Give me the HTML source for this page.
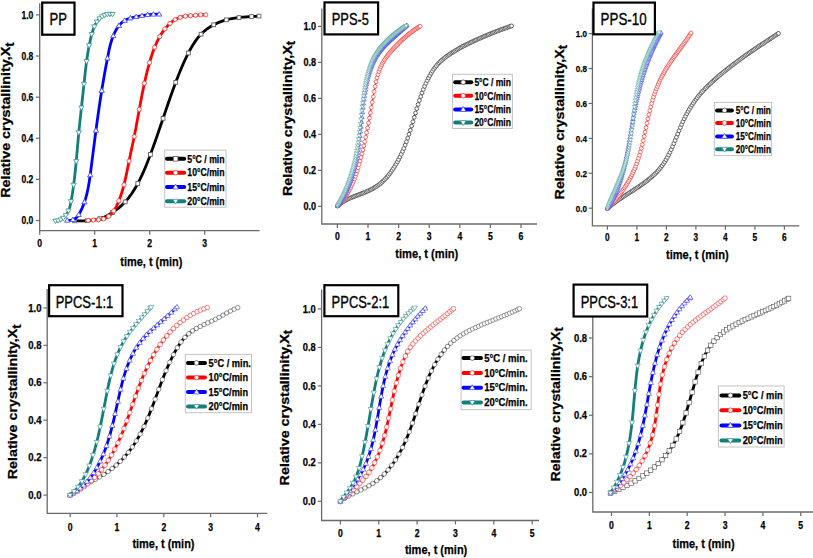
<!DOCTYPE html><html><head><meta charset="utf-8"><style>html,body{margin:0;padding:0;background:#fff;}svg{display:block}</style></head><body>
<svg width="813" height="558" viewBox="0 0 813 558">
<rect width="813" height="558" fill="#fff"/>
<path d="M39.7 3.3 V230.7 H259.6" fill="none" stroke="#6a6a6a" stroke-width="1.3"/>
<line x1="35.900000000000006" y1="220.50" x2="39.7" y2="220.50" stroke="#6a6a6a" stroke-width="1.2"/>
<text x="33.3" y="224.1" font-family="Liberation Sans" font-size="10" font-weight="bold" text-anchor="end" textLength="11.8" lengthAdjust="spacingAndGlyphs" stroke="#000" stroke-width="0.25">0.0</text>
<line x1="35.900000000000006" y1="179.38" x2="39.7" y2="179.38" stroke="#6a6a6a" stroke-width="1.2"/>
<text x="33.3" y="182.98" font-family="Liberation Sans" font-size="10" font-weight="bold" text-anchor="end" textLength="11.8" lengthAdjust="spacingAndGlyphs" stroke="#000" stroke-width="0.25">0.2</text>
<line x1="35.900000000000006" y1="138.26" x2="39.7" y2="138.26" stroke="#6a6a6a" stroke-width="1.2"/>
<text x="33.3" y="141.86" font-family="Liberation Sans" font-size="10" font-weight="bold" text-anchor="end" textLength="11.8" lengthAdjust="spacingAndGlyphs" stroke="#000" stroke-width="0.25">0.4</text>
<line x1="35.900000000000006" y1="97.14" x2="39.7" y2="97.14" stroke="#6a6a6a" stroke-width="1.2"/>
<text x="33.3" y="100.74" font-family="Liberation Sans" font-size="10" font-weight="bold" text-anchor="end" textLength="11.8" lengthAdjust="spacingAndGlyphs" stroke="#000" stroke-width="0.25">0.6</text>
<line x1="35.900000000000006" y1="56.02" x2="39.7" y2="56.02" stroke="#6a6a6a" stroke-width="1.2"/>
<text x="33.3" y="59.62" font-family="Liberation Sans" font-size="10" font-weight="bold" text-anchor="end" textLength="11.8" lengthAdjust="spacingAndGlyphs" stroke="#000" stroke-width="0.25">0.8</text>
<line x1="35.900000000000006" y1="14.90" x2="39.7" y2="14.90" stroke="#6a6a6a" stroke-width="1.2"/>
<text x="33.3" y="18.5" font-family="Liberation Sans" font-size="10" font-weight="bold" text-anchor="end" textLength="11.8" lengthAdjust="spacingAndGlyphs" stroke="#000" stroke-width="0.25">1.0</text>
<line x1="39.70" y1="230.7" x2="39.70" y2="234.7" stroke="#6a6a6a" stroke-width="1.2"/>
<text x="39.7" y="247" font-family="Liberation Sans" font-size="10" font-weight="bold" text-anchor="middle" textLength="4.8" lengthAdjust="spacingAndGlyphs" stroke="#000" stroke-width="0.25">0</text>
<line x1="94.70" y1="230.7" x2="94.70" y2="234.7" stroke="#6a6a6a" stroke-width="1.2"/>
<text x="94.7" y="247" font-family="Liberation Sans" font-size="10" font-weight="bold" text-anchor="middle" textLength="4.8" lengthAdjust="spacingAndGlyphs" stroke="#000" stroke-width="0.25">1</text>
<line x1="149.70" y1="230.7" x2="149.70" y2="234.7" stroke="#6a6a6a" stroke-width="1.2"/>
<text x="149.7" y="247" font-family="Liberation Sans" font-size="10" font-weight="bold" text-anchor="middle" textLength="4.8" lengthAdjust="spacingAndGlyphs" stroke="#000" stroke-width="0.25">2</text>
<line x1="204.70" y1="230.7" x2="204.70" y2="234.7" stroke="#6a6a6a" stroke-width="1.2"/>
<text x="204.7" y="247" font-family="Liberation Sans" font-size="10" font-weight="bold" text-anchor="middle" textLength="4.8" lengthAdjust="spacingAndGlyphs" stroke="#000" stroke-width="0.25">3</text>
<text x="120.3" y="265.5" font-family="Liberation Sans" font-size="12.5" font-weight="bold" text-anchor="start" textLength="62.1" lengthAdjust="spacingAndGlyphs" stroke="#000" stroke-width="0.25">time, t (min)</text>
<text transform="translate(10.0,197.8) rotate(-90)" font-family="Liberation Sans" font-size="13" font-weight="bold" stroke="#000" stroke-width="0.25"><tspan textLength="151.0" lengthAdjust="spacingAndGlyphs">Relative crystallinity,X</tspan><tspan font-size="13" dy="3.8">t</tspan></text>
<path d="M74.50 220.80 L75.92 220.81 L77.45 220.83 L78.97 220.84 L80.50 220.84 L82.03 220.84 L83.56 220.82 L85.09 220.78 L86.62 220.73 L88.14 220.64 L89.65 220.53 L91.16 220.39 L92.66 220.20 L94.05 220.00 L95.54 219.74 L97.01 219.43 L98.46 219.07 L99.91 218.65 L101.34 218.18 L102.75 217.65 L104.15 217.07 L105.53 216.44 L106.90 215.76 L108.25 215.04 L109.58 214.28 L110.89 213.49 L112.09 212.73 L113.36 211.88 L114.62 211.01 L115.85 210.12 L117.06 209.22 L118.25 208.28 L119.41 207.33 L120.55 206.35 L121.67 205.35 L122.77 204.32 L123.84 203.26 L124.89 202.17 L125.84 201.13 L126.84 199.99 L127.81 198.83 L128.76 197.64 L129.68 196.42 L130.59 195.19 L131.47 193.94 L132.33 192.66 L133.17 191.38 L134.00 190.08 L134.80 188.76 L135.58 187.44 L136.35 186.11 L137.05 184.85 L137.78 183.51 L138.50 182.16 L139.20 180.80 L139.89 179.44 L140.56 178.08 L141.22 176.71 L141.87 175.34 L142.51 173.96 L143.13 172.58 L143.74 171.20 L144.34 169.81 L144.90 168.51 L145.48 167.12 L146.06 165.72 L146.62 164.33 L147.18 162.92 L147.74 161.52 L148.29 160.11 L148.83 158.70 L149.37 157.29 L149.90 155.88 L150.43 154.46 L150.96 153.04 L151.48 151.62 L151.97 150.29 L152.49 148.87 L153.01 147.44 L153.52 146.01 L154.03 144.59 L154.54 143.16 L155.05 141.72 L155.55 140.29 L156.05 138.86 L156.56 137.42 L157.06 135.98 L157.55 134.55 L158.02 133.20 L158.51 131.77 L159.01 130.33 L159.50 128.89 L159.99 127.45 L160.48 126.00 L160.97 124.56 L161.46 123.12 L161.95 121.68 L162.44 120.24 L162.93 118.80 L163.42 117.35 L163.91 115.91 L164.37 114.57 L164.86 113.12 L165.35 111.68 L165.84 110.24 L166.33 108.80 L166.82 107.37 L167.32 105.93 L167.81 104.49 L168.31 103.05 L168.80 101.62 L169.30 100.18 L169.80 98.75 L170.30 97.32 L170.77 95.98 L171.28 94.55 L171.79 93.13 L172.30 91.70 L172.81 90.28 L173.33 88.85 L173.84 87.43 L174.36 86.01 L174.89 84.60 L175.41 83.18 L175.94 81.77 L176.48 80.36 L176.98 79.05 L177.52 77.64 L178.07 76.24 L178.62 74.83 L179.18 73.43 L179.74 72.04 L180.31 70.64 L180.89 69.25 L181.48 67.85 L182.07 66.46 L182.68 65.07 L183.29 63.69 L183.91 62.30 L184.50 61.01 L185.14 59.63 L185.80 58.25 L186.46 56.87 L187.14 55.49 L187.83 54.11 L188.53 52.74 L189.25 51.37 L189.98 50.00 L190.73 48.64 L191.50 47.29 L192.28 45.96 L193.03 44.73 L193.86 43.42 L194.71 42.13 L195.58 40.87 L196.48 39.63 L197.41 38.41 L198.36 37.22 L199.35 36.07 L200.36 34.94 L201.41 33.85 L202.48 32.80 L203.59 31.78 L204.73 30.80 L205.82 29.92 L207.01 29.01 L208.23 28.13 L209.47 27.29 L210.74 26.48 L212.03 25.71 L213.34 24.98 L214.67 24.28 L216.03 23.62 L217.40 22.99 L218.79 22.39 L220.20 21.84 L221.52 21.35 L222.96 20.86 L224.41 20.40 L225.87 19.98 L227.34 19.59 L228.83 19.24 L230.32 18.92 L231.82 18.63 L233.33 18.36 L234.84 18.12 L236.36 17.90 L237.89 17.71 L239.42 17.53 L240.84 17.38 L242.37 17.23 L243.90 17.10 L245.43 16.98 L246.96 16.87 L248.49 16.77 L250.01 16.67 L251.53 16.58 L253.04 16.49 L254.54 16.39 L256.04 16.30 L257.52 16.20 L259.00 16.10" fill="none" stroke="#000000" stroke-width="2.8" stroke-linejoin="round" stroke-linecap="round" opacity="1.0"/>
<rect x="72.60" y="218.90" width="3.80" height="3.80" fill="#fff" stroke="#606060" stroke-width="0.9"/>
<rect x="85.33" y="218.80" width="3.80" height="3.80" fill="#fff" stroke="#606060" stroke-width="0.9"/>
<rect x="97.91" y="216.78" width="3.80" height="3.80" fill="#fff" stroke="#606060" stroke-width="0.9"/>
<rect x="110.62" y="210.55" width="3.80" height="3.80" fill="#fff" stroke="#606060" stroke-width="0.9"/>
<rect x="123.26" y="199.98" width="3.80" height="3.80" fill="#fff" stroke="#606060" stroke-width="0.9"/>
<rect x="135.88" y="181.61" width="3.80" height="3.80" fill="#fff" stroke="#606060" stroke-width="0.9"/>
<rect x="148.53" y="152.56" width="3.80" height="3.80" fill="#fff" stroke="#606060" stroke-width="0.9"/>
<rect x="161.16" y="116.51" width="3.80" height="3.80" fill="#fff" stroke="#606060" stroke-width="0.9"/>
<rect x="173.83" y="80.44" width="3.80" height="3.80" fill="#fff" stroke="#606060" stroke-width="0.9"/>
<rect x="186.49" y="51.11" width="3.80" height="3.80" fill="#fff" stroke="#606060" stroke-width="0.9"/>
<rect x="199.15" y="32.31" width="3.80" height="3.80" fill="#fff" stroke="#606060" stroke-width="0.9"/>
<rect x="211.79" y="22.89" width="3.80" height="3.80" fill="#fff" stroke="#606060" stroke-width="0.9"/>
<rect x="224.46" y="17.95" width="3.80" height="3.80" fill="#fff" stroke="#606060" stroke-width="0.9"/>
<rect x="237.11" y="15.67" width="3.80" height="3.80" fill="#fff" stroke="#606060" stroke-width="0.9"/>
<rect x="249.73" y="14.67" width="3.80" height="3.80" fill="#fff" stroke="#606060" stroke-width="0.9"/>
<rect x="257.10" y="14.20" width="3.80" height="3.80" fill="#fff" stroke="#606060" stroke-width="0.9"/>
<path d="M88.20 220.40 L89.57 220.26 L91.01 220.17 L92.51 220.10 L94.05 220.05 L95.62 219.98 L97.20 219.89 L98.78 219.76 L100.43 219.56 L101.95 219.30 L103.41 218.94 L104.80 218.47 L106.12 217.89 L107.37 217.20 L108.55 216.42 L109.72 215.48 L110.77 214.51 L111.75 213.47 L112.68 212.35 L113.56 211.17 L114.39 209.93 L115.17 208.64 L115.95 207.23 L116.65 205.87 L117.31 204.47 L117.94 203.06 L118.54 201.63 L119.12 200.19 L119.67 198.76 L120.20 197.32 L120.73 195.80 L121.22 194.36 L121.69 192.92 L122.13 191.47 L122.57 190.03 L122.98 188.58 L123.38 187.14 L123.79 185.61 L124.16 184.16 L124.52 182.71 L124.87 181.26 L125.20 179.81 L125.53 178.36 L125.85 176.91 L126.18 175.37 L126.49 173.91 L126.79 172.46 L127.09 171.00 L127.38 169.55 L127.68 168.09 L127.97 166.63 L128.26 165.17 L128.57 163.63 L128.86 162.16 L129.16 160.70 L129.46 159.24 L129.76 157.78 L130.06 156.32 L130.37 154.85 L130.69 153.30 L131.00 151.84 L131.31 150.37 L131.62 148.91 L131.93 147.44 L132.24 145.98 L132.55 144.51 L132.88 142.95 L133.19 141.49 L133.49 140.02 L133.79 138.55 L134.09 137.08 L134.39 135.61 L134.68 134.14 L134.99 132.59 L135.27 131.12 L135.56 129.65 L135.84 128.18 L136.12 126.71 L136.39 125.24 L136.67 123.77 L136.94 122.30 L137.23 120.74 L137.50 119.27 L137.77 117.80 L138.04 116.33 L138.31 114.86 L138.57 113.39 L138.84 111.92 L139.13 110.36 L139.40 108.89 L139.67 107.42 L139.94 105.95 L140.21 104.48 L140.48 103.01 L140.76 101.54 L141.05 99.98 L141.33 98.51 L141.61 97.04 L141.90 95.58 L142.18 94.11 L142.48 92.64 L142.77 91.17 L143.07 89.71 L143.39 88.15 L143.69 86.69 L144.00 85.22 L144.32 83.76 L144.64 82.29 L144.96 80.83 L145.29 79.36 L145.65 77.82 L145.99 76.35 L146.34 74.89 L146.69 73.43 L147.06 71.97 L147.42 70.51 L147.80 69.05 L148.20 67.51 L148.59 66.05 L148.99 64.59 L149.40 63.14 L149.81 61.68 L150.23 60.23 L150.67 58.78 L151.14 57.24 L151.59 55.80 L152.06 54.36 L152.55 52.93 L153.05 51.51 L153.56 50.09 L154.09 48.68 L154.64 47.28 L155.24 45.81 L155.83 44.43 L156.44 43.07 L157.07 41.71 L157.73 40.38 L158.41 39.05 L159.11 37.74 L159.88 36.38 L160.63 35.10 L161.42 33.85 L162.23 32.61 L163.07 31.39 L163.94 30.19 L164.84 29.02 L165.83 27.80 L166.80 26.68 L167.81 25.58 L168.85 24.53 L169.92 23.51 L171.03 22.54 L172.18 21.62 L173.37 20.76 L174.67 19.91 L175.95 19.17 L177.26 18.51 L178.62 17.92 L180.02 17.41 L181.46 16.98 L182.94 16.63 L184.55 16.33 L186.08 16.10 L187.63 15.91 L189.19 15.76 L190.75 15.64 L192.30 15.53 L193.84 15.42 L195.45 15.30 L196.94 15.17 L198.40 15.04 L199.85 14.90 L201.30 14.80 L202.75 14.73 L204.22 14.73 L205.80 14.80" fill="none" stroke="#ff0000" stroke-width="2.8" stroke-linejoin="round" stroke-linecap="round" opacity="1.0"/>
<circle cx="88.20" cy="220.40" r="2.10" fill="#fff" stroke="#ff4040" stroke-width="0.9"/>
<circle cx="93.32" cy="220.07" r="2.10" fill="#fff" stroke="#ff4040" stroke-width="0.9"/>
<circle cx="98.50" cy="219.79" r="2.10" fill="#fff" stroke="#ff4040" stroke-width="0.9"/>
<circle cx="103.58" cy="218.89" r="2.10" fill="#fff" stroke="#ff4040" stroke-width="0.9"/>
<circle cx="108.68" cy="216.32" r="2.10" fill="#fff" stroke="#ff4040" stroke-width="0.9"/>
<circle cx="113.76" cy="210.88" r="2.10" fill="#fff" stroke="#ff4040" stroke-width="0.9"/>
<circle cx="118.88" cy="200.79" r="2.10" fill="#fff" stroke="#ff4040" stroke-width="0.9"/>
<circle cx="123.99" cy="184.84" r="2.10" fill="#fff" stroke="#ff4040" stroke-width="0.9"/>
<circle cx="129.09" cy="161.05" r="2.10" fill="#fff" stroke="#ff4040" stroke-width="0.9"/>
<circle cx="134.20" cy="136.56" r="2.10" fill="#fff" stroke="#ff4040" stroke-width="0.9"/>
<circle cx="139.30" cy="109.41" r="2.10" fill="#fff" stroke="#ff4040" stroke-width="0.9"/>
<circle cx="144.41" cy="83.33" r="2.10" fill="#fff" stroke="#ff4040" stroke-width="0.9"/>
<circle cx="149.54" cy="62.62" r="2.10" fill="#fff" stroke="#ff4040" stroke-width="0.9"/>
<circle cx="154.64" cy="47.28" r="2.10" fill="#fff" stroke="#ff4040" stroke-width="0.9"/>
<circle cx="159.75" cy="36.60" r="2.10" fill="#fff" stroke="#ff4040" stroke-width="0.9"/>
<circle cx="164.90" cy="28.95" r="2.10" fill="#fff" stroke="#ff4040" stroke-width="0.9"/>
<circle cx="169.98" cy="23.45" r="2.10" fill="#fff" stroke="#ff4040" stroke-width="0.9"/>
<circle cx="175.12" cy="19.64" r="2.10" fill="#fff" stroke="#ff4040" stroke-width="0.9"/>
<circle cx="180.19" cy="17.36" r="2.10" fill="#fff" stroke="#ff4040" stroke-width="0.9"/>
<circle cx="185.36" cy="16.20" r="2.10" fill="#fff" stroke="#ff4040" stroke-width="0.9"/>
<circle cx="190.48" cy="15.66" r="2.10" fill="#fff" stroke="#ff4040" stroke-width="0.9"/>
<circle cx="195.54" cy="15.29" r="2.10" fill="#fff" stroke="#ff4040" stroke-width="0.9"/>
<circle cx="200.70" cy="14.84" r="2.10" fill="#fff" stroke="#ff4040" stroke-width="0.9"/>
<circle cx="205.80" cy="14.80" r="2.10" fill="#fff" stroke="#ff4040" stroke-width="0.9"/>
<path d="M67.20 220.40 L68.09 220.41 L69.61 220.31 L71.44 220.04 L73.27 219.58 L74.84 218.87 L76.13 217.95 L77.20 216.86 L78.10 215.66 L78.89 214.38 L79.63 213.07 L80.34 211.75 L81.01 210.42 L81.65 209.08 L82.26 207.73 L82.84 206.36 L83.42 204.91 L83.94 203.53 L84.44 202.13 L84.91 200.73 L85.35 199.32 L85.78 197.90 L86.18 196.47 L86.56 195.03 L86.92 193.59 L87.26 192.14 L87.58 190.68 L87.89 189.22 L88.18 187.75 L88.46 186.28 L88.72 184.80 L88.99 183.24 L89.23 181.75 L89.46 180.26 L89.68 178.77 L89.90 177.27 L90.11 175.77 L90.31 174.28 L90.51 172.77 L90.71 171.27 L90.90 169.77 L91.10 168.27 L91.29 166.77 L91.48 165.26 L91.68 163.76 L91.87 162.26 L92.07 160.67 L92.26 159.17 L92.46 157.66 L92.65 156.16 L92.84 154.65 L93.03 153.15 L93.22 151.65 L93.41 150.14 L93.61 148.64 L93.80 147.14 L93.99 145.63 L94.18 144.13 L94.38 142.63 L94.57 141.13 L94.76 139.62 L94.97 138.04 L95.16 136.54 L95.36 135.03 L95.55 133.53 L95.75 132.03 L95.95 130.53 L96.15 129.03 L96.35 127.53 L96.55 126.03 L96.75 124.53 L96.95 123.03 L97.15 121.54 L97.36 120.04 L97.56 118.54 L97.77 117.04 L97.99 115.46 L98.20 113.97 L98.41 112.47 L98.62 110.98 L98.84 109.49 L99.05 107.99 L99.27 106.50 L99.49 105.01 L99.71 103.52 L99.93 102.03 L100.16 100.54 L100.38 99.05 L100.61 97.56 L100.84 96.07 L101.07 94.59 L101.32 93.02 L101.56 91.54 L101.80 90.05 L102.04 88.57 L102.28 87.09 L102.53 85.61 L102.78 84.13 L103.03 82.65 L103.28 81.17 L103.54 79.69 L103.79 78.22 L104.05 76.74 L104.31 75.27 L104.58 73.80 L104.84 72.33 L105.12 70.78 L105.39 69.31 L105.66 67.84 L105.93 66.37 L106.21 64.91 L106.48 63.45 L106.76 61.98 L107.03 60.52 L107.31 59.06 L107.59 57.61 L107.87 56.15 L108.15 54.69 L108.44 53.24 L108.73 51.79 L109.03 50.34 L109.37 48.81 L109.70 47.36 L110.05 45.91 L110.42 44.47 L110.82 43.03 L111.24 41.58 L111.69 40.14 L112.18 38.71 L112.70 37.27 L113.26 35.83 L113.87 34.40 L114.51 32.98 L115.21 31.57 L115.94 30.20 L116.73 28.85 L117.62 27.48 L118.52 26.23 L119.47 25.04 L120.48 23.91 L121.55 22.87 L122.68 21.90 L123.88 21.03 L125.14 20.26 L126.46 19.58 L127.83 19.00 L129.25 18.48 L130.70 18.03 L132.17 17.64 L133.67 17.28 L135.17 16.96 L136.75 16.63 L138.24 16.33 L139.72 16.05 L141.20 15.78 L142.68 15.52 L144.15 15.29 L145.63 15.07 L147.10 14.87 L148.58 14.70 L150.06 14.55 L151.55 14.43 L153.04 14.34 L154.54 14.28 L156.06 14.25 L157.58 14.26 L159.20 14.30" fill="none" stroke="#0000ff" stroke-width="2.8" stroke-linejoin="round" stroke-linecap="round" opacity="1.0"/>
<path d="M67.20 217.75L69.82 222.16L64.57 222.16Z" fill="#fff" stroke="#4848ff" stroke-width="0.9" stroke-linejoin="round"/>
<path d="M72.98 217.02L75.60 221.43L70.35 221.43Z" fill="#fff" stroke="#4848ff" stroke-width="0.9" stroke-linejoin="round"/>
<path d="M78.72 212.02L81.35 216.43L76.10 216.43Z" fill="#fff" stroke="#4848ff" stroke-width="0.9" stroke-linejoin="round"/>
<path d="M84.47 199.41L87.09 203.82L81.84 203.82Z" fill="#fff" stroke="#4848ff" stroke-width="0.9" stroke-linejoin="round"/>
<path d="M90.21 172.38L92.83 176.79L87.58 176.79Z" fill="#fff" stroke="#4848ff" stroke-width="0.9" stroke-linejoin="round"/>
<path d="M95.96 127.80L98.58 132.21L93.33 132.21Z" fill="#fff" stroke="#4848ff" stroke-width="0.9" stroke-linejoin="round"/>
<path d="M101.70 87.98L104.33 92.39L99.08 92.39Z" fill="#fff" stroke="#4848ff" stroke-width="0.9" stroke-linejoin="round"/>
<path d="M107.47 55.61L110.09 60.02L104.84 60.02Z" fill="#fff" stroke="#4848ff" stroke-width="0.9" stroke-linejoin="round"/>
<path d="M113.23 33.27L115.86 37.68L110.61 37.68Z" fill="#fff" stroke="#4848ff" stroke-width="0.9" stroke-linejoin="round"/>
<path d="M118.99 22.98L121.61 27.39L116.36 27.39Z" fill="#fff" stroke="#4848ff" stroke-width="0.9" stroke-linejoin="round"/>
<path d="M124.71 17.86L127.33 22.27L122.08 22.27Z" fill="#fff" stroke="#4848ff" stroke-width="0.9" stroke-linejoin="round"/>
<path d="M130.45 15.46L133.08 19.87L127.83 19.87Z" fill="#fff" stroke="#4848ff" stroke-width="0.9" stroke-linejoin="round"/>
<path d="M136.25 14.09L138.87 18.50L133.62 18.50Z" fill="#fff" stroke="#4848ff" stroke-width="0.9" stroke-linejoin="round"/>
<path d="M142.02 12.99L144.65 17.40L139.40 17.40Z" fill="#fff" stroke="#4848ff" stroke-width="0.9" stroke-linejoin="round"/>
<path d="M147.76 12.15L150.38 16.56L145.13 16.56Z" fill="#fff" stroke="#4848ff" stroke-width="0.9" stroke-linejoin="round"/>
<path d="M153.46 11.68L156.08 16.09L150.83 16.09Z" fill="#fff" stroke="#4848ff" stroke-width="0.9" stroke-linejoin="round"/>
<path d="M159.20 11.65L161.83 16.06L156.58 16.06Z" fill="#fff" stroke="#4848ff" stroke-width="0.9" stroke-linejoin="round"/>
<path d="M55.50 221.00 L57.02 220.79 L58.56 220.42 L60.03 219.91 L61.41 219.26 L62.70 218.48 L63.87 217.57 L64.93 216.55 L65.87 215.43 L66.71 214.22 L67.46 212.94 L68.12 211.60 L68.70 210.22 L69.22 208.80 L69.67 207.37 L70.07 205.91 L70.43 204.43 L70.75 202.94 L71.05 201.44 L71.33 199.94 L71.59 198.43 L71.85 196.93 L72.10 195.42 L72.34 193.92 L72.58 192.41 L72.80 190.90 L73.03 189.39 L73.24 187.89 L73.45 186.38 L73.65 184.87 L73.85 183.36 L74.04 181.85 L74.23 180.34 L74.41 178.83 L74.59 177.32 L74.76 175.81 L74.93 174.30 L75.09 172.79 L75.25 171.28 L75.41 169.77 L75.56 168.26 L75.71 166.75 L75.86 165.24 L76.01 163.73 L76.15 162.22 L76.29 160.70 L76.43 159.19 L76.57 157.68 L76.70 156.17 L76.84 154.66 L76.97 153.14 L77.10 151.63 L77.23 150.12 L77.37 148.61 L77.50 147.10 L77.63 145.58 L77.76 144.07 L77.90 142.56 L78.03 141.05 L78.17 139.53 L78.30 138.02 L78.44 136.51 L78.58 135.00 L78.73 133.48 L78.87 131.97 L79.02 130.46 L79.17 128.95 L79.32 127.44 L79.47 125.93 L79.62 124.41 L79.78 122.90 L79.94 121.39 L80.09 119.88 L80.25 118.37 L80.42 116.86 L80.58 115.35 L80.74 113.84 L80.90 112.33 L81.07 110.82 L81.23 109.31 L81.40 107.80 L81.56 106.29 L81.73 104.78 L81.90 103.27 L82.06 101.77 L82.23 100.26 L82.40 98.75 L82.56 97.24 L82.73 95.74 L82.89 94.23 L83.06 92.72 L83.22 91.22 L83.39 89.71 L83.55 88.21 L83.71 86.70 L83.87 85.20 L84.03 83.70 L84.19 82.19 L84.35 80.69 L84.51 79.19 L84.67 77.68 L84.83 76.18 L84.99 74.68 L85.16 73.18 L85.33 71.68 L85.50 70.18 L85.67 68.68 L85.85 67.18 L86.03 65.68 L86.22 64.18 L86.41 62.68 L86.61 61.18 L86.82 59.68 L87.03 58.18 L87.25 56.68 L87.48 55.18 L87.72 53.68 L87.96 52.18 L88.22 50.68 L88.49 49.18 L88.76 47.68 L89.05 46.18 L89.35 44.68 L89.66 43.17 L89.98 41.67 L90.32 40.17 L90.67 38.67 L91.03 37.17 L91.41 35.67 L91.80 34.17 L92.22 32.68 L92.67 31.20 L93.15 29.74 L93.67 28.30 L94.23 26.89 L94.85 25.52 L95.53 24.19 L96.26 22.90 L97.07 21.66 L97.95 20.47 L98.91 19.35 L99.95 18.29 L101.08 17.31 L102.29 16.43 L103.57 15.67 L104.92 15.03 L106.33 14.55 L107.80 14.22 L109.32 14.05 L110.89 14.04 L112.50 14.20" fill="none" stroke="#127f7c" stroke-width="2.8" stroke-linejoin="round" stroke-linecap="round" opacity="1.0"/>
<path d="M55.50 223.65L58.12 219.24L52.87 219.24Z" fill="#fff" stroke="#4c9e9b" stroke-width="0.9" stroke-linejoin="round"/>
<path d="M58.10 223.19L60.73 218.78L55.48 218.78Z" fill="#fff" stroke="#4c9e9b" stroke-width="0.9" stroke-linejoin="round"/>
<path d="M60.73 222.25L63.36 217.84L58.11 217.84Z" fill="#fff" stroke="#4c9e9b" stroke-width="0.9" stroke-linejoin="round"/>
<path d="M63.30 220.69L65.93 216.28L60.68 216.28Z" fill="#fff" stroke="#4c9e9b" stroke-width="0.9" stroke-linejoin="round"/>
<path d="M65.87 218.08L68.49 213.67L63.24 213.67Z" fill="#fff" stroke="#4c9e9b" stroke-width="0.9" stroke-linejoin="round"/>
<path d="M68.48 213.42L71.10 209.01L65.85 209.01Z" fill="#fff" stroke="#4c9e9b" stroke-width="0.9" stroke-linejoin="round"/>
<path d="M71.05 204.09L73.67 199.68L68.42 199.68Z" fill="#fff" stroke="#4c9e9b" stroke-width="0.9" stroke-linejoin="round"/>
<path d="M73.63 187.67L76.26 183.26L71.01 183.26Z" fill="#fff" stroke="#4c9e9b" stroke-width="0.9" stroke-linejoin="round"/>
<path d="M76.22 164.11L78.85 159.70L73.60 159.70Z" fill="#fff" stroke="#4c9e9b" stroke-width="0.9" stroke-linejoin="round"/>
<path d="M78.81 135.22L81.44 130.81L76.19 130.81Z" fill="#fff" stroke="#4c9e9b" stroke-width="0.9" stroke-linejoin="round"/>
<path d="M81.41 110.37L84.03 105.96L78.78 105.96Z" fill="#fff" stroke="#4c9e9b" stroke-width="0.9" stroke-linejoin="round"/>
<path d="M83.99 86.72L86.62 82.31L81.37 82.31Z" fill="#fff" stroke="#4c9e9b" stroke-width="0.9" stroke-linejoin="round"/>
<path d="M86.58 64.05L89.21 59.64L83.96 59.64Z" fill="#fff" stroke="#4c9e9b" stroke-width="0.9" stroke-linejoin="round"/>
<path d="M89.18 48.15L91.81 43.74L86.56 43.74Z" fill="#fff" stroke="#4c9e9b" stroke-width="0.9" stroke-linejoin="round"/>
<path d="M91.76 36.97L94.38 32.56L89.13 32.56Z" fill="#fff" stroke="#4c9e9b" stroke-width="0.9" stroke-linejoin="round"/>
<path d="M94.35 29.26L96.98 24.85L91.73 24.85Z" fill="#fff" stroke="#4c9e9b" stroke-width="0.9" stroke-linejoin="round"/>
<path d="M96.95 24.49L99.57 20.08L94.32 20.08Z" fill="#fff" stroke="#4c9e9b" stroke-width="0.9" stroke-linejoin="round"/>
<path d="M99.58 21.30L102.20 16.89L96.95 16.89Z" fill="#fff" stroke="#4c9e9b" stroke-width="0.9" stroke-linejoin="round"/>
<path d="M102.16 19.16L104.79 14.75L99.54 14.75Z" fill="#fff" stroke="#4c9e9b" stroke-width="0.9" stroke-linejoin="round"/>
<path d="M104.71 17.77L107.33 13.36L102.08 13.36Z" fill="#fff" stroke="#4c9e9b" stroke-width="0.9" stroke-linejoin="round"/>
<path d="M107.35 16.95L109.98 12.54L104.73 12.54Z" fill="#fff" stroke="#4c9e9b" stroke-width="0.9" stroke-linejoin="round"/>
<path d="M109.94 16.67L112.57 12.26L107.32 12.26Z" fill="#fff" stroke="#4c9e9b" stroke-width="0.9" stroke-linejoin="round"/>
<path d="M112.50 16.85L115.13 12.44L109.88 12.44Z" fill="#fff" stroke="#4c9e9b" stroke-width="0.9" stroke-linejoin="round"/>
<rect x="42.2" y="2.6" width="32.30" height="32.10" fill="#fff" stroke="#000" stroke-width="2.2"/>
<text x="49.4" y="25.1" font-family="Liberation Sans" font-size="16.6" font-weight="normal" text-anchor="start" textLength="17.5" lengthAdjust="spacingAndGlyphs" stroke="#000" stroke-width="0.35">PP</text>
<rect x="164.7" y="150.1" width="61.30" height="57.10" fill="#fff" stroke="#c4c4c4" stroke-width="1"/>
<line x1="167" y1="158.8" x2="184.2" y2="158.8" stroke="#000000" stroke-width="4" stroke-linecap="round"/>
<rect x="173.30" y="156.50" width="4.60" height="4.60" fill="#fff" stroke="#606060" stroke-width="0.8"/>
<text x="187.3" y="162.5" font-family="Liberation Sans" font-size="10.4" font-weight="bold" text-anchor="start" textLength="37.3" lengthAdjust="spacingAndGlyphs" stroke="#000" stroke-width="0.25">5°C / min</text>
<line x1="167" y1="172.7" x2="184.2" y2="172.7" stroke="#ff0000" stroke-width="4" stroke-linecap="round"/>
<circle cx="175.60" cy="172.70" r="2.30" fill="#fff" stroke="#ff4040" stroke-width="0.8"/>
<text x="187.3" y="176.4" font-family="Liberation Sans" font-size="10.4" font-weight="bold" text-anchor="start" textLength="37.3" lengthAdjust="spacingAndGlyphs" stroke="#000" stroke-width="0.25">10°C/min</text>
<line x1="167" y1="187" x2="184.2" y2="187" stroke="#0000ff" stroke-width="4" stroke-linecap="round"/>
<path d="M175.60 184.10L178.47 188.93L172.72 188.93Z" fill="#fff" stroke="#4848ff" stroke-width="0.8" stroke-linejoin="round"/>
<text x="187.3" y="190.7" font-family="Liberation Sans" font-size="10.4" font-weight="bold" text-anchor="start" textLength="37.3" lengthAdjust="spacingAndGlyphs" stroke="#000" stroke-width="0.25">15°C/min</text>
<line x1="167" y1="201.2" x2="184.2" y2="201.2" stroke="#127f7c" stroke-width="4" stroke-linecap="round"/>
<path d="M175.60 204.10L178.47 199.27L172.72 199.27Z" fill="#fff" stroke="#4c9e9b" stroke-width="0.8" stroke-linejoin="round"/>
<text x="187.3" y="204.9" font-family="Liberation Sans" font-size="10.4" font-weight="bold" text-anchor="start" textLength="37.3" lengthAdjust="spacingAndGlyphs" stroke="#000" stroke-width="0.25">20°C/min</text>
<path d="M321.8 8.6 V224.0 H537" fill="none" stroke="#6a6a6a" stroke-width="1.3"/>
<line x1="318.0" y1="206.30" x2="321.8" y2="206.30" stroke="#6a6a6a" stroke-width="1.2"/>
<text x="316" y="209.8" font-family="Liberation Sans" font-size="10" font-weight="bold" text-anchor="end" textLength="12.6" lengthAdjust="spacingAndGlyphs" stroke="#000" stroke-width="0.25">0.0</text>
<line x1="318.0" y1="170.32" x2="321.8" y2="170.32" stroke="#6a6a6a" stroke-width="1.2"/>
<text x="316" y="173.82" font-family="Liberation Sans" font-size="10" font-weight="bold" text-anchor="end" textLength="12.6" lengthAdjust="spacingAndGlyphs" stroke="#000" stroke-width="0.25">0.2</text>
<line x1="318.0" y1="134.34" x2="321.8" y2="134.34" stroke="#6a6a6a" stroke-width="1.2"/>
<text x="316" y="137.84" font-family="Liberation Sans" font-size="10" font-weight="bold" text-anchor="end" textLength="12.6" lengthAdjust="spacingAndGlyphs" stroke="#000" stroke-width="0.25">0.4</text>
<line x1="318.0" y1="98.36" x2="321.8" y2="98.36" stroke="#6a6a6a" stroke-width="1.2"/>
<text x="316" y="101.86" font-family="Liberation Sans" font-size="10" font-weight="bold" text-anchor="end" textLength="12.6" lengthAdjust="spacingAndGlyphs" stroke="#000" stroke-width="0.25">0.6</text>
<line x1="318.0" y1="62.38" x2="321.8" y2="62.38" stroke="#6a6a6a" stroke-width="1.2"/>
<text x="316" y="65.88" font-family="Liberation Sans" font-size="10" font-weight="bold" text-anchor="end" textLength="12.6" lengthAdjust="spacingAndGlyphs" stroke="#000" stroke-width="0.25">0.8</text>
<line x1="318.0" y1="26.40" x2="321.8" y2="26.40" stroke="#6a6a6a" stroke-width="1.2"/>
<text x="316" y="29.9" font-family="Liberation Sans" font-size="10" font-weight="bold" text-anchor="end" textLength="12.6" lengthAdjust="spacingAndGlyphs" stroke="#000" stroke-width="0.25">1.0</text>
<line x1="337.40" y1="224.0" x2="337.40" y2="228.0" stroke="#6a6a6a" stroke-width="1.2"/>
<text x="337.4" y="239.5" font-family="Liberation Sans" font-size="10" font-weight="bold" text-anchor="middle" textLength="4.8" lengthAdjust="spacingAndGlyphs" stroke="#000" stroke-width="0.25">0</text>
<line x1="368.00" y1="224.0" x2="368.00" y2="228.0" stroke="#6a6a6a" stroke-width="1.2"/>
<text x="368.0" y="239.5" font-family="Liberation Sans" font-size="10" font-weight="bold" text-anchor="middle" textLength="4.8" lengthAdjust="spacingAndGlyphs" stroke="#000" stroke-width="0.25">1</text>
<line x1="398.60" y1="224.0" x2="398.60" y2="228.0" stroke="#6a6a6a" stroke-width="1.2"/>
<text x="398.6" y="239.5" font-family="Liberation Sans" font-size="10" font-weight="bold" text-anchor="middle" textLength="4.8" lengthAdjust="spacingAndGlyphs" stroke="#000" stroke-width="0.25">2</text>
<line x1="429.20" y1="224.0" x2="429.20" y2="228.0" stroke="#6a6a6a" stroke-width="1.2"/>
<text x="429.2" y="239.5" font-family="Liberation Sans" font-size="10" font-weight="bold" text-anchor="middle" textLength="4.8" lengthAdjust="spacingAndGlyphs" stroke="#000" stroke-width="0.25">3</text>
<line x1="459.80" y1="224.0" x2="459.80" y2="228.0" stroke="#6a6a6a" stroke-width="1.2"/>
<text x="459.8" y="239.5" font-family="Liberation Sans" font-size="10" font-weight="bold" text-anchor="middle" textLength="4.8" lengthAdjust="spacingAndGlyphs" stroke="#000" stroke-width="0.25">4</text>
<line x1="490.40" y1="224.0" x2="490.40" y2="228.0" stroke="#6a6a6a" stroke-width="1.2"/>
<text x="490.4" y="239.5" font-family="Liberation Sans" font-size="10" font-weight="bold" text-anchor="middle" textLength="4.8" lengthAdjust="spacingAndGlyphs" stroke="#000" stroke-width="0.25">5</text>
<line x1="521.00" y1="224.0" x2="521.00" y2="228.0" stroke="#6a6a6a" stroke-width="1.2"/>
<text x="521.0" y="239.5" font-family="Liberation Sans" font-size="10" font-weight="bold" text-anchor="middle" textLength="4.8" lengthAdjust="spacingAndGlyphs" stroke="#000" stroke-width="0.25">6</text>
<text x="395.3" y="258" font-family="Liberation Sans" font-size="12.5" font-weight="bold" text-anchor="start" textLength="63.0" lengthAdjust="spacingAndGlyphs" stroke="#000" stroke-width="0.25">time, t (min)</text>
<text transform="translate(291.6,196.0) rotate(-90)" font-family="Liberation Sans" font-size="13" font-weight="bold" stroke="#000" stroke-width="0.25"><tspan textLength="150.8" lengthAdjust="spacingAndGlyphs">Relative crystallinity,X</tspan><tspan font-size="13" dy="3.8">t</tspan></text>
<path d="M337.50 206.00 L338.61 205.00 L339.76 204.06 L340.96 203.17 L342.19 202.33 L343.46 201.53 L344.77 200.78 L346.10 200.06 L347.46 199.37 L348.84 198.71 L350.24 198.08 L351.66 197.48 L353.09 196.89 L354.54 196.32 L355.99 195.75 L357.44 195.20 L358.90 194.65 L360.35 194.10 L361.81 193.55 L363.25 192.99 L364.68 192.42 L366.10 191.83 L367.50 191.23 L368.88 190.61 L370.24 189.96 L371.57 189.29 L372.95 188.54 L374.23 187.80 L375.48 187.03 L376.71 186.23 L377.92 185.40 L379.10 184.52 L380.25 183.62 L381.38 182.67 L382.49 181.69 L383.57 180.67 L384.63 179.60 L385.66 178.51 L386.68 177.38 L387.66 176.23 L388.63 175.05 L389.57 173.86 L390.48 172.64 L391.38 171.41 L392.25 170.17 L393.10 168.92 L393.93 167.66 L394.73 166.39 L395.52 165.10 L396.29 163.81 L397.03 162.51 L397.80 161.12 L398.51 159.79 L399.21 158.46 L399.88 157.12 L400.54 155.77 L401.18 154.42 L401.81 153.05 L402.42 151.68 L403.02 150.30 L403.61 148.91 L404.18 147.52 L404.74 146.12 L405.29 144.72 L405.83 143.31 L406.35 141.89 L406.87 140.47 L407.38 139.04 L407.88 137.61 L408.37 136.18 L408.85 134.74 L409.32 133.29 L409.79 131.85 L410.26 130.40 L410.71 128.95 L411.16 127.49 L411.64 125.95 L412.08 124.49 L412.52 123.03 L412.96 121.57 L413.40 120.11 L413.83 118.65 L414.27 117.18 L414.70 115.72 L415.14 114.26 L415.57 112.79 L416.01 111.33 L416.45 109.87 L416.89 108.41 L417.33 106.95 L417.78 105.50 L418.24 104.05 L418.70 102.60 L419.17 101.15 L419.64 99.71 L420.12 98.27 L420.61 96.84 L421.11 95.41 L421.62 93.98 L422.14 92.57 L422.68 91.15 L423.25 89.67 L423.81 88.27 L424.39 86.88 L424.97 85.50 L425.58 84.12 L426.20 82.75 L426.83 81.40 L427.48 80.05 L428.16 78.71 L428.85 77.38 L429.56 76.06 L430.29 74.75 L431.04 73.46 L431.82 72.18 L432.62 70.91 L433.45 69.67 L434.30 68.45 L435.19 67.26 L436.11 66.09 L437.06 64.95 L438.05 63.85 L439.07 62.77 L440.12 61.73 L441.21 60.72 L442.33 59.74 L443.54 58.73 L444.71 57.80 L445.91 56.89 L447.12 56.00 L448.35 55.13 L449.60 54.28 L450.87 53.44 L452.15 52.61 L453.44 51.80 L454.74 51.00 L456.05 50.21 L457.38 49.44 L458.71 48.68 L460.05 47.93 L461.40 47.20 L462.76 46.47 L464.12 45.76 L465.49 45.05 L466.86 44.36 L468.24 43.68 L469.62 43.01 L471.00 42.35 L472.38 41.69 L473.76 41.05 L475.14 40.41 L476.60 39.75 L477.98 39.13 L479.35 38.52 L480.73 37.92 L482.09 37.32 L483.46 36.74 L484.82 36.15 L486.19 35.58 L487.55 35.01 L488.91 34.44 L490.28 33.89 L491.65 33.33 L493.02 32.78 L494.40 32.24 L495.78 31.70 L497.17 31.16 L498.56 30.63 L499.96 30.10 L501.37 29.57 L502.78 29.04 L504.21 28.52 L505.65 28.00 L507.09 27.48 L508.55 26.96 L510.03 26.45 L511.60 25.90" fill="none" stroke="#000000" stroke-width="1.2" stroke-linejoin="round" stroke-linecap="round" opacity="1.0"/>
<circle cx="337.50" cy="206.00" r="1.90" fill="#fff" stroke="#606060" stroke-width="1.0"/>
<circle cx="338.81" cy="204.83" r="1.90" fill="#fff" stroke="#606060" stroke-width="1.0"/>
<circle cx="340.11" cy="203.79" r="1.90" fill="#fff" stroke="#606060" stroke-width="1.0"/>
<circle cx="341.46" cy="202.82" r="1.90" fill="#fff" stroke="#606060" stroke-width="1.0"/>
<circle cx="342.71" cy="202.00" r="1.90" fill="#fff" stroke="#606060" stroke-width="1.0"/>
<circle cx="344.07" cy="201.17" r="1.90" fill="#fff" stroke="#606060" stroke-width="1.0"/>
<circle cx="345.31" cy="200.48" r="1.90" fill="#fff" stroke="#606060" stroke-width="1.0"/>
<circle cx="346.66" cy="199.77" r="1.90" fill="#fff" stroke="#606060" stroke-width="1.0"/>
<circle cx="347.94" cy="199.14" r="1.90" fill="#fff" stroke="#606060" stroke-width="1.0"/>
<circle cx="349.25" cy="198.53" r="1.90" fill="#fff" stroke="#606060" stroke-width="1.0"/>
<circle cx="350.57" cy="197.94" r="1.90" fill="#fff" stroke="#606060" stroke-width="1.0"/>
<circle cx="351.83" cy="197.41" r="1.90" fill="#fff" stroke="#606060" stroke-width="1.0"/>
<circle cx="353.18" cy="196.85" r="1.90" fill="#fff" stroke="#606060" stroke-width="1.0"/>
<circle cx="354.45" cy="196.35" r="1.90" fill="#fff" stroke="#606060" stroke-width="1.0"/>
<circle cx="355.73" cy="195.85" r="1.90" fill="#fff" stroke="#606060" stroke-width="1.0"/>
<circle cx="357.01" cy="195.36" r="1.90" fill="#fff" stroke="#606060" stroke-width="1.0"/>
<circle cx="358.39" cy="194.84" r="1.90" fill="#fff" stroke="#606060" stroke-width="1.0"/>
<circle cx="359.67" cy="194.36" r="1.90" fill="#fff" stroke="#606060" stroke-width="1.0"/>
<circle cx="360.95" cy="193.87" r="1.90" fill="#fff" stroke="#606060" stroke-width="1.0"/>
<circle cx="362.23" cy="193.38" r="1.90" fill="#fff" stroke="#606060" stroke-width="1.0"/>
<circle cx="363.50" cy="192.89" r="1.90" fill="#fff" stroke="#606060" stroke-width="1.0"/>
<circle cx="364.85" cy="192.35" r="1.90" fill="#fff" stroke="#606060" stroke-width="1.0"/>
<circle cx="366.18" cy="191.80" r="1.90" fill="#fff" stroke="#606060" stroke-width="1.0"/>
<circle cx="367.42" cy="191.27" r="1.90" fill="#fff" stroke="#606060" stroke-width="1.0"/>
<circle cx="368.72" cy="190.68" r="1.90" fill="#fff" stroke="#606060" stroke-width="1.0"/>
<circle cx="370.08" cy="190.04" r="1.90" fill="#fff" stroke="#606060" stroke-width="1.0"/>
<circle cx="371.33" cy="189.41" r="1.90" fill="#fff" stroke="#606060" stroke-width="1.0"/>
<circle cx="372.65" cy="188.71" r="1.90" fill="#fff" stroke="#606060" stroke-width="1.0"/>
<circle cx="373.93" cy="187.98" r="1.90" fill="#fff" stroke="#606060" stroke-width="1.0"/>
<circle cx="375.26" cy="187.17" r="1.90" fill="#fff" stroke="#606060" stroke-width="1.0"/>
<circle cx="376.57" cy="186.33" r="1.90" fill="#fff" stroke="#606060" stroke-width="1.0"/>
<circle cx="377.85" cy="185.45" r="1.90" fill="#fff" stroke="#606060" stroke-width="1.0"/>
<circle cx="379.17" cy="184.47" r="1.90" fill="#fff" stroke="#606060" stroke-width="1.0"/>
<circle cx="380.45" cy="183.45" r="1.90" fill="#fff" stroke="#606060" stroke-width="1.0"/>
<circle cx="381.71" cy="182.39" r="1.90" fill="#fff" stroke="#606060" stroke-width="1.0"/>
<circle cx="383.00" cy="181.21" r="1.90" fill="#fff" stroke="#606060" stroke-width="1.0"/>
<circle cx="384.32" cy="179.92" r="1.90" fill="#fff" stroke="#606060" stroke-width="1.0"/>
<circle cx="385.60" cy="178.57" r="1.90" fill="#fff" stroke="#606060" stroke-width="1.0"/>
<circle cx="386.91" cy="177.11" r="1.90" fill="#fff" stroke="#606060" stroke-width="1.0"/>
<circle cx="388.23" cy="175.54" r="1.90" fill="#fff" stroke="#606060" stroke-width="1.0"/>
<circle cx="389.51" cy="173.93" r="1.90" fill="#fff" stroke="#606060" stroke-width="1.0"/>
<circle cx="390.80" cy="172.21" r="1.90" fill="#fff" stroke="#606060" stroke-width="1.0"/>
<circle cx="392.15" cy="170.32" r="1.90" fill="#fff" stroke="#606060" stroke-width="1.0"/>
<circle cx="393.44" cy="168.40" r="1.90" fill="#fff" stroke="#606060" stroke-width="1.0"/>
<circle cx="394.73" cy="166.39" r="1.90" fill="#fff" stroke="#606060" stroke-width="1.0"/>
<circle cx="396.02" cy="164.27" r="1.90" fill="#fff" stroke="#606060" stroke-width="1.0"/>
<circle cx="397.34" cy="161.97" r="1.90" fill="#fff" stroke="#606060" stroke-width="1.0"/>
<circle cx="398.64" cy="159.56" r="1.90" fill="#fff" stroke="#606060" stroke-width="1.0"/>
<circle cx="399.92" cy="157.04" r="1.90" fill="#fff" stroke="#606060" stroke-width="1.0"/>
<circle cx="401.22" cy="154.34" r="1.90" fill="#fff" stroke="#606060" stroke-width="1.0"/>
<circle cx="402.53" cy="151.44" r="1.90" fill="#fff" stroke="#606060" stroke-width="1.0"/>
<circle cx="403.81" cy="148.42" r="1.90" fill="#fff" stroke="#606060" stroke-width="1.0"/>
<circle cx="405.13" cy="145.13" r="1.90" fill="#fff" stroke="#606060" stroke-width="1.0"/>
<circle cx="406.41" cy="141.72" r="1.90" fill="#fff" stroke="#606060" stroke-width="1.0"/>
<circle cx="407.70" cy="138.12" r="1.90" fill="#fff" stroke="#606060" stroke-width="1.0"/>
<circle cx="409.02" cy="134.23" r="1.90" fill="#fff" stroke="#606060" stroke-width="1.0"/>
<circle cx="410.31" cy="130.23" r="1.90" fill="#fff" stroke="#606060" stroke-width="1.0"/>
<circle cx="411.61" cy="126.04" r="1.90" fill="#fff" stroke="#606060" stroke-width="1.0"/>
<circle cx="412.91" cy="121.74" r="1.90" fill="#fff" stroke="#606060" stroke-width="1.0"/>
<circle cx="414.22" cy="117.36" r="1.90" fill="#fff" stroke="#606060" stroke-width="1.0"/>
<circle cx="415.52" cy="112.97" r="1.90" fill="#fff" stroke="#606060" stroke-width="1.0"/>
<circle cx="416.81" cy="108.67" r="1.90" fill="#fff" stroke="#606060" stroke-width="1.0"/>
<circle cx="418.10" cy="104.47" r="1.90" fill="#fff" stroke="#606060" stroke-width="1.0"/>
<circle cx="419.42" cy="100.39" r="1.90" fill="#fff" stroke="#606060" stroke-width="1.0"/>
<circle cx="420.73" cy="96.50" r="1.90" fill="#fff" stroke="#606060" stroke-width="1.0"/>
<circle cx="422.02" cy="92.90" r="1.90" fill="#fff" stroke="#606060" stroke-width="1.0"/>
<circle cx="423.32" cy="89.50" r="1.90" fill="#fff" stroke="#606060" stroke-width="1.0"/>
<circle cx="424.63" cy="86.31" r="1.90" fill="#fff" stroke="#606060" stroke-width="1.0"/>
<circle cx="425.90" cy="83.40" r="1.90" fill="#fff" stroke="#606060" stroke-width="1.0"/>
<circle cx="427.21" cy="80.60" r="1.90" fill="#fff" stroke="#606060" stroke-width="1.0"/>
<circle cx="428.52" cy="78.00" r="1.90" fill="#fff" stroke="#606060" stroke-width="1.0"/>
<circle cx="429.81" cy="75.60" r="1.90" fill="#fff" stroke="#606060" stroke-width="1.0"/>
<circle cx="431.13" cy="73.30" r="1.90" fill="#fff" stroke="#606060" stroke-width="1.0"/>
<circle cx="432.43" cy="71.21" r="1.90" fill="#fff" stroke="#606060" stroke-width="1.0"/>
<circle cx="433.75" cy="69.24" r="1.90" fill="#fff" stroke="#606060" stroke-width="1.0"/>
<circle cx="435.03" cy="67.47" r="1.90" fill="#fff" stroke="#606060" stroke-width="1.0"/>
<circle cx="436.33" cy="65.82" r="1.90" fill="#fff" stroke="#606060" stroke-width="1.0"/>
<circle cx="437.64" cy="64.30" r="1.90" fill="#fff" stroke="#606060" stroke-width="1.0"/>
<circle cx="438.95" cy="62.90" r="1.90" fill="#fff" stroke="#606060" stroke-width="1.0"/>
<circle cx="440.25" cy="61.61" r="1.90" fill="#fff" stroke="#606060" stroke-width="1.0"/>
<circle cx="441.54" cy="60.43" r="1.90" fill="#fff" stroke="#606060" stroke-width="1.0"/>
<circle cx="442.86" cy="59.29" r="1.90" fill="#fff" stroke="#606060" stroke-width="1.0"/>
<circle cx="444.16" cy="58.24" r="1.90" fill="#fff" stroke="#606060" stroke-width="1.0"/>
<circle cx="445.41" cy="57.26" r="1.90" fill="#fff" stroke="#606060" stroke-width="1.0"/>
<circle cx="446.76" cy="56.26" r="1.90" fill="#fff" stroke="#606060" stroke-width="1.0"/>
<circle cx="448.06" cy="55.34" r="1.90" fill="#fff" stroke="#606060" stroke-width="1.0"/>
<circle cx="449.31" cy="54.48" r="1.90" fill="#fff" stroke="#606060" stroke-width="1.0"/>
<circle cx="450.64" cy="53.59" r="1.90" fill="#fff" stroke="#606060" stroke-width="1.0"/>
<circle cx="451.92" cy="52.76" r="1.90" fill="#fff" stroke="#606060" stroke-width="1.0"/>
<circle cx="453.21" cy="51.94" r="1.90" fill="#fff" stroke="#606060" stroke-width="1.0"/>
<circle cx="454.51" cy="51.14" r="1.90" fill="#fff" stroke="#606060" stroke-width="1.0"/>
<circle cx="455.82" cy="50.35" r="1.90" fill="#fff" stroke="#606060" stroke-width="1.0"/>
<circle cx="457.14" cy="49.58" r="1.90" fill="#fff" stroke="#606060" stroke-width="1.0"/>
<circle cx="458.47" cy="48.81" r="1.90" fill="#fff" stroke="#606060" stroke-width="1.0"/>
<circle cx="459.74" cy="48.11" r="1.90" fill="#fff" stroke="#606060" stroke-width="1.0"/>
<circle cx="461.00" cy="47.41" r="1.90" fill="#fff" stroke="#606060" stroke-width="1.0"/>
<circle cx="462.36" cy="46.68" r="1.90" fill="#fff" stroke="#606060" stroke-width="1.0"/>
<circle cx="463.64" cy="46.01" r="1.90" fill="#fff" stroke="#606060" stroke-width="1.0"/>
<circle cx="464.93" cy="45.34" r="1.90" fill="#fff" stroke="#606060" stroke-width="1.0"/>
<circle cx="466.22" cy="44.69" r="1.90" fill="#fff" stroke="#606060" stroke-width="1.0"/>
<circle cx="467.51" cy="44.04" r="1.90" fill="#fff" stroke="#606060" stroke-width="1.0"/>
<circle cx="468.80" cy="43.40" r="1.90" fill="#fff" stroke="#606060" stroke-width="1.0"/>
<circle cx="470.10" cy="42.77" r="1.90" fill="#fff" stroke="#606060" stroke-width="1.0"/>
<circle cx="471.40" cy="42.15" r="1.90" fill="#fff" stroke="#606060" stroke-width="1.0"/>
<circle cx="472.70" cy="41.54" r="1.90" fill="#fff" stroke="#606060" stroke-width="1.0"/>
<circle cx="474.00" cy="40.94" r="1.90" fill="#fff" stroke="#606060" stroke-width="1.0"/>
<circle cx="475.30" cy="40.34" r="1.90" fill="#fff" stroke="#606060" stroke-width="1.0"/>
<circle cx="476.60" cy="39.75" r="1.90" fill="#fff" stroke="#606060" stroke-width="1.0"/>
<circle cx="477.98" cy="39.13" r="1.90" fill="#fff" stroke="#606060" stroke-width="1.0"/>
<circle cx="479.27" cy="38.56" r="1.90" fill="#fff" stroke="#606060" stroke-width="1.0"/>
<circle cx="480.56" cy="37.99" r="1.90" fill="#fff" stroke="#606060" stroke-width="1.0"/>
<circle cx="481.85" cy="37.43" r="1.90" fill="#fff" stroke="#606060" stroke-width="1.0"/>
<circle cx="483.14" cy="36.87" r="1.90" fill="#fff" stroke="#606060" stroke-width="1.0"/>
<circle cx="484.42" cy="36.32" r="1.90" fill="#fff" stroke="#606060" stroke-width="1.0"/>
<circle cx="485.71" cy="35.78" r="1.90" fill="#fff" stroke="#606060" stroke-width="1.0"/>
<circle cx="487.07" cy="35.21" r="1.90" fill="#fff" stroke="#606060" stroke-width="1.0"/>
<circle cx="488.35" cy="34.68" r="1.90" fill="#fff" stroke="#606060" stroke-width="1.0"/>
<circle cx="489.64" cy="34.15" r="1.90" fill="#fff" stroke="#606060" stroke-width="1.0"/>
<circle cx="490.93" cy="33.62" r="1.90" fill="#fff" stroke="#606060" stroke-width="1.0"/>
<circle cx="492.21" cy="33.10" r="1.90" fill="#fff" stroke="#606060" stroke-width="1.0"/>
<circle cx="493.51" cy="32.59" r="1.90" fill="#fff" stroke="#606060" stroke-width="1.0"/>
<circle cx="494.80" cy="32.08" r="1.90" fill="#fff" stroke="#606060" stroke-width="1.0"/>
<circle cx="496.11" cy="31.57" r="1.90" fill="#fff" stroke="#606060" stroke-width="1.0"/>
<circle cx="497.41" cy="31.07" r="1.90" fill="#fff" stroke="#606060" stroke-width="1.0"/>
<circle cx="498.72" cy="30.56" r="1.90" fill="#fff" stroke="#606060" stroke-width="1.0"/>
<circle cx="500.04" cy="30.06" r="1.90" fill="#fff" stroke="#606060" stroke-width="1.0"/>
<circle cx="501.37" cy="29.57" r="1.90" fill="#fff" stroke="#606060" stroke-width="1.0"/>
<circle cx="502.62" cy="29.11" r="1.90" fill="#fff" stroke="#606060" stroke-width="1.0"/>
<circle cx="503.96" cy="28.61" r="1.90" fill="#fff" stroke="#606060" stroke-width="1.0"/>
<circle cx="505.22" cy="28.15" r="1.90" fill="#fff" stroke="#606060" stroke-width="1.0"/>
<circle cx="506.58" cy="27.66" r="1.90" fill="#fff" stroke="#606060" stroke-width="1.0"/>
<circle cx="507.87" cy="27.21" r="1.90" fill="#fff" stroke="#606060" stroke-width="1.0"/>
<circle cx="509.16" cy="26.75" r="1.90" fill="#fff" stroke="#606060" stroke-width="1.0"/>
<circle cx="510.46" cy="26.29" r="1.90" fill="#fff" stroke="#606060" stroke-width="1.0"/>
<circle cx="511.60" cy="25.90" r="1.90" fill="#fff" stroke="#606060" stroke-width="1.0"/>
<path d="M337.50 206.00 L338.59 204.90 L339.64 203.79 L340.65 202.65 L341.64 201.49 L342.63 200.27 L343.55 199.08 L344.44 197.87 L345.30 196.64 L346.13 195.40 L346.97 194.09 L347.75 192.82 L348.50 191.54 L349.22 190.24 L349.95 188.87 L350.63 187.54 L351.28 186.21 L351.91 184.86 L352.52 183.50 L353.14 182.07 L353.71 180.69 L354.26 179.30 L354.80 177.91 L355.32 176.50 L355.84 175.03 L356.33 173.61 L356.80 172.18 L357.27 170.75 L357.73 169.24 L358.17 167.80 L358.60 166.35 L359.01 164.90 L359.42 163.44 L359.84 161.92 L360.23 160.46 L360.62 159.00 L361.00 157.53 L361.37 156.07 L361.76 154.53 L362.12 153.07 L362.48 151.60 L362.83 150.13 L363.20 148.59 L363.54 147.11 L363.88 145.64 L364.21 144.16 L364.54 142.68 L364.87 141.14 L365.19 139.66 L365.51 138.18 L365.82 136.70 L366.13 135.22 L366.45 133.67 L366.75 132.19 L367.04 130.70 L367.34 129.22 L367.64 127.67 L367.93 126.18 L368.21 124.70 L368.49 123.21 L368.77 121.73 L369.06 120.17 L369.34 118.69 L369.61 117.20 L369.88 115.72 L370.15 114.23 L370.43 112.68 L370.70 111.19 L370.96 109.71 L371.23 108.22 L371.50 106.67 L371.76 105.19 L372.02 103.70 L372.28 102.22 L372.54 100.74 L372.81 99.19 L373.07 97.71 L373.33 96.23 L373.59 94.75 L373.85 93.27 L374.13 91.73 L374.39 90.25 L374.66 88.78 L374.93 87.31 L375.22 85.78 L375.51 84.31 L375.82 82.85 L376.14 81.40 L376.47 79.96 L376.84 78.45 L377.22 77.02 L377.61 75.59 L378.03 74.18 L378.48 72.77 L378.98 71.31 L379.49 69.93 L380.04 68.55 L380.62 67.19 L381.26 65.78 L381.92 64.45 L382.61 63.13 L383.36 61.82 L384.14 60.53 L385.00 59.19 L385.86 57.93 L386.75 56.68 L387.67 55.45 L388.62 54.23 L389.64 52.98 L390.64 51.79 L391.66 50.62 L392.70 49.46 L393.80 48.26 L394.86 47.14 L395.94 46.02 L397.02 44.93 L398.10 43.84 L399.24 42.73 L400.32 41.68 L401.41 40.64 L402.50 39.62 L403.60 38.61 L404.75 37.58 L405.86 36.60 L406.98 35.65 L408.11 34.70 L409.31 33.74 L410.47 32.83 L411.64 31.94 L412.83 31.06 L414.03 30.20 L415.31 29.32 L416.56 28.50 L417.83 27.69 L419.12 26.91 L420.50 26.10" fill="none" stroke="#ff0000" stroke-width="1.2" stroke-linejoin="round" stroke-linecap="round" opacity="1.0"/>
<circle cx="337.50" cy="206.00" r="1.90" fill="#fff" stroke="#ff4040" stroke-width="0.75"/>
<circle cx="338.49" cy="205.00" r="1.90" fill="#fff" stroke="#ff4040" stroke-width="0.75"/>
<circle cx="339.40" cy="204.04" r="1.90" fill="#fff" stroke="#ff4040" stroke-width="0.75"/>
<circle cx="340.33" cy="203.01" r="1.90" fill="#fff" stroke="#ff4040" stroke-width="0.75"/>
<circle cx="341.28" cy="201.92" r="1.90" fill="#fff" stroke="#ff4040" stroke-width="0.75"/>
<circle cx="342.20" cy="200.80" r="1.90" fill="#fff" stroke="#ff4040" stroke-width="0.75"/>
<circle cx="343.18" cy="199.57" r="1.90" fill="#fff" stroke="#ff4040" stroke-width="0.75"/>
<circle cx="344.12" cy="198.31" r="1.90" fill="#fff" stroke="#ff4040" stroke-width="0.75"/>
<circle cx="345.03" cy="197.04" r="1.90" fill="#fff" stroke="#ff4040" stroke-width="0.75"/>
<circle cx="345.98" cy="195.63" r="1.90" fill="#fff" stroke="#ff4040" stroke-width="0.75"/>
<circle cx="346.93" cy="194.15" r="1.90" fill="#fff" stroke="#ff4040" stroke-width="0.75"/>
<circle cx="347.85" cy="192.65" r="1.90" fill="#fff" stroke="#ff4040" stroke-width="0.75"/>
<circle cx="348.79" cy="191.01" r="1.90" fill="#fff" stroke="#ff4040" stroke-width="0.75"/>
<circle cx="349.73" cy="189.29" r="1.90" fill="#fff" stroke="#ff4040" stroke-width="0.75"/>
<circle cx="350.69" cy="187.42" r="1.90" fill="#fff" stroke="#ff4040" stroke-width="0.75"/>
<circle cx="351.63" cy="185.48" r="1.90" fill="#fff" stroke="#ff4040" stroke-width="0.75"/>
<circle cx="352.55" cy="183.44" r="1.90" fill="#fff" stroke="#ff4040" stroke-width="0.75"/>
<circle cx="353.51" cy="181.20" r="1.90" fill="#fff" stroke="#ff4040" stroke-width="0.75"/>
<circle cx="354.44" cy="178.86" r="1.90" fill="#fff" stroke="#ff4040" stroke-width="0.75"/>
<circle cx="355.36" cy="176.37" r="1.90" fill="#fff" stroke="#ff4040" stroke-width="0.75"/>
<circle cx="356.31" cy="173.67" r="1.90" fill="#fff" stroke="#ff4040" stroke-width="0.75"/>
<circle cx="357.24" cy="170.81" r="1.90" fill="#fff" stroke="#ff4040" stroke-width="0.75"/>
<circle cx="358.19" cy="167.73" r="1.90" fill="#fff" stroke="#ff4040" stroke-width="0.75"/>
<circle cx="359.13" cy="164.50" r="1.90" fill="#fff" stroke="#ff4040" stroke-width="0.75"/>
<circle cx="360.07" cy="161.06" r="1.90" fill="#fff" stroke="#ff4040" stroke-width="0.75"/>
<circle cx="361.02" cy="157.47" r="1.90" fill="#fff" stroke="#ff4040" stroke-width="0.75"/>
<circle cx="361.94" cy="153.80" r="1.90" fill="#fff" stroke="#ff4040" stroke-width="0.75"/>
<circle cx="362.88" cy="149.92" r="1.90" fill="#fff" stroke="#ff4040" stroke-width="0.75"/>
<circle cx="363.83" cy="145.84" r="1.90" fill="#fff" stroke="#ff4040" stroke-width="0.75"/>
<circle cx="364.77" cy="141.61" r="1.90" fill="#fff" stroke="#ff4040" stroke-width="0.75"/>
<circle cx="365.71" cy="137.24" r="1.90" fill="#fff" stroke="#ff4040" stroke-width="0.75"/>
<circle cx="366.65" cy="132.66" r="1.90" fill="#fff" stroke="#ff4040" stroke-width="0.75"/>
<circle cx="367.59" cy="127.94" r="1.90" fill="#fff" stroke="#ff4040" stroke-width="0.75"/>
<circle cx="368.53" cy="123.01" r="1.90" fill="#fff" stroke="#ff4040" stroke-width="0.75"/>
<circle cx="369.46" cy="118.01" r="1.90" fill="#fff" stroke="#ff4040" stroke-width="0.75"/>
<circle cx="370.41" cy="112.81" r="1.90" fill="#fff" stroke="#ff4040" stroke-width="0.75"/>
<circle cx="371.34" cy="107.55" r="1.90" fill="#fff" stroke="#ff4040" stroke-width="0.75"/>
<circle cx="372.28" cy="102.22" r="1.90" fill="#fff" stroke="#ff4040" stroke-width="0.75"/>
<circle cx="373.23" cy="96.84" r="1.90" fill="#fff" stroke="#ff4040" stroke-width="0.75"/>
<circle cx="374.16" cy="91.53" r="1.90" fill="#fff" stroke="#ff4040" stroke-width="0.75"/>
<circle cx="375.11" cy="86.38" r="1.90" fill="#fff" stroke="#ff4040" stroke-width="0.75"/>
<circle cx="376.05" cy="81.80" r="1.90" fill="#fff" stroke="#ff4040" stroke-width="0.75"/>
<circle cx="376.99" cy="77.86" r="1.90" fill="#fff" stroke="#ff4040" stroke-width="0.75"/>
<circle cx="377.94" cy="74.50" r="1.90" fill="#fff" stroke="#ff4040" stroke-width="0.75"/>
<circle cx="378.87" cy="71.63" r="1.90" fill="#fff" stroke="#ff4040" stroke-width="0.75"/>
<circle cx="379.81" cy="69.11" r="1.90" fill="#fff" stroke="#ff4040" stroke-width="0.75"/>
<circle cx="380.75" cy="66.88" r="1.90" fill="#fff" stroke="#ff4040" stroke-width="0.75"/>
<circle cx="381.70" cy="64.87" r="1.90" fill="#fff" stroke="#ff4040" stroke-width="0.75"/>
<circle cx="382.65" cy="63.07" r="1.90" fill="#fff" stroke="#ff4040" stroke-width="0.75"/>
<circle cx="383.57" cy="61.46" r="1.90" fill="#fff" stroke="#ff4040" stroke-width="0.75"/>
<circle cx="384.51" cy="59.94" r="1.90" fill="#fff" stroke="#ff4040" stroke-width="0.75"/>
<circle cx="385.46" cy="58.50" r="1.90" fill="#fff" stroke="#ff4040" stroke-width="0.75"/>
<circle cx="386.42" cy="57.13" r="1.90" fill="#fff" stroke="#ff4040" stroke-width="0.75"/>
<circle cx="387.33" cy="55.90" r="1.90" fill="#fff" stroke="#ff4040" stroke-width="0.75"/>
<circle cx="388.27" cy="54.67" r="1.90" fill="#fff" stroke="#ff4040" stroke-width="0.75"/>
<circle cx="389.24" cy="53.47" r="1.90" fill="#fff" stroke="#ff4040" stroke-width="0.75"/>
<circle cx="390.14" cy="52.38" r="1.90" fill="#fff" stroke="#ff4040" stroke-width="0.75"/>
<circle cx="391.10" cy="51.25" r="1.90" fill="#fff" stroke="#ff4040" stroke-width="0.75"/>
<circle cx="392.04" cy="50.19" r="1.90" fill="#fff" stroke="#ff4040" stroke-width="0.75"/>
<circle cx="392.99" cy="49.14" r="1.90" fill="#fff" stroke="#ff4040" stroke-width="0.75"/>
<circle cx="393.94" cy="48.11" r="1.90" fill="#fff" stroke="#ff4040" stroke-width="0.75"/>
<circle cx="394.86" cy="47.14" r="1.90" fill="#fff" stroke="#ff4040" stroke-width="0.75"/>
<circle cx="395.79" cy="46.17" r="1.90" fill="#fff" stroke="#ff4040" stroke-width="0.75"/>
<circle cx="396.72" cy="45.22" r="1.90" fill="#fff" stroke="#ff4040" stroke-width="0.75"/>
<circle cx="397.71" cy="44.24" r="1.90" fill="#fff" stroke="#ff4040" stroke-width="0.75"/>
<circle cx="398.64" cy="43.31" r="1.90" fill="#fff" stroke="#ff4040" stroke-width="0.75"/>
<circle cx="399.58" cy="42.39" r="1.90" fill="#fff" stroke="#ff4040" stroke-width="0.75"/>
<circle cx="400.52" cy="41.49" r="1.90" fill="#fff" stroke="#ff4040" stroke-width="0.75"/>
<circle cx="401.46" cy="40.59" r="1.90" fill="#fff" stroke="#ff4040" stroke-width="0.75"/>
<circle cx="402.40" cy="39.71" r="1.90" fill="#fff" stroke="#ff4040" stroke-width="0.75"/>
<circle cx="403.35" cy="38.84" r="1.90" fill="#fff" stroke="#ff4040" stroke-width="0.75"/>
<circle cx="404.25" cy="38.03" r="1.90" fill="#fff" stroke="#ff4040" stroke-width="0.75"/>
<circle cx="405.20" cy="37.18" r="1.90" fill="#fff" stroke="#ff4040" stroke-width="0.75"/>
<circle cx="406.17" cy="36.34" r="1.90" fill="#fff" stroke="#ff4040" stroke-width="0.75"/>
<circle cx="407.08" cy="35.56" r="1.90" fill="#fff" stroke="#ff4040" stroke-width="0.75"/>
<circle cx="408.01" cy="34.79" r="1.90" fill="#fff" stroke="#ff4040" stroke-width="0.75"/>
<circle cx="408.94" cy="34.03" r="1.90" fill="#fff" stroke="#ff4040" stroke-width="0.75"/>
<circle cx="409.88" cy="33.28" r="1.90" fill="#fff" stroke="#ff4040" stroke-width="0.75"/>
<circle cx="410.84" cy="32.54" r="1.90" fill="#fff" stroke="#ff4040" stroke-width="0.75"/>
<circle cx="411.80" cy="31.82" r="1.90" fill="#fff" stroke="#ff4040" stroke-width="0.75"/>
<circle cx="412.72" cy="31.14" r="1.90" fill="#fff" stroke="#ff4040" stroke-width="0.75"/>
<circle cx="413.65" cy="30.47" r="1.90" fill="#fff" stroke="#ff4040" stroke-width="0.75"/>
<circle cx="414.59" cy="29.82" r="1.90" fill="#fff" stroke="#ff4040" stroke-width="0.75"/>
<circle cx="415.54" cy="29.17" r="1.90" fill="#fff" stroke="#ff4040" stroke-width="0.75"/>
<circle cx="416.50" cy="28.54" r="1.90" fill="#fff" stroke="#ff4040" stroke-width="0.75"/>
<circle cx="417.42" cy="27.95" r="1.90" fill="#fff" stroke="#ff4040" stroke-width="0.75"/>
<circle cx="418.35" cy="27.37" r="1.90" fill="#fff" stroke="#ff4040" stroke-width="0.75"/>
<circle cx="419.30" cy="26.80" r="1.90" fill="#fff" stroke="#ff4040" stroke-width="0.75"/>
<circle cx="420.26" cy="26.24" r="1.90" fill="#fff" stroke="#ff4040" stroke-width="0.75"/>
<path d="M337.50 206.00 L338.34 204.77 L339.20 203.48 L340.04 202.18 L340.82 200.92 L341.61 199.60 L342.38 198.27 L343.13 196.93 L343.82 195.65 L344.53 194.29 L345.22 192.93 L345.86 191.62 L346.50 190.24 L347.13 188.86 L347.74 187.46 L348.31 186.13 L348.88 184.72 L349.44 183.30 L349.96 181.95 L350.48 180.52 L350.98 179.09 L351.47 177.65 L351.93 176.26 L352.39 174.81 L352.83 173.36 L353.24 171.96 L353.65 170.49 L354.05 169.02 L354.44 167.54 L354.80 166.12 L355.16 164.64 L355.51 163.15 L355.84 161.65 L356.15 160.22 L356.47 158.71 L356.77 157.20 L357.05 155.76 L357.33 154.25 L357.60 152.73 L357.86 151.21 L358.10 149.75 L358.34 148.22 L358.58 146.70 L358.80 145.23 L359.02 143.70 L359.23 142.16 L359.43 140.62 L359.62 139.15 L359.81 137.61 L360.00 136.07 L360.17 134.59 L360.35 133.05 L360.52 131.51 L360.69 129.96 L360.85 128.48 L361.01 126.93 L361.17 125.39 L361.32 123.84 L361.47 122.36 L361.63 120.82 L361.79 119.27 L361.93 117.79 L362.09 116.25 L362.25 114.71 L362.41 113.16 L362.56 111.69 L362.73 110.15 L362.90 108.62 L363.06 107.15 L363.24 105.61 L363.42 104.08 L363.61 102.55 L363.79 101.09 L363.99 99.57 L364.20 98.05 L364.40 96.60 L364.62 95.09 L364.85 93.58 L365.09 92.07 L365.33 90.63 L365.59 89.13 L365.85 87.64 L366.13 86.15 L366.41 84.72 L366.72 83.24 L367.03 81.77 L367.35 80.36 L367.69 78.89 L368.04 77.43 L368.42 75.97 L368.79 74.59 L369.19 73.14 L369.61 71.70 L370.03 70.34 L370.49 68.92 L370.98 67.50 L371.49 66.10 L372.01 64.77 L372.58 63.38 L373.18 62.01 L373.79 60.72 L374.46 59.37 L375.17 58.04 L375.92 56.72 L376.67 55.48 L377.50 54.19 L378.38 52.92 L379.30 51.67 L380.21 50.49 L381.20 49.27 L382.22 48.07 L383.22 46.93 L384.29 45.76 L385.39 44.60 L386.50 43.46 L387.58 42.39 L388.72 41.28 L389.88 40.18 L390.99 39.15 L392.16 38.08 L393.34 37.02 L394.52 35.98 L395.65 34.99 L396.82 33.96 L397.99 32.95 L399.11 31.98 L400.26 30.99 L401.40 30.00 L402.53 29.02 L403.59 28.09 L404.69 27.12 L405.75 26.16 L406.80 25.20" fill="none" stroke="#0000ff" stroke-width="1.2" stroke-linejoin="round" stroke-linecap="round" opacity="1.0"/>
<path d="M337.50 203.86L339.63 207.43L335.38 207.43Z" fill="#fff" stroke="#4848ff" stroke-width="0.7" stroke-linejoin="round"/>
<path d="M338.00 203.13L340.13 206.70L335.88 206.70Z" fill="#fff" stroke="#4848ff" stroke-width="0.7" stroke-linejoin="round"/>
<path d="M338.53 202.35L340.66 205.92L336.41 205.92Z" fill="#fff" stroke="#4848ff" stroke-width="0.7" stroke-linejoin="round"/>
<path d="M339.02 201.62L341.14 205.19L336.89 205.19Z" fill="#fff" stroke="#4848ff" stroke-width="0.7" stroke-linejoin="round"/>
<path d="M339.53 200.83L341.66 204.40L337.41 204.40Z" fill="#fff" stroke="#4848ff" stroke-width="0.7" stroke-linejoin="round"/>
<path d="M340.00 200.09L342.13 203.66L337.88 203.66Z" fill="#fff" stroke="#4848ff" stroke-width="0.7" stroke-linejoin="round"/>
<path d="M340.50 199.29L342.63 202.86L338.38 202.86Z" fill="#fff" stroke="#4848ff" stroke-width="0.7" stroke-linejoin="round"/>
<path d="M341.03 198.44L343.15 202.01L338.90 202.01Z" fill="#fff" stroke="#4848ff" stroke-width="0.7" stroke-linejoin="round"/>
<path d="M341.51 197.63L343.63 201.20L339.38 201.20Z" fill="#fff" stroke="#4848ff" stroke-width="0.7" stroke-linejoin="round"/>
<path d="M342.01 196.77L344.14 200.34L339.89 200.34Z" fill="#fff" stroke="#4848ff" stroke-width="0.7" stroke-linejoin="round"/>
<path d="M342.51 195.90L344.64 199.47L340.39 199.47Z" fill="#fff" stroke="#4848ff" stroke-width="0.7" stroke-linejoin="round"/>
<path d="M343.03 194.97L345.16 198.54L340.91 198.54Z" fill="#fff" stroke="#4848ff" stroke-width="0.7" stroke-linejoin="round"/>
<path d="M343.51 194.09L345.63 197.66L341.38 197.66Z" fill="#fff" stroke="#4848ff" stroke-width="0.7" stroke-linejoin="round"/>
<path d="M344.01 193.15L346.13 196.72L341.88 196.72Z" fill="#fff" stroke="#4848ff" stroke-width="0.7" stroke-linejoin="round"/>
<path d="M344.50 192.21L346.63 195.78L342.38 195.78Z" fill="#fff" stroke="#4848ff" stroke-width="0.7" stroke-linejoin="round"/>
<path d="M345.01 191.20L347.14 194.77L342.89 194.77Z" fill="#fff" stroke="#4848ff" stroke-width="0.7" stroke-linejoin="round"/>
<path d="M345.51 190.19L347.64 193.76L343.39 193.76Z" fill="#fff" stroke="#4848ff" stroke-width="0.7" stroke-linejoin="round"/>
<path d="M346.03 189.12L348.15 192.69L343.90 192.69Z" fill="#fff" stroke="#4848ff" stroke-width="0.7" stroke-linejoin="round"/>
<path d="M346.50 188.10L348.63 191.67L344.38 191.67Z" fill="#fff" stroke="#4848ff" stroke-width="0.7" stroke-linejoin="round"/>
<path d="M347.03 186.96L349.15 190.53L344.90 190.53Z" fill="#fff" stroke="#4848ff" stroke-width="0.7" stroke-linejoin="round"/>
<path d="M347.51 185.87L349.63 189.44L345.38 189.44Z" fill="#fff" stroke="#4848ff" stroke-width="0.7" stroke-linejoin="round"/>
<path d="M348.00 184.71L350.13 188.28L345.88 188.28Z" fill="#fff" stroke="#4848ff" stroke-width="0.7" stroke-linejoin="round"/>
<path d="M348.51 183.49L350.64 187.06L346.39 187.06Z" fill="#fff" stroke="#4848ff" stroke-width="0.7" stroke-linejoin="round"/>
<path d="M349.01 182.27L351.13 185.84L346.88 185.84Z" fill="#fff" stroke="#4848ff" stroke-width="0.7" stroke-linejoin="round"/>
<path d="M349.51 180.98L351.64 184.55L347.39 184.55Z" fill="#fff" stroke="#4848ff" stroke-width="0.7" stroke-linejoin="round"/>
<path d="M350.00 179.68L352.13 183.25L347.88 183.25Z" fill="#fff" stroke="#4848ff" stroke-width="0.7" stroke-linejoin="round"/>
<path d="M350.50 178.32L352.63 181.89L348.38 181.89Z" fill="#fff" stroke="#4848ff" stroke-width="0.7" stroke-linejoin="round"/>
<path d="M351.01 176.88L353.13 180.45L348.88 180.45Z" fill="#fff" stroke="#4848ff" stroke-width="0.7" stroke-linejoin="round"/>
<path d="M351.52 175.38L353.64 178.95L349.39 178.95Z" fill="#fff" stroke="#4848ff" stroke-width="0.7" stroke-linejoin="round"/>
<path d="M352.01 173.87L354.13 177.44L349.88 177.44Z" fill="#fff" stroke="#4848ff" stroke-width="0.7" stroke-linejoin="round"/>
<path d="M352.50 172.29L354.63 175.86L350.38 175.86Z" fill="#fff" stroke="#4848ff" stroke-width="0.7" stroke-linejoin="round"/>
<path d="M353.02 170.58L355.14 174.15L350.89 174.15Z" fill="#fff" stroke="#4848ff" stroke-width="0.7" stroke-linejoin="round"/>
<path d="M353.51 168.86L355.64 172.43L351.39 172.43Z" fill="#fff" stroke="#4848ff" stroke-width="0.7" stroke-linejoin="round"/>
<path d="M354.00 167.07L356.13 170.64L351.88 170.64Z" fill="#fff" stroke="#4848ff" stroke-width="0.7" stroke-linejoin="round"/>
<path d="M354.51 165.14L356.63 168.71L352.38 168.71Z" fill="#fff" stroke="#4848ff" stroke-width="0.7" stroke-linejoin="round"/>
<path d="M355.00 163.14L357.13 166.71L352.88 166.71Z" fill="#fff" stroke="#4848ff" stroke-width="0.7" stroke-linejoin="round"/>
<path d="M355.51 161.00L357.63 164.57L353.38 164.57Z" fill="#fff" stroke="#4848ff" stroke-width="0.7" stroke-linejoin="round"/>
<path d="M356.01 158.73L358.14 162.30L353.89 162.30Z" fill="#fff" stroke="#4848ff" stroke-width="0.7" stroke-linejoin="round"/>
<path d="M356.51 156.37L358.63 159.94L354.38 159.94Z" fill="#fff" stroke="#4848ff" stroke-width="0.7" stroke-linejoin="round"/>
<path d="M357.01 153.81L359.13 157.38L354.88 157.38Z" fill="#fff" stroke="#4848ff" stroke-width="0.7" stroke-linejoin="round"/>
<path d="M357.51 151.11L359.63 154.68L355.38 154.68Z" fill="#fff" stroke="#4848ff" stroke-width="0.7" stroke-linejoin="round"/>
<path d="M358.00 148.20L360.13 151.77L355.88 151.77Z" fill="#fff" stroke="#4848ff" stroke-width="0.7" stroke-linejoin="round"/>
<path d="M358.51 145.02L360.63 148.59L356.38 148.59Z" fill="#fff" stroke="#4848ff" stroke-width="0.7" stroke-linejoin="round"/>
<path d="M359.01 141.62L361.13 145.19L356.88 145.19Z" fill="#fff" stroke="#4848ff" stroke-width="0.7" stroke-linejoin="round"/>
<path d="M359.50 137.95L361.63 141.52L357.38 141.52Z" fill="#fff" stroke="#4848ff" stroke-width="0.7" stroke-linejoin="round"/>
<path d="M360.01 133.86L362.13 137.43L357.88 137.43Z" fill="#fff" stroke="#4848ff" stroke-width="0.7" stroke-linejoin="round"/>
<path d="M360.51 129.50L362.63 133.07L358.38 133.07Z" fill="#fff" stroke="#4848ff" stroke-width="0.7" stroke-linejoin="round"/>
<path d="M361.01 124.79L363.13 128.36L358.88 128.36Z" fill="#fff" stroke="#4848ff" stroke-width="0.7" stroke-linejoin="round"/>
<path d="M361.50 119.95L363.63 123.52L359.38 123.52Z" fill="#fff" stroke="#4848ff" stroke-width="0.7" stroke-linejoin="round"/>
<path d="M362.00 114.98L364.13 118.55L359.88 118.55Z" fill="#fff" stroke="#4848ff" stroke-width="0.7" stroke-linejoin="round"/>
<path d="M362.51 110.08L364.63 113.65L360.38 113.65Z" fill="#fff" stroke="#4848ff" stroke-width="0.7" stroke-linejoin="round"/>
<path d="M363.00 105.54L365.13 109.11L360.88 109.11Z" fill="#fff" stroke="#4848ff" stroke-width="0.7" stroke-linejoin="round"/>
<path d="M363.50 101.28L365.63 104.85L361.38 104.85Z" fill="#fff" stroke="#4848ff" stroke-width="0.7" stroke-linejoin="round"/>
<path d="M364.01 97.30L366.13 100.87L361.88 100.87Z" fill="#fff" stroke="#4848ff" stroke-width="0.7" stroke-linejoin="round"/>
<path d="M364.51 93.73L366.63 97.30L362.38 97.30Z" fill="#fff" stroke="#4848ff" stroke-width="0.7" stroke-linejoin="round"/>
<path d="M365.01 90.45L367.13 94.02L362.88 94.02Z" fill="#fff" stroke="#4848ff" stroke-width="0.7" stroke-linejoin="round"/>
<path d="M365.51 87.45L367.63 91.02L363.38 91.02Z" fill="#fff" stroke="#4848ff" stroke-width="0.7" stroke-linejoin="round"/>
<path d="M366.01 84.65L368.14 88.22L363.89 88.22Z" fill="#fff" stroke="#4848ff" stroke-width="0.7" stroke-linejoin="round"/>
<path d="M366.50 82.13L368.63 85.70L364.38 85.70Z" fill="#fff" stroke="#4848ff" stroke-width="0.7" stroke-linejoin="round"/>
<path d="M367.00 79.75L369.13 83.32L364.88 83.32Z" fill="#fff" stroke="#4848ff" stroke-width="0.7" stroke-linejoin="round"/>
<path d="M367.51 77.51L369.63 81.08L365.38 81.08Z" fill="#fff" stroke="#4848ff" stroke-width="0.7" stroke-linejoin="round"/>
<path d="M368.01 75.41L370.14 78.98L365.89 78.98Z" fill="#fff" stroke="#4848ff" stroke-width="0.7" stroke-linejoin="round"/>
<path d="M368.52 73.45L370.64 77.02L366.39 77.02Z" fill="#fff" stroke="#4848ff" stroke-width="0.7" stroke-linejoin="round"/>
<path d="M369.01 71.63L371.14 75.20L366.89 75.20Z" fill="#fff" stroke="#4848ff" stroke-width="0.7" stroke-linejoin="round"/>
<path d="M369.51 69.87L371.64 73.44L367.39 73.44Z" fill="#fff" stroke="#4848ff" stroke-width="0.7" stroke-linejoin="round"/>
<path d="M370.01 68.26L372.13 71.83L367.88 71.83Z" fill="#fff" stroke="#4848ff" stroke-width="0.7" stroke-linejoin="round"/>
<path d="M370.51 66.71L372.64 70.28L368.39 70.28Z" fill="#fff" stroke="#4848ff" stroke-width="0.7" stroke-linejoin="round"/>
<path d="M371.02 65.24L373.15 68.81L368.90 68.81Z" fill="#fff" stroke="#4848ff" stroke-width="0.7" stroke-linejoin="round"/>
<path d="M371.51 63.90L373.64 67.47L369.39 67.47Z" fill="#fff" stroke="#4848ff" stroke-width="0.7" stroke-linejoin="round"/>
<path d="M372.01 62.62L374.13 66.19L369.88 66.19Z" fill="#fff" stroke="#4848ff" stroke-width="0.7" stroke-linejoin="round"/>
<path d="M372.50 61.42L374.63 64.99L370.38 64.99Z" fill="#fff" stroke="#4848ff" stroke-width="0.7" stroke-linejoin="round"/>
<path d="M373.02 60.23L375.14 63.80L370.89 63.80Z" fill="#fff" stroke="#4848ff" stroke-width="0.7" stroke-linejoin="round"/>
<path d="M373.51 59.16L375.63 62.73L371.38 62.73Z" fill="#fff" stroke="#4848ff" stroke-width="0.7" stroke-linejoin="round"/>
<path d="M374.02 58.10L376.14 61.67L371.89 61.67Z" fill="#fff" stroke="#4848ff" stroke-width="0.7" stroke-linejoin="round"/>
<path d="M374.52 57.11L376.64 60.68L372.39 60.68Z" fill="#fff" stroke="#4848ff" stroke-width="0.7" stroke-linejoin="round"/>
<path d="M375.01 56.19L377.13 59.76L372.88 59.76Z" fill="#fff" stroke="#4848ff" stroke-width="0.7" stroke-linejoin="round"/>
<path d="M375.52 55.27L377.64 58.84L373.39 58.84Z" fill="#fff" stroke="#4848ff" stroke-width="0.7" stroke-linejoin="round"/>
<path d="M376.02 54.41L378.14 57.98L373.89 57.98Z" fill="#fff" stroke="#4848ff" stroke-width="0.7" stroke-linejoin="round"/>
<path d="M376.53 53.56L378.66 57.13L374.41 57.13Z" fill="#fff" stroke="#4848ff" stroke-width="0.7" stroke-linejoin="round"/>
<path d="M377.03 52.78L379.15 56.35L374.90 56.35Z" fill="#fff" stroke="#4848ff" stroke-width="0.7" stroke-linejoin="round"/>
<path d="M377.50 52.05L379.63 55.62L375.38 55.62Z" fill="#fff" stroke="#4848ff" stroke-width="0.7" stroke-linejoin="round"/>
<path d="M378.03 51.28L380.16 54.85L375.91 54.85Z" fill="#fff" stroke="#4848ff" stroke-width="0.7" stroke-linejoin="round"/>
<path d="M378.54 50.56L380.66 54.13L376.41 54.13Z" fill="#fff" stroke="#4848ff" stroke-width="0.7" stroke-linejoin="round"/>
<path d="M379.01 49.91L381.14 53.48L376.89 53.48Z" fill="#fff" stroke="#4848ff" stroke-width="0.7" stroke-linejoin="round"/>
<path d="M379.50 49.26L381.63 52.83L377.38 52.83Z" fill="#fff" stroke="#4848ff" stroke-width="0.7" stroke-linejoin="round"/>
<path d="M380.04 48.56L382.17 52.13L377.92 52.13Z" fill="#fff" stroke="#4848ff" stroke-width="0.7" stroke-linejoin="round"/>
<path d="M380.51 47.97L382.63 51.54L378.38 51.54Z" fill="#fff" stroke="#4848ff" stroke-width="0.7" stroke-linejoin="round"/>
<path d="M381.02 47.34L383.15 50.91L378.90 50.91Z" fill="#fff" stroke="#4848ff" stroke-width="0.7" stroke-linejoin="round"/>
<path d="M381.51 46.76L383.63 50.33L379.38 50.33Z" fill="#fff" stroke="#4848ff" stroke-width="0.7" stroke-linejoin="round"/>
<path d="M382.04 46.13L384.16 49.70L379.91 49.70Z" fill="#fff" stroke="#4848ff" stroke-width="0.7" stroke-linejoin="round"/>
<path d="M382.53 45.56L384.66 49.13L380.41 49.13Z" fill="#fff" stroke="#4848ff" stroke-width="0.7" stroke-linejoin="round"/>
<path d="M383.04 44.99L385.16 48.56L380.91 48.56Z" fill="#fff" stroke="#4848ff" stroke-width="0.7" stroke-linejoin="round"/>
<path d="M383.54 44.43L385.67 48.00L381.42 48.00Z" fill="#fff" stroke="#4848ff" stroke-width="0.7" stroke-linejoin="round"/>
<path d="M384.01 43.92L386.13 47.49L381.88 47.49Z" fill="#fff" stroke="#4848ff" stroke-width="0.7" stroke-linejoin="round"/>
<path d="M384.53 43.36L386.65 46.93L382.40 46.93Z" fill="#fff" stroke="#4848ff" stroke-width="0.7" stroke-linejoin="round"/>
<path d="M385.00 42.86L387.13 46.43L382.88 46.43Z" fill="#fff" stroke="#4848ff" stroke-width="0.7" stroke-linejoin="round"/>
<path d="M385.53 42.31L387.65 45.88L383.40 45.88Z" fill="#fff" stroke="#4848ff" stroke-width="0.7" stroke-linejoin="round"/>
<path d="M386.01 41.82L388.14 45.39L383.89 45.39Z" fill="#fff" stroke="#4848ff" stroke-width="0.7" stroke-linejoin="round"/>
<path d="M386.55 41.27L388.67 44.84L384.42 44.84Z" fill="#fff" stroke="#4848ff" stroke-width="0.7" stroke-linejoin="round"/>
<path d="M387.04 40.78L389.16 44.35L384.91 44.35Z" fill="#fff" stroke="#4848ff" stroke-width="0.7" stroke-linejoin="round"/>
<path d="M387.53 40.30L389.65 43.87L385.40 43.87Z" fill="#fff" stroke="#4848ff" stroke-width="0.7" stroke-linejoin="round"/>
<path d="M388.02 39.81L390.15 43.38L385.90 43.38Z" fill="#fff" stroke="#4848ff" stroke-width="0.7" stroke-linejoin="round"/>
<path d="M388.52 39.33L390.65 42.90L386.40 42.90Z" fill="#fff" stroke="#4848ff" stroke-width="0.7" stroke-linejoin="round"/>
<path d="M389.02 38.85L391.15 42.42L386.90 42.42Z" fill="#fff" stroke="#4848ff" stroke-width="0.7" stroke-linejoin="round"/>
<path d="M389.53 38.37L391.65 41.94L387.40 41.94Z" fill="#fff" stroke="#4848ff" stroke-width="0.7" stroke-linejoin="round"/>
<path d="M390.03 37.90L392.15 41.47L387.90 41.47Z" fill="#fff" stroke="#4848ff" stroke-width="0.7" stroke-linejoin="round"/>
<path d="M390.54 37.43L392.66 41.00L388.41 41.00Z" fill="#fff" stroke="#4848ff" stroke-width="0.7" stroke-linejoin="round"/>
<path d="M391.04 36.96L393.17 40.53L388.92 40.53Z" fill="#fff" stroke="#4848ff" stroke-width="0.7" stroke-linejoin="round"/>
<path d="M391.50 36.54L393.63 40.11L389.38 40.11Z" fill="#fff" stroke="#4848ff" stroke-width="0.7" stroke-linejoin="round"/>
<path d="M392.01 36.08L394.14 39.65L389.89 39.65Z" fill="#fff" stroke="#4848ff" stroke-width="0.7" stroke-linejoin="round"/>
<path d="M392.52 35.61L394.65 39.18L390.40 39.18Z" fill="#fff" stroke="#4848ff" stroke-width="0.7" stroke-linejoin="round"/>
<path d="M393.03 35.15L395.16 38.72L390.91 38.72Z" fill="#fff" stroke="#4848ff" stroke-width="0.7" stroke-linejoin="round"/>
<path d="M393.55 34.70L395.67 38.27L391.42 38.27Z" fill="#fff" stroke="#4848ff" stroke-width="0.7" stroke-linejoin="round"/>
<path d="M394.01 34.29L396.13 37.86L391.88 37.86Z" fill="#fff" stroke="#4848ff" stroke-width="0.7" stroke-linejoin="round"/>
<path d="M394.52 33.83L396.64 37.40L392.39 37.40Z" fill="#fff" stroke="#4848ff" stroke-width="0.7" stroke-linejoin="round"/>
<path d="M395.03 33.38L397.16 36.95L392.91 36.95Z" fill="#fff" stroke="#4848ff" stroke-width="0.7" stroke-linejoin="round"/>
<path d="M395.54 32.93L397.67 36.50L393.42 36.50Z" fill="#fff" stroke="#4848ff" stroke-width="0.7" stroke-linejoin="round"/>
<path d="M396.01 32.53L398.13 36.10L393.88 36.10Z" fill="#fff" stroke="#4848ff" stroke-width="0.7" stroke-linejoin="round"/>
<path d="M396.52 32.09L398.64 35.66L394.39 35.66Z" fill="#fff" stroke="#4848ff" stroke-width="0.7" stroke-linejoin="round"/>
<path d="M397.03 31.64L399.15 35.21L394.90 35.21Z" fill="#fff" stroke="#4848ff" stroke-width="0.7" stroke-linejoin="round"/>
<path d="M397.54 31.20L399.66 34.77L395.41 34.77Z" fill="#fff" stroke="#4848ff" stroke-width="0.7" stroke-linejoin="round"/>
<path d="M398.04 30.76L400.17 34.33L395.92 34.33Z" fill="#fff" stroke="#4848ff" stroke-width="0.7" stroke-linejoin="round"/>
<path d="M398.50 30.37L400.63 33.94L396.38 33.94Z" fill="#fff" stroke="#4848ff" stroke-width="0.7" stroke-linejoin="round"/>
<path d="M399.01 29.93L401.13 33.50L396.88 33.50Z" fill="#fff" stroke="#4848ff" stroke-width="0.7" stroke-linejoin="round"/>
<path d="M399.51 29.50L401.64 33.07L397.39 33.07Z" fill="#fff" stroke="#4848ff" stroke-width="0.7" stroke-linejoin="round"/>
<path d="M400.01 29.06L402.14 32.63L397.89 32.63Z" fill="#fff" stroke="#4848ff" stroke-width="0.7" stroke-linejoin="round"/>
<path d="M400.51 28.63L402.64 32.20L398.39 32.20Z" fill="#fff" stroke="#4848ff" stroke-width="0.7" stroke-linejoin="round"/>
<path d="M401.01 28.20L403.13 31.77L398.88 31.77Z" fill="#fff" stroke="#4848ff" stroke-width="0.7" stroke-linejoin="round"/>
<path d="M401.50 27.77L403.63 31.34L399.38 31.34Z" fill="#fff" stroke="#4848ff" stroke-width="0.7" stroke-linejoin="round"/>
<path d="M402.04 27.30L404.17 30.87L399.92 30.87Z" fill="#fff" stroke="#4848ff" stroke-width="0.7" stroke-linejoin="round"/>
<path d="M402.53 26.88L404.66 30.45L400.41 30.45Z" fill="#fff" stroke="#4848ff" stroke-width="0.7" stroke-linejoin="round"/>
<path d="M403.02 26.45L405.14 30.02L400.89 30.02Z" fill="#fff" stroke="#4848ff" stroke-width="0.7" stroke-linejoin="round"/>
<path d="M403.55 25.99L405.67 29.56L401.42 29.56Z" fill="#fff" stroke="#4848ff" stroke-width="0.7" stroke-linejoin="round"/>
<path d="M404.02 25.57L406.15 29.14L401.90 29.14Z" fill="#fff" stroke="#4848ff" stroke-width="0.7" stroke-linejoin="round"/>
<path d="M404.54 25.10L406.67 28.67L402.42 28.67Z" fill="#fff" stroke="#4848ff" stroke-width="0.7" stroke-linejoin="round"/>
<path d="M405.01 24.68L407.14 28.25L402.89 28.25Z" fill="#fff" stroke="#4848ff" stroke-width="0.7" stroke-linejoin="round"/>
<path d="M405.52 24.22L407.65 27.79L403.40 27.79Z" fill="#fff" stroke="#4848ff" stroke-width="0.7" stroke-linejoin="round"/>
<path d="M406.03 23.77L408.15 27.34L403.90 27.34Z" fill="#fff" stroke="#4848ff" stroke-width="0.7" stroke-linejoin="round"/>
<path d="M406.53 23.31L408.65 26.88L404.40 26.88Z" fill="#fff" stroke="#4848ff" stroke-width="0.7" stroke-linejoin="round"/>
<path d="M406.80 23.06L408.92 26.63L404.67 26.63Z" fill="#fff" stroke="#4848ff" stroke-width="0.7" stroke-linejoin="round"/>
<path d="M337.50 206.00 L338.27 204.74 L339.05 203.42 L339.81 202.10 L340.52 200.82 L341.25 199.47 L341.96 198.12 L342.65 196.76 L343.29 195.45 L343.95 194.08 L344.59 192.70 L345.19 191.37 L345.80 189.98 L346.39 188.57 L346.96 187.17 L347.50 185.81 L348.04 184.39 L348.57 182.97 L349.07 181.60 L349.57 180.16 L350.06 178.72 L350.53 177.27 L350.97 175.88 L351.41 174.42 L351.85 172.96 L352.25 171.55 L352.66 170.08 L353.05 168.60 L353.44 167.12 L353.79 165.70 L354.15 164.21 L354.50 162.72 L354.84 161.22 L355.15 159.78 L355.47 158.28 L355.78 156.77 L356.06 155.33 L356.35 153.81 L356.62 152.30 L356.89 150.78 L357.14 149.32 L357.39 147.80 L357.64 146.27 L357.86 144.81 L358.09 143.28 L358.31 141.75 L358.52 140.22 L358.72 138.75 L358.91 137.22 L359.11 135.68 L359.29 134.21 L359.47 132.67 L359.64 131.14 L359.82 129.60 L359.98 128.12 L360.14 126.59 L360.31 125.05 L360.47 123.51 L360.62 122.04 L360.78 120.50 L360.94 118.96 L361.09 117.49 L361.25 115.95 L361.40 114.42 L361.57 112.89 L361.72 111.42 L361.89 109.89 L362.05 108.36 L362.22 106.90 L362.39 105.38 L362.58 103.85 L362.76 102.33 L362.94 100.88 L363.14 99.36 L363.35 97.85 L363.55 96.41 L363.77 94.90 L363.99 93.40 L364.23 91.90 L364.47 90.47 L364.72 88.97 L364.99 87.49 L365.26 86.00 L365.54 84.59 L365.84 83.11 L366.15 81.64 L366.46 80.23 L366.80 78.77 L367.15 77.31 L367.52 75.86 L367.88 74.48 L368.28 73.04 L368.70 71.60 L369.11 70.23 L369.57 68.81 L370.05 67.40 L370.55 65.99 L371.06 64.66 L371.62 63.27 L372.21 61.90 L372.81 60.59 L373.46 59.23 L374.16 57.89 L374.88 56.56 L375.62 55.30 L376.43 53.99 L377.28 52.70 L378.16 51.43 L379.05 50.22 L380.01 48.97 L381.00 47.74 L381.97 46.58 L383.01 45.39 L384.08 44.21 L385.16 43.05 L386.22 41.95 L387.34 40.83 L388.48 39.73 L389.59 38.69 L390.75 37.62 L391.93 36.58 L393.12 35.55 L394.26 34.59 L395.46 33.60 L396.67 32.64 L397.83 31.74 L399.04 30.82 L400.25 29.92 L401.46 29.04 L402.61 28.23 L403.82 27.39 L405.01 26.59 L406.20 25.80" fill="none" stroke="#127f7c" stroke-width="1.2" stroke-linejoin="round" stroke-linecap="round" opacity="1.0"/>
<path d="M337.50 208.14L339.62 204.57L335.37 204.57Z" fill="#fff" stroke="#4c9e9b" stroke-width="0.55" stroke-linejoin="round"/>
<path d="M337.95 207.40L340.08 203.83L335.83 203.83Z" fill="#fff" stroke="#4c9e9b" stroke-width="0.55" stroke-linejoin="round"/>
<path d="M338.40 206.66L340.53 203.09L336.28 203.09Z" fill="#fff" stroke="#4c9e9b" stroke-width="0.55" stroke-linejoin="round"/>
<path d="M338.88 205.85L341.00 202.28L336.75 202.28Z" fill="#fff" stroke="#4c9e9b" stroke-width="0.55" stroke-linejoin="round"/>
<path d="M339.32 205.10L341.44 201.53L337.19 201.53Z" fill="#fff" stroke="#4c9e9b" stroke-width="0.55" stroke-linejoin="round"/>
<path d="M339.78 204.30L341.90 200.73L337.65 200.73Z" fill="#fff" stroke="#4c9e9b" stroke-width="0.55" stroke-linejoin="round"/>
<path d="M340.20 203.54L342.33 199.97L338.08 199.97Z" fill="#fff" stroke="#4c9e9b" stroke-width="0.55" stroke-linejoin="round"/>
<path d="M340.65 202.73L342.78 199.16L338.53 199.16Z" fill="#fff" stroke="#4c9e9b" stroke-width="0.55" stroke-linejoin="round"/>
<path d="M341.12 201.85L343.25 198.28L339.00 198.28Z" fill="#fff" stroke="#4c9e9b" stroke-width="0.55" stroke-linejoin="round"/>
<path d="M341.56 201.03L343.69 197.46L339.44 197.46Z" fill="#fff" stroke="#4c9e9b" stroke-width="0.55" stroke-linejoin="round"/>
<path d="M342.02 200.14L344.14 196.57L339.89 196.57Z" fill="#fff" stroke="#4c9e9b" stroke-width="0.55" stroke-linejoin="round"/>
<path d="M342.47 199.26L344.60 195.69L340.35 195.69Z" fill="#fff" stroke="#4c9e9b" stroke-width="0.55" stroke-linejoin="round"/>
<path d="M342.92 198.37L345.04 194.80L340.79 194.80Z" fill="#fff" stroke="#4c9e9b" stroke-width="0.55" stroke-linejoin="round"/>
<path d="M343.35 197.48L345.48 193.91L341.23 193.91Z" fill="#fff" stroke="#4c9e9b" stroke-width="0.55" stroke-linejoin="round"/>
<path d="M343.81 196.52L345.94 192.95L341.69 192.95Z" fill="#fff" stroke="#4c9e9b" stroke-width="0.55" stroke-linejoin="round"/>
<path d="M344.26 195.56L346.38 191.99L342.13 191.99Z" fill="#fff" stroke="#4c9e9b" stroke-width="0.55" stroke-linejoin="round"/>
<path d="M344.70 194.60L346.83 191.03L342.58 191.03Z" fill="#fff" stroke="#4c9e9b" stroke-width="0.55" stroke-linejoin="round"/>
<path d="M345.16 193.57L347.29 190.00L343.04 190.00Z" fill="#fff" stroke="#4c9e9b" stroke-width="0.55" stroke-linejoin="round"/>
<path d="M345.61 192.54L347.74 188.97L343.49 188.97Z" fill="#fff" stroke="#4c9e9b" stroke-width="0.55" stroke-linejoin="round"/>
<path d="M346.06 191.51L348.18 187.94L343.93 187.94Z" fill="#fff" stroke="#4c9e9b" stroke-width="0.55" stroke-linejoin="round"/>
<path d="M346.51 190.41L348.64 186.84L344.39 186.84Z" fill="#fff" stroke="#4c9e9b" stroke-width="0.55" stroke-linejoin="round"/>
<path d="M346.96 189.31L349.09 185.74L344.84 185.74Z" fill="#fff" stroke="#4c9e9b" stroke-width="0.55" stroke-linejoin="round"/>
<path d="M347.40 188.20L349.53 184.63L345.28 184.63Z" fill="#fff" stroke="#4c9e9b" stroke-width="0.55" stroke-linejoin="round"/>
<path d="M347.86 187.03L349.98 183.46L345.73 183.46Z" fill="#fff" stroke="#4c9e9b" stroke-width="0.55" stroke-linejoin="round"/>
<path d="M348.32 185.79L350.45 182.22L346.20 182.22Z" fill="#fff" stroke="#4c9e9b" stroke-width="0.55" stroke-linejoin="round"/>
<path d="M348.75 184.61L350.88 181.04L346.63 181.04Z" fill="#fff" stroke="#4c9e9b" stroke-width="0.55" stroke-linejoin="round"/>
<path d="M349.22 183.30L351.35 179.73L347.10 179.73Z" fill="#fff" stroke="#4c9e9b" stroke-width="0.55" stroke-linejoin="round"/>
<path d="M349.65 182.05L351.78 178.48L347.53 178.48Z" fill="#fff" stroke="#4c9e9b" stroke-width="0.55" stroke-linejoin="round"/>
<path d="M350.12 180.67L352.24 177.10L347.99 177.10Z" fill="#fff" stroke="#4c9e9b" stroke-width="0.55" stroke-linejoin="round"/>
<path d="M350.57 179.28L352.69 175.71L348.44 175.71Z" fill="#fff" stroke="#4c9e9b" stroke-width="0.55" stroke-linejoin="round"/>
<path d="M351.01 177.89L353.13 174.32L348.88 174.32Z" fill="#fff" stroke="#4c9e9b" stroke-width="0.55" stroke-linejoin="round"/>
<path d="M351.45 176.43L353.58 172.86L349.33 172.86Z" fill="#fff" stroke="#4c9e9b" stroke-width="0.55" stroke-linejoin="round"/>
<path d="M351.90 174.91L354.03 171.34L349.78 171.34Z" fill="#fff" stroke="#4c9e9b" stroke-width="0.55" stroke-linejoin="round"/>
<path d="M352.36 173.31L354.48 169.74L350.23 169.74Z" fill="#fff" stroke="#4c9e9b" stroke-width="0.55" stroke-linejoin="round"/>
<path d="M352.81 171.64L354.94 168.07L350.69 168.07Z" fill="#fff" stroke="#4c9e9b" stroke-width="0.55" stroke-linejoin="round"/>
<path d="M353.25 169.97L355.38 166.40L351.13 166.40Z" fill="#fff" stroke="#4c9e9b" stroke-width="0.55" stroke-linejoin="round"/>
<path d="M353.71 168.16L355.84 164.59L351.59 164.59Z" fill="#fff" stroke="#4c9e9b" stroke-width="0.55" stroke-linejoin="round"/>
<path d="M354.15 166.35L356.28 162.78L352.03 162.78Z" fill="#fff" stroke="#4c9e9b" stroke-width="0.55" stroke-linejoin="round"/>
<path d="M354.60 164.40L356.73 160.83L352.48 160.83Z" fill="#fff" stroke="#4c9e9b" stroke-width="0.55" stroke-linejoin="round"/>
<path d="M355.05 162.38L357.18 158.81L352.93 158.81Z" fill="#fff" stroke="#4c9e9b" stroke-width="0.55" stroke-linejoin="round"/>
<path d="M355.51 160.22L357.63 156.65L353.38 156.65Z" fill="#fff" stroke="#4c9e9b" stroke-width="0.55" stroke-linejoin="round"/>
<path d="M355.96 157.99L358.08 154.42L353.83 154.42Z" fill="#fff" stroke="#4c9e9b" stroke-width="0.55" stroke-linejoin="round"/>
<path d="M356.41 155.63L358.53 152.06L354.28 152.06Z" fill="#fff" stroke="#4c9e9b" stroke-width="0.55" stroke-linejoin="round"/>
<path d="M356.86 153.12L358.98 149.55L354.73 149.55Z" fill="#fff" stroke="#4c9e9b" stroke-width="0.55" stroke-linejoin="round"/>
<path d="M357.31 150.47L359.43 146.90L355.18 146.90Z" fill="#fff" stroke="#4c9e9b" stroke-width="0.55" stroke-linejoin="round"/>
<path d="M357.76 147.62L359.88 144.05L355.63 144.05Z" fill="#fff" stroke="#4c9e9b" stroke-width="0.55" stroke-linejoin="round"/>
<path d="M358.20 144.63L360.33 141.06L356.08 141.06Z" fill="#fff" stroke="#4c9e9b" stroke-width="0.55" stroke-linejoin="round"/>
<path d="M358.65 141.36L360.78 137.79L356.53 137.79Z" fill="#fff" stroke="#4c9e9b" stroke-width="0.55" stroke-linejoin="round"/>
<path d="M359.11 137.82L361.23 134.25L356.98 134.25Z" fill="#fff" stroke="#4c9e9b" stroke-width="0.55" stroke-linejoin="round"/>
<path d="M359.55 134.08L361.68 130.51L357.43 130.51Z" fill="#fff" stroke="#4c9e9b" stroke-width="0.55" stroke-linejoin="round"/>
<path d="M360.01 130.00L362.13 126.43L357.88 126.43Z" fill="#fff" stroke="#4c9e9b" stroke-width="0.55" stroke-linejoin="round"/>
<path d="M360.45 125.78L362.58 122.21L358.33 122.21Z" fill="#fff" stroke="#4c9e9b" stroke-width="0.55" stroke-linejoin="round"/>
<path d="M360.90 121.44L363.03 117.87L358.78 117.87Z" fill="#fff" stroke="#4c9e9b" stroke-width="0.55" stroke-linejoin="round"/>
<path d="M361.36 117.03L363.48 113.46L359.23 113.46Z" fill="#fff" stroke="#4c9e9b" stroke-width="0.55" stroke-linejoin="round"/>
<path d="M361.81 112.76L363.93 109.19L359.68 109.19Z" fill="#fff" stroke="#4c9e9b" stroke-width="0.55" stroke-linejoin="round"/>
<path d="M362.26 108.71L364.38 105.14L360.13 105.14Z" fill="#fff" stroke="#4c9e9b" stroke-width="0.55" stroke-linejoin="round"/>
<path d="M362.70 104.94L364.83 101.37L360.58 101.37Z" fill="#fff" stroke="#4c9e9b" stroke-width="0.55" stroke-linejoin="round"/>
<path d="M363.15 101.44L365.28 97.87L361.03 97.87Z" fill="#fff" stroke="#4c9e9b" stroke-width="0.55" stroke-linejoin="round"/>
<path d="M363.60 98.16L365.73 94.59L361.48 94.59Z" fill="#fff" stroke="#4c9e9b" stroke-width="0.55" stroke-linejoin="round"/>
<path d="M364.06 95.15L366.18 91.58L361.93 91.58Z" fill="#fff" stroke="#4c9e9b" stroke-width="0.55" stroke-linejoin="round"/>
<path d="M364.51 92.35L366.63 88.78L362.38 88.78Z" fill="#fff" stroke="#4c9e9b" stroke-width="0.55" stroke-linejoin="round"/>
<path d="M364.95 89.82L367.08 86.25L362.83 86.25Z" fill="#fff" stroke="#4c9e9b" stroke-width="0.55" stroke-linejoin="round"/>
<path d="M365.41 87.37L367.54 83.80L363.29 83.80Z" fill="#fff" stroke="#4c9e9b" stroke-width="0.55" stroke-linejoin="round"/>
<path d="M365.85 85.19L367.98 81.62L363.73 81.62Z" fill="#fff" stroke="#4c9e9b" stroke-width="0.55" stroke-linejoin="round"/>
<path d="M366.30 83.08L368.43 79.51L364.18 79.51Z" fill="#fff" stroke="#4c9e9b" stroke-width="0.55" stroke-linejoin="round"/>
<path d="M366.75 81.10L368.88 77.53L364.63 77.53Z" fill="#fff" stroke="#4c9e9b" stroke-width="0.55" stroke-linejoin="round"/>
<path d="M367.21 79.20L369.34 75.63L365.09 75.63Z" fill="#fff" stroke="#4c9e9b" stroke-width="0.55" stroke-linejoin="round"/>
<path d="M367.67 77.44L369.79 73.87L365.54 73.87Z" fill="#fff" stroke="#4c9e9b" stroke-width="0.55" stroke-linejoin="round"/>
<path d="M368.11 75.80L370.23 72.23L365.98 72.23Z" fill="#fff" stroke="#4c9e9b" stroke-width="0.55" stroke-linejoin="round"/>
<path d="M368.57 74.18L370.69 70.61L366.44 70.61Z" fill="#fff" stroke="#4c9e9b" stroke-width="0.55" stroke-linejoin="round"/>
<path d="M369.02 72.69L371.14 69.12L366.89 69.12Z" fill="#fff" stroke="#4c9e9b" stroke-width="0.55" stroke-linejoin="round"/>
<path d="M369.47 71.26L371.59 67.69L367.34 67.69Z" fill="#fff" stroke="#4c9e9b" stroke-width="0.55" stroke-linejoin="round"/>
<path d="M369.90 69.97L372.03 66.40L367.78 66.40Z" fill="#fff" stroke="#4c9e9b" stroke-width="0.55" stroke-linejoin="round"/>
<path d="M370.35 68.69L372.48 65.12L368.23 65.12Z" fill="#fff" stroke="#4c9e9b" stroke-width="0.55" stroke-linejoin="round"/>
<path d="M370.81 67.47L372.93 63.90L368.68 63.90Z" fill="#fff" stroke="#4c9e9b" stroke-width="0.55" stroke-linejoin="round"/>
<path d="M371.25 66.32L373.38 62.75L369.13 62.75Z" fill="#fff" stroke="#4c9e9b" stroke-width="0.55" stroke-linejoin="round"/>
<path d="M371.72 65.17L373.85 61.60L369.60 61.60Z" fill="#fff" stroke="#4c9e9b" stroke-width="0.55" stroke-linejoin="round"/>
<path d="M372.16 64.16L374.29 60.59L370.04 60.59Z" fill="#fff" stroke="#4c9e9b" stroke-width="0.55" stroke-linejoin="round"/>
<path d="M372.62 63.15L374.74 59.58L370.49 59.58Z" fill="#fff" stroke="#4c9e9b" stroke-width="0.55" stroke-linejoin="round"/>
<path d="M373.06 62.20L375.19 58.63L370.94 58.63Z" fill="#fff" stroke="#4c9e9b" stroke-width="0.55" stroke-linejoin="round"/>
<path d="M373.52 61.26L375.65 57.69L371.40 57.69Z" fill="#fff" stroke="#4c9e9b" stroke-width="0.55" stroke-linejoin="round"/>
<path d="M373.97 60.38L376.10 56.81L371.85 56.81Z" fill="#fff" stroke="#4c9e9b" stroke-width="0.55" stroke-linejoin="round"/>
<path d="M374.40 59.57L376.53 56.00L372.28 56.00Z" fill="#fff" stroke="#4c9e9b" stroke-width="0.55" stroke-linejoin="round"/>
<path d="M374.85 58.76L376.98 55.19L372.73 55.19Z" fill="#fff" stroke="#4c9e9b" stroke-width="0.55" stroke-linejoin="round"/>
<path d="M375.31 57.96L377.44 54.39L373.19 54.39Z" fill="#fff" stroke="#4c9e9b" stroke-width="0.55" stroke-linejoin="round"/>
<path d="M375.76 57.21L377.88 53.64L373.63 53.64Z" fill="#fff" stroke="#4c9e9b" stroke-width="0.55" stroke-linejoin="round"/>
<path d="M376.21 56.47L378.34 52.90L374.09 52.90Z" fill="#fff" stroke="#4c9e9b" stroke-width="0.55" stroke-linejoin="round"/>
<path d="M376.68 55.74L378.81 52.17L374.56 52.17Z" fill="#fff" stroke="#4c9e9b" stroke-width="0.55" stroke-linejoin="round"/>
<path d="M377.13 55.07L379.25 51.50L375.00 51.50Z" fill="#fff" stroke="#4c9e9b" stroke-width="0.55" stroke-linejoin="round"/>
<path d="M377.58 54.40L379.71 50.83L375.46 50.83Z" fill="#fff" stroke="#4c9e9b" stroke-width="0.55" stroke-linejoin="round"/>
<path d="M378.01 53.79L380.13 50.22L375.88 50.22Z" fill="#fff" stroke="#4c9e9b" stroke-width="0.55" stroke-linejoin="round"/>
<path d="M378.48 53.13L380.61 49.56L376.36 49.56Z" fill="#fff" stroke="#4c9e9b" stroke-width="0.55" stroke-linejoin="round"/>
<path d="M378.93 52.53L381.05 48.96L376.80 48.96Z" fill="#fff" stroke="#4c9e9b" stroke-width="0.55" stroke-linejoin="round"/>
<path d="M379.38 51.93L381.50 48.36L377.25 48.36Z" fill="#fff" stroke="#4c9e9b" stroke-width="0.55" stroke-linejoin="round"/>
<path d="M379.84 51.33L381.96 47.76L377.71 47.76Z" fill="#fff" stroke="#4c9e9b" stroke-width="0.55" stroke-linejoin="round"/>
<path d="M380.26 50.79L382.39 47.22L378.14 47.22Z" fill="#fff" stroke="#4c9e9b" stroke-width="0.55" stroke-linejoin="round"/>
<path d="M380.73 50.20L382.86 46.63L378.61 46.63Z" fill="#fff" stroke="#4c9e9b" stroke-width="0.55" stroke-linejoin="round"/>
<path d="M381.17 49.67L383.30 46.10L379.05 46.10Z" fill="#fff" stroke="#4c9e9b" stroke-width="0.55" stroke-linejoin="round"/>
<path d="M381.61 49.14L383.74 45.57L379.49 45.57Z" fill="#fff" stroke="#4c9e9b" stroke-width="0.55" stroke-linejoin="round"/>
<path d="M382.06 48.62L384.18 45.05L379.93 45.05Z" fill="#fff" stroke="#4c9e9b" stroke-width="0.55" stroke-linejoin="round"/>
<path d="M382.51 48.10L384.63 44.53L380.38 44.53Z" fill="#fff" stroke="#4c9e9b" stroke-width="0.55" stroke-linejoin="round"/>
<path d="M382.97 47.58L385.09 44.01L380.84 44.01Z" fill="#fff" stroke="#4c9e9b" stroke-width="0.55" stroke-linejoin="round"/>
<path d="M383.43 47.06L385.55 43.49L381.30 43.49Z" fill="#fff" stroke="#4c9e9b" stroke-width="0.55" stroke-linejoin="round"/>
<path d="M383.89 46.55L386.01 42.98L381.76 42.98Z" fill="#fff" stroke="#4c9e9b" stroke-width="0.55" stroke-linejoin="round"/>
<path d="M384.31 46.09L386.44 42.52L382.19 42.52Z" fill="#fff" stroke="#4c9e9b" stroke-width="0.55" stroke-linejoin="round"/>
<path d="M384.78 45.59L386.91 42.02L382.66 42.02Z" fill="#fff" stroke="#4c9e9b" stroke-width="0.55" stroke-linejoin="round"/>
<path d="M385.21 45.14L387.34 41.57L383.09 41.57Z" fill="#fff" stroke="#4c9e9b" stroke-width="0.55" stroke-linejoin="round"/>
<path d="M385.69 44.64L387.81 41.07L383.56 41.07Z" fill="#fff" stroke="#4c9e9b" stroke-width="0.55" stroke-linejoin="round"/>
<path d="M386.12 44.19L388.25 40.62L384.00 40.62Z" fill="#fff" stroke="#4c9e9b" stroke-width="0.55" stroke-linejoin="round"/>
<path d="M386.56 43.75L388.69 40.18L384.44 40.18Z" fill="#fff" stroke="#4c9e9b" stroke-width="0.55" stroke-linejoin="round"/>
<path d="M387.00 43.31L389.13 39.74L384.88 39.74Z" fill="#fff" stroke="#4c9e9b" stroke-width="0.55" stroke-linejoin="round"/>
<path d="M387.49 42.83L389.62 39.26L385.37 39.26Z" fill="#fff" stroke="#4c9e9b" stroke-width="0.55" stroke-linejoin="round"/>
<path d="M387.94 42.39L390.06 38.82L385.81 38.82Z" fill="#fff" stroke="#4c9e9b" stroke-width="0.55" stroke-linejoin="round"/>
<path d="M388.38 41.96L390.51 38.39L386.26 38.39Z" fill="#fff" stroke="#4c9e9b" stroke-width="0.55" stroke-linejoin="round"/>
<path d="M388.83 41.54L390.96 37.97L386.71 37.97Z" fill="#fff" stroke="#4c9e9b" stroke-width="0.55" stroke-linejoin="round"/>
<path d="M389.28 41.11L391.41 37.54L387.16 37.54Z" fill="#fff" stroke="#4c9e9b" stroke-width="0.55" stroke-linejoin="round"/>
<path d="M389.74 40.69L391.86 37.12L387.61 37.12Z" fill="#fff" stroke="#4c9e9b" stroke-width="0.55" stroke-linejoin="round"/>
<path d="M390.19 40.27L392.32 36.70L388.07 36.70Z" fill="#fff" stroke="#4c9e9b" stroke-width="0.55" stroke-linejoin="round"/>
<path d="M390.60 39.90L392.73 36.33L388.48 36.33Z" fill="#fff" stroke="#4c9e9b" stroke-width="0.55" stroke-linejoin="round"/>
<path d="M391.06 39.49L393.18 35.92L388.93 35.92Z" fill="#fff" stroke="#4c9e9b" stroke-width="0.55" stroke-linejoin="round"/>
<path d="M391.52 39.08L393.65 35.51L389.40 35.51Z" fill="#fff" stroke="#4c9e9b" stroke-width="0.55" stroke-linejoin="round"/>
<path d="M391.98 38.67L394.11 35.10L389.86 35.10Z" fill="#fff" stroke="#4c9e9b" stroke-width="0.55" stroke-linejoin="round"/>
<path d="M392.45 38.27L394.57 34.70L390.32 34.70Z" fill="#fff" stroke="#4c9e9b" stroke-width="0.55" stroke-linejoin="round"/>
<path d="M392.86 37.91L394.98 34.34L390.73 34.34Z" fill="#fff" stroke="#4c9e9b" stroke-width="0.55" stroke-linejoin="round"/>
<path d="M393.33 37.52L395.45 33.95L391.20 33.95Z" fill="#fff" stroke="#4c9e9b" stroke-width="0.55" stroke-linejoin="round"/>
<path d="M393.79 37.12L395.92 33.55L391.67 33.55Z" fill="#fff" stroke="#4c9e9b" stroke-width="0.55" stroke-linejoin="round"/>
<path d="M394.21 36.77L396.33 33.20L392.08 33.20Z" fill="#fff" stroke="#4c9e9b" stroke-width="0.55" stroke-linejoin="round"/>
<path d="M394.68 36.39L396.80 32.82L392.55 32.82Z" fill="#fff" stroke="#4c9e9b" stroke-width="0.55" stroke-linejoin="round"/>
<path d="M395.15 36.00L397.27 32.43L393.02 32.43Z" fill="#fff" stroke="#4c9e9b" stroke-width="0.55" stroke-linejoin="round"/>
<path d="M395.57 35.66L397.69 32.09L393.44 32.09Z" fill="#fff" stroke="#4c9e9b" stroke-width="0.55" stroke-linejoin="round"/>
<path d="M396.04 35.28L398.17 31.71L393.92 31.71Z" fill="#fff" stroke="#4c9e9b" stroke-width="0.55" stroke-linejoin="round"/>
<path d="M396.46 34.95L398.59 31.38L394.34 31.38Z" fill="#fff" stroke="#4c9e9b" stroke-width="0.55" stroke-linejoin="round"/>
<path d="M396.93 34.58L399.06 31.01L394.81 31.01Z" fill="#fff" stroke="#4c9e9b" stroke-width="0.55" stroke-linejoin="round"/>
<path d="M397.35 34.25L399.48 30.68L395.23 30.68Z" fill="#fff" stroke="#4c9e9b" stroke-width="0.55" stroke-linejoin="round"/>
<path d="M397.83 33.88L399.95 30.31L395.70 30.31Z" fill="#fff" stroke="#4c9e9b" stroke-width="0.55" stroke-linejoin="round"/>
<path d="M398.30 33.52L400.43 29.95L396.18 29.95Z" fill="#fff" stroke="#4c9e9b" stroke-width="0.55" stroke-linejoin="round"/>
<path d="M398.72 33.20L400.85 29.63L396.60 29.63Z" fill="#fff" stroke="#4c9e9b" stroke-width="0.55" stroke-linejoin="round"/>
<path d="M399.20 32.84L401.32 29.27L397.07 29.27Z" fill="#fff" stroke="#4c9e9b" stroke-width="0.55" stroke-linejoin="round"/>
<path d="M399.62 32.53L401.74 28.96L397.49 28.96Z" fill="#fff" stroke="#4c9e9b" stroke-width="0.55" stroke-linejoin="round"/>
<path d="M400.09 32.18L402.22 28.61L397.97 28.61Z" fill="#fff" stroke="#4c9e9b" stroke-width="0.55" stroke-linejoin="round"/>
<path d="M400.51 31.87L402.64 28.30L398.39 28.30Z" fill="#fff" stroke="#4c9e9b" stroke-width="0.55" stroke-linejoin="round"/>
<path d="M400.99 31.52L403.11 27.95L398.86 27.95Z" fill="#fff" stroke="#4c9e9b" stroke-width="0.55" stroke-linejoin="round"/>
<path d="M401.41 31.22L403.53 27.65L399.28 27.65Z" fill="#fff" stroke="#4c9e9b" stroke-width="0.55" stroke-linejoin="round"/>
<path d="M401.88 30.88L404.01 27.31L399.76 27.31Z" fill="#fff" stroke="#4c9e9b" stroke-width="0.55" stroke-linejoin="round"/>
<path d="M402.30 30.59L404.43 27.02L400.18 27.02Z" fill="#fff" stroke="#4c9e9b" stroke-width="0.55" stroke-linejoin="round"/>
<path d="M402.77 30.26L404.90 26.69L400.65 26.69Z" fill="#fff" stroke="#4c9e9b" stroke-width="0.55" stroke-linejoin="round"/>
<path d="M403.24 29.93L405.37 26.36L401.12 26.36Z" fill="#fff" stroke="#4c9e9b" stroke-width="0.55" stroke-linejoin="round"/>
<path d="M403.66 29.64L405.79 26.07L401.54 26.07Z" fill="#fff" stroke="#4c9e9b" stroke-width="0.55" stroke-linejoin="round"/>
<path d="M404.13 29.32L406.25 25.75L402.00 25.75Z" fill="#fff" stroke="#4c9e9b" stroke-width="0.55" stroke-linejoin="round"/>
<path d="M404.60 29.01L406.72 25.44L402.47 25.44Z" fill="#fff" stroke="#4c9e9b" stroke-width="0.55" stroke-linejoin="round"/>
<path d="M405.01 28.73L407.14 25.16L402.89 25.16Z" fill="#fff" stroke="#4c9e9b" stroke-width="0.55" stroke-linejoin="round"/>
<path d="M405.48 28.42L407.60 24.85L403.35 24.85Z" fill="#fff" stroke="#4c9e9b" stroke-width="0.55" stroke-linejoin="round"/>
<path d="M405.94 28.11L408.07 24.54L403.82 24.54Z" fill="#fff" stroke="#4c9e9b" stroke-width="0.55" stroke-linejoin="round"/>
<path d="M406.20 27.94L408.32 24.37L404.07 24.37Z" fill="#fff" stroke="#4c9e9b" stroke-width="0.55" stroke-linejoin="round"/>
<rect x="324.5" y="2.4000000000000004" width="53.60" height="32.00" fill="#fff" stroke="#000" stroke-width="2.2"/>
<text x="331.8" y="25.2" font-family="Liberation Sans" font-size="16.6" font-weight="normal" text-anchor="start" textLength="37.1" lengthAdjust="spacingAndGlyphs" stroke="#000" stroke-width="0.35">PPS-5</text>
<rect x="452.5" y="74.3" width="59.90" height="54.20" fill="#fff" stroke="#c4c4c4" stroke-width="1"/>
<line x1="455.2" y1="82.2" x2="471.2" y2="82.2" stroke="#000000" stroke-width="4" stroke-linecap="round"/>
<circle cx="463.20" cy="82.20" r="2.30" fill="#fff" stroke="#606060" stroke-width="0.8"/>
<text x="474.4" y="85.9" font-family="Liberation Sans" font-size="10.4" font-weight="bold" text-anchor="start" textLength="36.5" lengthAdjust="spacingAndGlyphs" stroke="#000" stroke-width="0.25">5°C / min</text>
<line x1="455.2" y1="95.8" x2="471.2" y2="95.8" stroke="#ff0000" stroke-width="4" stroke-linecap="round"/>
<circle cx="463.20" cy="95.80" r="2.30" fill="#fff" stroke="#ff4040" stroke-width="0.8"/>
<text x="474.4" y="99.5" font-family="Liberation Sans" font-size="10.4" font-weight="bold" text-anchor="start" textLength="36.5" lengthAdjust="spacingAndGlyphs" stroke="#000" stroke-width="0.25">10°C/min</text>
<line x1="455.2" y1="109.4" x2="471.2" y2="109.4" stroke="#0000ff" stroke-width="4" stroke-linecap="round"/>
<path d="M463.20 106.50L466.07 111.33L460.32 111.33Z" fill="#fff" stroke="#4848ff" stroke-width="0.8" stroke-linejoin="round"/>
<text x="474.4" y="113.1" font-family="Liberation Sans" font-size="10.4" font-weight="bold" text-anchor="start" textLength="36.5" lengthAdjust="spacingAndGlyphs" stroke="#000" stroke-width="0.25">15°C/min</text>
<line x1="455.2" y1="122.6" x2="471.2" y2="122.6" stroke="#127f7c" stroke-width="4" stroke-linecap="round"/>
<path d="M463.20 125.50L466.07 120.67L460.32 120.67Z" fill="#fff" stroke="#4c9e9b" stroke-width="0.8" stroke-linejoin="round"/>
<text x="474.4" y="126.3" font-family="Liberation Sans" font-size="10.4" font-weight="bold" text-anchor="start" textLength="36.5" lengthAdjust="spacingAndGlyphs" stroke="#000" stroke-width="0.25">20°C/min</text>
<path d="M592.4 8.6 V225.8 H799.3" fill="none" stroke="#6a6a6a" stroke-width="1.3"/>
<line x1="588.6" y1="208.20" x2="592.4" y2="208.20" stroke="#6a6a6a" stroke-width="1.2"/>
<text x="587" y="211.5" font-family="Liberation Sans" font-size="9.5" font-weight="bold" text-anchor="end" textLength="11.2" lengthAdjust="spacingAndGlyphs" stroke="#000" stroke-width="0.25">0.0</text>
<line x1="588.6" y1="173.28" x2="592.4" y2="173.28" stroke="#6a6a6a" stroke-width="1.2"/>
<text x="587" y="176.58" font-family="Liberation Sans" font-size="9.5" font-weight="bold" text-anchor="end" textLength="11.2" lengthAdjust="spacingAndGlyphs" stroke="#000" stroke-width="0.25">0.2</text>
<line x1="588.6" y1="138.36" x2="592.4" y2="138.36" stroke="#6a6a6a" stroke-width="1.2"/>
<text x="587" y="141.66" font-family="Liberation Sans" font-size="9.5" font-weight="bold" text-anchor="end" textLength="11.2" lengthAdjust="spacingAndGlyphs" stroke="#000" stroke-width="0.25">0.4</text>
<line x1="588.6" y1="103.44" x2="592.4" y2="103.44" stroke="#6a6a6a" stroke-width="1.2"/>
<text x="587" y="106.74" font-family="Liberation Sans" font-size="9.5" font-weight="bold" text-anchor="end" textLength="11.2" lengthAdjust="spacingAndGlyphs" stroke="#000" stroke-width="0.25">0.6</text>
<line x1="588.6" y1="68.52" x2="592.4" y2="68.52" stroke="#6a6a6a" stroke-width="1.2"/>
<text x="587" y="71.82" font-family="Liberation Sans" font-size="9.5" font-weight="bold" text-anchor="end" textLength="11.2" lengthAdjust="spacingAndGlyphs" stroke="#000" stroke-width="0.25">0.8</text>
<line x1="588.6" y1="33.60" x2="592.4" y2="33.60" stroke="#6a6a6a" stroke-width="1.2"/>
<text x="587" y="36.9" font-family="Liberation Sans" font-size="9.5" font-weight="bold" text-anchor="end" textLength="11.2" lengthAdjust="spacingAndGlyphs" stroke="#000" stroke-width="0.25">1.0</text>
<line x1="607.40" y1="225.8" x2="607.40" y2="229.8" stroke="#6a6a6a" stroke-width="1.2"/>
<text x="607.4" y="240.8" font-family="Liberation Sans" font-size="10.5" font-weight="bold" text-anchor="middle" textLength="4.6" lengthAdjust="spacingAndGlyphs" stroke="#000" stroke-width="0.25">0</text>
<line x1="636.90" y1="225.8" x2="636.90" y2="229.8" stroke="#6a6a6a" stroke-width="1.2"/>
<text x="636.9" y="240.8" font-family="Liberation Sans" font-size="10.5" font-weight="bold" text-anchor="middle" textLength="4.6" lengthAdjust="spacingAndGlyphs" stroke="#000" stroke-width="0.25">1</text>
<line x1="666.40" y1="225.8" x2="666.40" y2="229.8" stroke="#6a6a6a" stroke-width="1.2"/>
<text x="666.4" y="240.8" font-family="Liberation Sans" font-size="10.5" font-weight="bold" text-anchor="middle" textLength="4.6" lengthAdjust="spacingAndGlyphs" stroke="#000" stroke-width="0.25">2</text>
<line x1="695.90" y1="225.8" x2="695.90" y2="229.8" stroke="#6a6a6a" stroke-width="1.2"/>
<text x="695.9" y="240.8" font-family="Liberation Sans" font-size="10.5" font-weight="bold" text-anchor="middle" textLength="4.6" lengthAdjust="spacingAndGlyphs" stroke="#000" stroke-width="0.25">3</text>
<line x1="725.40" y1="225.8" x2="725.40" y2="229.8" stroke="#6a6a6a" stroke-width="1.2"/>
<text x="725.4" y="240.8" font-family="Liberation Sans" font-size="10.5" font-weight="bold" text-anchor="middle" textLength="4.6" lengthAdjust="spacingAndGlyphs" stroke="#000" stroke-width="0.25">4</text>
<line x1="754.90" y1="225.8" x2="754.90" y2="229.8" stroke="#6a6a6a" stroke-width="1.2"/>
<text x="754.9" y="240.8" font-family="Liberation Sans" font-size="10.5" font-weight="bold" text-anchor="middle" textLength="4.6" lengthAdjust="spacingAndGlyphs" stroke="#000" stroke-width="0.25">5</text>
<line x1="784.40" y1="225.8" x2="784.40" y2="229.8" stroke="#6a6a6a" stroke-width="1.2"/>
<text x="784.4" y="240.8" font-family="Liberation Sans" font-size="10.5" font-weight="bold" text-anchor="middle" textLength="4.6" lengthAdjust="spacingAndGlyphs" stroke="#000" stroke-width="0.25">6</text>
<text x="666" y="259" font-family="Liberation Sans" font-size="12.5" font-weight="bold" text-anchor="start" textLength="62.6" lengthAdjust="spacingAndGlyphs" stroke="#000" stroke-width="0.25">time, t (min)</text>
<text transform="translate(563.5,199.4) rotate(-90)" font-family="Liberation Sans" font-size="13" font-weight="bold" stroke="#000" stroke-width="0.25"><tspan textLength="150.1" lengthAdjust="spacingAndGlyphs">Relative crystallinity,X</tspan><tspan font-size="13" dy="3.8">t</tspan></text>
<path d="M607.50 208.50 L608.55 207.56 L609.63 206.63 L610.74 205.71 L611.87 204.80 L613.02 203.91 L614.19 203.02 L615.39 202.14 L616.60 201.27 L617.83 200.41 L619.07 199.55 L620.33 198.70 L621.60 197.85 L622.88 197.01 L624.16 196.16 L625.46 195.32 L626.84 194.44 L628.15 193.60 L629.46 192.76 L630.77 191.92 L632.09 191.08 L633.40 190.23 L634.71 189.38 L636.01 188.53 L637.31 187.67 L638.60 186.81 L639.89 185.93 L641.16 185.05 L642.42 184.16 L643.67 183.27 L644.91 182.36 L646.20 181.39 L647.41 180.45 L648.60 179.51 L649.77 178.55 L650.93 177.58 L652.06 176.59 L653.18 175.59 L654.27 174.57 L655.34 173.53 L656.39 172.47 L657.41 171.39 L658.40 170.30 L659.37 169.18 L660.31 168.04 L661.22 166.88 L662.15 165.63 L663.01 164.43 L663.84 163.21 L664.64 161.97 L665.42 160.71 L666.18 159.43 L666.92 158.14 L667.63 156.84 L668.33 155.52 L669.02 154.18 L669.68 152.84 L670.33 151.49 L670.97 150.12 L671.59 148.75 L672.21 147.37 L672.84 145.91 L673.43 144.51 L674.02 143.11 L674.60 141.71 L675.17 140.31 L675.74 138.90 L676.30 137.49 L676.86 136.09 L677.43 134.68 L677.99 133.28 L678.55 131.87 L679.12 130.48 L679.69 129.08 L680.26 127.70 L680.84 126.32 L681.47 124.87 L682.06 123.51 L682.67 122.15 L683.29 120.81 L683.92 119.48 L684.56 118.16 L685.21 116.85 L685.88 115.55 L686.55 114.26 L687.25 112.98 L687.95 111.71 L688.67 110.45 L689.40 109.20 L690.15 107.96 L690.92 106.73 L691.74 105.44 L692.54 104.23 L693.35 103.03 L694.18 101.84 L695.03 100.65 L695.89 99.48 L696.77 98.31 L697.68 97.16 L698.60 96.01 L699.53 94.87 L700.49 93.74 L701.47 92.62 L702.47 91.50 L703.49 90.40 L704.52 89.30 L705.63 88.15 L706.69 87.07 L707.78 86.00 L708.87 84.93 L709.98 83.87 L711.10 82.82 L712.23 81.78 L713.37 80.74 L714.52 79.71 L715.67 78.69 L716.84 77.68 L718.01 76.67 L719.19 75.67 L720.37 74.67 L721.56 73.69 L722.82 72.65 L724.01 71.68 L725.21 70.71 L726.41 69.74 L727.62 68.79 L728.83 67.84 L730.04 66.89 L731.26 65.96 L732.48 65.02 L733.70 64.09 L734.93 63.17 L736.16 62.26 L737.39 61.34 L738.62 60.44 L739.85 59.54 L741.16 58.59 L742.40 57.70 L743.64 56.81 L744.88 55.93 L746.12 55.05 L747.37 54.18 L748.61 53.31 L749.86 52.45 L751.10 51.59 L752.35 50.73 L753.60 49.88 L754.84 49.03 L756.09 48.18 L757.34 47.34 L758.59 46.51 L759.90 45.62 L761.15 44.79 L762.39 43.97 L763.64 43.14 L764.88 42.32 L766.12 41.50 L767.36 40.68 L768.60 39.87 L769.84 39.06 L771.07 38.25 L772.30 37.44 L773.53 36.64 L774.76 35.84 L775.99 35.04 L777.21 34.24 L778.50 33.40" fill="none" stroke="#000000" stroke-width="1.2" stroke-linejoin="round" stroke-linecap="round" opacity="1.0"/>
<circle cx="607.50" cy="208.50" r="1.90" fill="#fff" stroke="#606060" stroke-width="1.0"/>
<circle cx="608.85" cy="207.30" r="1.90" fill="#fff" stroke="#606060" stroke-width="1.0"/>
<circle cx="610.12" cy="206.22" r="1.90" fill="#fff" stroke="#606060" stroke-width="1.0"/>
<circle cx="611.42" cy="205.16" r="1.90" fill="#fff" stroke="#606060" stroke-width="1.0"/>
<circle cx="612.76" cy="204.11" r="1.90" fill="#fff" stroke="#606060" stroke-width="1.0"/>
<circle cx="614.06" cy="203.12" r="1.90" fill="#fff" stroke="#606060" stroke-width="1.0"/>
<circle cx="615.32" cy="202.19" r="1.90" fill="#fff" stroke="#606060" stroke-width="1.0"/>
<circle cx="616.66" cy="201.22" r="1.90" fill="#fff" stroke="#606060" stroke-width="1.0"/>
<circle cx="617.96" cy="200.31" r="1.90" fill="#fff" stroke="#606060" stroke-width="1.0"/>
<circle cx="619.21" cy="199.46" r="1.90" fill="#fff" stroke="#606060" stroke-width="1.0"/>
<circle cx="620.54" cy="198.56" r="1.90" fill="#fff" stroke="#606060" stroke-width="1.0"/>
<circle cx="621.81" cy="197.71" r="1.90" fill="#fff" stroke="#606060" stroke-width="1.0"/>
<circle cx="623.16" cy="196.82" r="1.90" fill="#fff" stroke="#606060" stroke-width="1.0"/>
<circle cx="624.45" cy="195.98" r="1.90" fill="#fff" stroke="#606060" stroke-width="1.0"/>
<circle cx="625.75" cy="195.14" r="1.90" fill="#fff" stroke="#606060" stroke-width="1.0"/>
<circle cx="627.06" cy="194.30" r="1.90" fill="#fff" stroke="#606060" stroke-width="1.0"/>
<circle cx="628.36" cy="193.46" r="1.90" fill="#fff" stroke="#606060" stroke-width="1.0"/>
<circle cx="629.60" cy="192.67" r="1.90" fill="#fff" stroke="#606060" stroke-width="1.0"/>
<circle cx="630.92" cy="191.83" r="1.90" fill="#fff" stroke="#606060" stroke-width="1.0"/>
<circle cx="632.23" cy="190.98" r="1.90" fill="#fff" stroke="#606060" stroke-width="1.0"/>
<circle cx="633.54" cy="190.14" r="1.90" fill="#fff" stroke="#606060" stroke-width="1.0"/>
<circle cx="634.85" cy="189.29" r="1.90" fill="#fff" stroke="#606060" stroke-width="1.0"/>
<circle cx="636.16" cy="188.43" r="1.90" fill="#fff" stroke="#606060" stroke-width="1.0"/>
<circle cx="637.46" cy="187.57" r="1.90" fill="#fff" stroke="#606060" stroke-width="1.0"/>
<circle cx="638.75" cy="186.71" r="1.90" fill="#fff" stroke="#606060" stroke-width="1.0"/>
<circle cx="640.03" cy="185.84" r="1.90" fill="#fff" stroke="#606060" stroke-width="1.0"/>
<circle cx="641.30" cy="184.95" r="1.90" fill="#fff" stroke="#606060" stroke-width="1.0"/>
<circle cx="642.63" cy="184.01" r="1.90" fill="#fff" stroke="#606060" stroke-width="1.0"/>
<circle cx="643.95" cy="183.06" r="1.90" fill="#fff" stroke="#606060" stroke-width="1.0"/>
<circle cx="645.25" cy="182.10" r="1.90" fill="#fff" stroke="#606060" stroke-width="1.0"/>
<circle cx="646.54" cy="181.13" r="1.90" fill="#fff" stroke="#606060" stroke-width="1.0"/>
<circle cx="647.81" cy="180.14" r="1.90" fill="#fff" stroke="#606060" stroke-width="1.0"/>
<circle cx="649.12" cy="179.09" r="1.90" fill="#fff" stroke="#606060" stroke-width="1.0"/>
<circle cx="650.42" cy="178.01" r="1.90" fill="#fff" stroke="#606060" stroke-width="1.0"/>
<circle cx="651.75" cy="176.87" r="1.90" fill="#fff" stroke="#606060" stroke-width="1.0"/>
<circle cx="653.06" cy="175.70" r="1.90" fill="#fff" stroke="#606060" stroke-width="1.0"/>
<circle cx="654.33" cy="174.51" r="1.90" fill="#fff" stroke="#606060" stroke-width="1.0"/>
<circle cx="655.64" cy="173.24" r="1.90" fill="#fff" stroke="#606060" stroke-width="1.0"/>
<circle cx="656.90" cy="171.94" r="1.90" fill="#fff" stroke="#606060" stroke-width="1.0"/>
<circle cx="658.24" cy="170.48" r="1.90" fill="#fff" stroke="#606060" stroke-width="1.0"/>
<circle cx="659.53" cy="168.99" r="1.90" fill="#fff" stroke="#606060" stroke-width="1.0"/>
<circle cx="660.82" cy="167.40" r="1.90" fill="#fff" stroke="#606060" stroke-width="1.0"/>
<circle cx="662.10" cy="165.70" r="1.90" fill="#fff" stroke="#606060" stroke-width="1.0"/>
<circle cx="663.42" cy="163.82" r="1.90" fill="#fff" stroke="#606060" stroke-width="1.0"/>
<circle cx="664.73" cy="161.83" r="1.90" fill="#fff" stroke="#606060" stroke-width="1.0"/>
<circle cx="666.01" cy="159.72" r="1.90" fill="#fff" stroke="#606060" stroke-width="1.0"/>
<circle cx="667.32" cy="157.42" r="1.90" fill="#fff" stroke="#606060" stroke-width="1.0"/>
<circle cx="668.60" cy="155.00" r="1.90" fill="#fff" stroke="#606060" stroke-width="1.0"/>
<circle cx="669.90" cy="152.39" r="1.90" fill="#fff" stroke="#606060" stroke-width="1.0"/>
<circle cx="671.21" cy="149.59" r="1.90" fill="#fff" stroke="#606060" stroke-width="1.0"/>
<circle cx="672.51" cy="146.68" r="1.90" fill="#fff" stroke="#606060" stroke-width="1.0"/>
<circle cx="673.83" cy="143.58" r="1.90" fill="#fff" stroke="#606060" stroke-width="1.0"/>
<circle cx="675.11" cy="140.46" r="1.90" fill="#fff" stroke="#606060" stroke-width="1.0"/>
<circle cx="676.43" cy="137.18" r="1.90" fill="#fff" stroke="#606060" stroke-width="1.0"/>
<circle cx="677.71" cy="133.98" r="1.90" fill="#fff" stroke="#606060" stroke-width="1.0"/>
<circle cx="679.02" cy="130.71" r="1.90" fill="#fff" stroke="#606060" stroke-width="1.0"/>
<circle cx="680.33" cy="127.54" r="1.90" fill="#fff" stroke="#606060" stroke-width="1.0"/>
<circle cx="681.63" cy="124.49" r="1.90" fill="#fff" stroke="#606060" stroke-width="1.0"/>
<circle cx="682.91" cy="121.63" r="1.90" fill="#fff" stroke="#606060" stroke-width="1.0"/>
<circle cx="684.20" cy="118.89" r="1.90" fill="#fff" stroke="#606060" stroke-width="1.0"/>
<circle cx="685.50" cy="116.27" r="1.90" fill="#fff" stroke="#606060" stroke-width="1.0"/>
<circle cx="686.82" cy="113.76" r="1.90" fill="#fff" stroke="#606060" stroke-width="1.0"/>
<circle cx="688.11" cy="111.43" r="1.90" fill="#fff" stroke="#606060" stroke-width="1.0"/>
<circle cx="689.40" cy="109.20" r="1.90" fill="#fff" stroke="#606060" stroke-width="1.0"/>
<circle cx="690.70" cy="107.07" r="1.90" fill="#fff" stroke="#606060" stroke-width="1.0"/>
<circle cx="692.00" cy="105.04" r="1.90" fill="#fff" stroke="#606060" stroke-width="1.0"/>
<circle cx="693.30" cy="103.09" r="1.90" fill="#fff" stroke="#606060" stroke-width="1.0"/>
<circle cx="694.60" cy="101.24" r="1.90" fill="#fff" stroke="#606060" stroke-width="1.0"/>
<circle cx="695.94" cy="99.41" r="1.90" fill="#fff" stroke="#606060" stroke-width="1.0"/>
<circle cx="697.22" cy="97.73" r="1.90" fill="#fff" stroke="#606060" stroke-width="1.0"/>
<circle cx="698.54" cy="96.07" r="1.90" fill="#fff" stroke="#606060" stroke-width="1.0"/>
<circle cx="699.85" cy="94.49" r="1.90" fill="#fff" stroke="#606060" stroke-width="1.0"/>
<circle cx="701.14" cy="92.99" r="1.90" fill="#fff" stroke="#606060" stroke-width="1.0"/>
<circle cx="702.41" cy="91.56" r="1.90" fill="#fff" stroke="#606060" stroke-width="1.0"/>
<circle cx="703.71" cy="90.15" r="1.90" fill="#fff" stroke="#606060" stroke-width="1.0"/>
<circle cx="705.04" cy="88.75" r="1.90" fill="#fff" stroke="#606060" stroke-width="1.0"/>
<circle cx="706.34" cy="87.43" r="1.90" fill="#fff" stroke="#606060" stroke-width="1.0"/>
<circle cx="707.65" cy="86.11" r="1.90" fill="#fff" stroke="#606060" stroke-width="1.0"/>
<circle cx="708.93" cy="84.87" r="1.90" fill="#fff" stroke="#606060" stroke-width="1.0"/>
<circle cx="710.22" cy="83.64" r="1.90" fill="#fff" stroke="#606060" stroke-width="1.0"/>
<circle cx="711.53" cy="82.41" r="1.90" fill="#fff" stroke="#606060" stroke-width="1.0"/>
<circle cx="712.86" cy="81.20" r="1.90" fill="#fff" stroke="#606060" stroke-width="1.0"/>
<circle cx="714.13" cy="80.05" r="1.90" fill="#fff" stroke="#606060" stroke-width="1.0"/>
<circle cx="715.42" cy="78.92" r="1.90" fill="#fff" stroke="#606060" stroke-width="1.0"/>
<circle cx="716.71" cy="77.79" r="1.90" fill="#fff" stroke="#606060" stroke-width="1.0"/>
<circle cx="718.01" cy="76.67" r="1.90" fill="#fff" stroke="#606060" stroke-width="1.0"/>
<circle cx="719.32" cy="75.56" r="1.90" fill="#fff" stroke="#606060" stroke-width="1.0"/>
<circle cx="720.63" cy="74.45" r="1.90" fill="#fff" stroke="#606060" stroke-width="1.0"/>
<circle cx="721.95" cy="73.36" r="1.90" fill="#fff" stroke="#606060" stroke-width="1.0"/>
<circle cx="723.21" cy="72.32" r="1.90" fill="#fff" stroke="#606060" stroke-width="1.0"/>
<circle cx="724.54" cy="71.24" r="1.90" fill="#fff" stroke="#606060" stroke-width="1.0"/>
<circle cx="725.81" cy="70.22" r="1.90" fill="#fff" stroke="#606060" stroke-width="1.0"/>
<circle cx="727.15" cy="69.16" r="1.90" fill="#fff" stroke="#606060" stroke-width="1.0"/>
<circle cx="728.43" cy="68.15" r="1.90" fill="#fff" stroke="#606060" stroke-width="1.0"/>
<circle cx="729.71" cy="67.16" r="1.90" fill="#fff" stroke="#606060" stroke-width="1.0"/>
<circle cx="731.06" cy="66.11" r="1.90" fill="#fff" stroke="#606060" stroke-width="1.0"/>
<circle cx="732.34" cy="65.13" r="1.90" fill="#fff" stroke="#606060" stroke-width="1.0"/>
<circle cx="733.64" cy="64.15" r="1.90" fill="#fff" stroke="#606060" stroke-width="1.0"/>
<circle cx="734.93" cy="63.17" r="1.90" fill="#fff" stroke="#606060" stroke-width="1.0"/>
<circle cx="736.23" cy="62.21" r="1.90" fill="#fff" stroke="#606060" stroke-width="1.0"/>
<circle cx="737.52" cy="61.24" r="1.90" fill="#fff" stroke="#606060" stroke-width="1.0"/>
<circle cx="738.83" cy="60.29" r="1.90" fill="#fff" stroke="#606060" stroke-width="1.0"/>
<circle cx="740.13" cy="59.34" r="1.90" fill="#fff" stroke="#606060" stroke-width="1.0"/>
<circle cx="741.43" cy="58.39" r="1.90" fill="#fff" stroke="#606060" stroke-width="1.0"/>
<circle cx="742.74" cy="57.45" r="1.90" fill="#fff" stroke="#606060" stroke-width="1.0"/>
<circle cx="744.05" cy="56.52" r="1.90" fill="#fff" stroke="#606060" stroke-width="1.0"/>
<circle cx="745.36" cy="55.59" r="1.90" fill="#fff" stroke="#606060" stroke-width="1.0"/>
<circle cx="746.61" cy="54.71" r="1.90" fill="#fff" stroke="#606060" stroke-width="1.0"/>
<circle cx="747.92" cy="53.79" r="1.90" fill="#fff" stroke="#606060" stroke-width="1.0"/>
<circle cx="749.23" cy="52.88" r="1.90" fill="#fff" stroke="#606060" stroke-width="1.0"/>
<circle cx="750.55" cy="51.97" r="1.90" fill="#fff" stroke="#606060" stroke-width="1.0"/>
<circle cx="751.87" cy="51.06" r="1.90" fill="#fff" stroke="#606060" stroke-width="1.0"/>
<circle cx="753.11" cy="50.21" r="1.90" fill="#fff" stroke="#606060" stroke-width="1.0"/>
<circle cx="754.43" cy="49.31" r="1.90" fill="#fff" stroke="#606060" stroke-width="1.0"/>
<circle cx="755.75" cy="48.42" r="1.90" fill="#fff" stroke="#606060" stroke-width="1.0"/>
<circle cx="757.06" cy="47.53" r="1.90" fill="#fff" stroke="#606060" stroke-width="1.0"/>
<circle cx="758.31" cy="46.69" r="1.90" fill="#fff" stroke="#606060" stroke-width="1.0"/>
<circle cx="759.62" cy="45.81" r="1.90" fill="#fff" stroke="#606060" stroke-width="1.0"/>
<circle cx="760.94" cy="44.93" r="1.90" fill="#fff" stroke="#606060" stroke-width="1.0"/>
<circle cx="762.25" cy="44.06" r="1.90" fill="#fff" stroke="#606060" stroke-width="1.0"/>
<circle cx="763.57" cy="43.19" r="1.90" fill="#fff" stroke="#606060" stroke-width="1.0"/>
<circle cx="764.81" cy="42.36" r="1.90" fill="#fff" stroke="#606060" stroke-width="1.0"/>
<circle cx="766.12" cy="41.50" r="1.90" fill="#fff" stroke="#606060" stroke-width="1.0"/>
<circle cx="767.43" cy="40.64" r="1.90" fill="#fff" stroke="#606060" stroke-width="1.0"/>
<circle cx="768.74" cy="39.78" r="1.90" fill="#fff" stroke="#606060" stroke-width="1.0"/>
<circle cx="770.04" cy="38.92" r="1.90" fill="#fff" stroke="#606060" stroke-width="1.0"/>
<circle cx="771.34" cy="38.07" r="1.90" fill="#fff" stroke="#606060" stroke-width="1.0"/>
<circle cx="772.65" cy="37.22" r="1.90" fill="#fff" stroke="#606060" stroke-width="1.0"/>
<circle cx="773.94" cy="36.37" r="1.90" fill="#fff" stroke="#606060" stroke-width="1.0"/>
<circle cx="775.24" cy="35.53" r="1.90" fill="#fff" stroke="#606060" stroke-width="1.0"/>
<circle cx="776.53" cy="34.68" r="1.90" fill="#fff" stroke="#606060" stroke-width="1.0"/>
<circle cx="777.82" cy="33.84" r="1.90" fill="#fff" stroke="#606060" stroke-width="1.0"/>
<circle cx="778.50" cy="33.40" r="1.90" fill="#fff" stroke="#606060" stroke-width="1.0"/>
<path d="M607.50 208.50 L608.55 207.43 L609.60 206.34 L610.64 205.24 L611.66 204.13 L612.68 203.00 L613.69 201.86 L614.69 200.71 L615.68 199.54 L616.65 198.36 L617.62 197.17 L618.57 195.97 L619.50 194.76 L620.43 193.54 L621.34 192.30 L622.28 191.00 L623.16 189.74 L624.02 188.47 L624.87 187.20 L625.71 185.91 L626.52 184.61 L627.32 183.31 L628.10 181.99 L628.87 180.67 L629.61 179.34 L630.34 178.00 L631.04 176.65 L631.73 175.29 L632.39 173.93 L633.07 172.50 L633.69 171.12 L634.29 169.74 L634.87 168.34 L635.44 166.95 L635.98 165.54 L636.51 164.13 L637.02 162.72 L637.52 161.30 L638.00 159.88 L638.46 158.45 L638.91 157.01 L639.35 155.58 L639.78 154.13 L640.19 152.69 L640.61 151.18 L641.00 149.72 L641.38 148.27 L641.75 146.81 L642.11 145.35 L642.46 143.89 L642.81 142.43 L643.15 140.96 L643.48 139.49 L643.81 138.03 L644.14 136.56 L644.46 135.09 L644.77 133.62 L645.09 132.15 L645.41 130.62 L645.72 129.15 L646.03 127.68 L646.34 126.21 L646.66 124.74 L646.97 123.28 L647.28 121.81 L647.60 120.35 L647.92 118.89 L648.24 117.43 L648.57 115.97 L648.90 114.51 L649.24 113.06 L649.59 111.60 L649.94 110.15 L650.31 108.64 L650.68 107.19 L651.06 105.75 L651.44 104.31 L651.84 102.87 L652.24 101.43 L652.66 100.00 L653.09 98.57 L653.53 97.14 L653.98 95.72 L654.45 94.29 L654.93 92.88 L655.43 91.46 L655.94 90.05 L656.49 88.58 L657.03 87.18 L657.60 85.78 L658.18 84.39 L658.78 82.99 L659.39 81.61 L660.03 80.23 L660.69 78.85 L661.37 77.47 L662.07 76.11 L662.79 74.74 L663.54 73.38 L664.30 72.03 L665.09 70.68 L665.89 69.34 L666.75 67.94 L667.58 66.61 L668.43 65.28 L669.30 63.96 L670.17 62.64 L671.05 61.34 L671.94 60.03 L672.84 58.73 L673.75 57.44 L674.66 56.16 L675.57 54.88 L676.48 53.61 L677.39 52.34 L678.31 51.09 L679.26 49.78 L680.16 48.54 L681.06 47.30 L681.96 46.07 L682.84 44.85 L683.72 43.63 L684.59 42.42 L685.44 41.23 L686.28 40.03 L687.11 38.85 L687.92 37.67 L688.71 36.51 L689.49 35.35 L690.24 34.19 L691.00 33.00" fill="none" stroke="#ff0000" stroke-width="1.2" stroke-linejoin="round" stroke-linecap="round" opacity="1.0"/>
<circle cx="607.50" cy="208.50" r="1.90" fill="#fff" stroke="#ff4040" stroke-width="0.75"/>
<circle cx="608.46" cy="207.52" r="1.90" fill="#fff" stroke="#ff4040" stroke-width="0.75"/>
<circle cx="609.42" cy="206.53" r="1.90" fill="#fff" stroke="#ff4040" stroke-width="0.75"/>
<circle cx="610.32" cy="205.58" r="1.90" fill="#fff" stroke="#ff4040" stroke-width="0.75"/>
<circle cx="611.26" cy="204.56" r="1.90" fill="#fff" stroke="#ff4040" stroke-width="0.75"/>
<circle cx="612.24" cy="203.49" r="1.90" fill="#fff" stroke="#ff4040" stroke-width="0.75"/>
<circle cx="613.17" cy="202.46" r="1.90" fill="#fff" stroke="#ff4040" stroke-width="0.75"/>
<circle cx="614.08" cy="201.41" r="1.90" fill="#fff" stroke="#ff4040" stroke-width="0.75"/>
<circle cx="615.03" cy="200.30" r="1.90" fill="#fff" stroke="#ff4040" stroke-width="0.75"/>
<circle cx="615.97" cy="199.18" r="1.90" fill="#fff" stroke="#ff4040" stroke-width="0.75"/>
<circle cx="616.90" cy="198.06" r="1.90" fill="#fff" stroke="#ff4040" stroke-width="0.75"/>
<circle cx="617.86" cy="196.86" r="1.90" fill="#fff" stroke="#ff4040" stroke-width="0.75"/>
<circle cx="618.81" cy="195.66" r="1.90" fill="#fff" stroke="#ff4040" stroke-width="0.75"/>
<circle cx="619.75" cy="194.44" r="1.90" fill="#fff" stroke="#ff4040" stroke-width="0.75"/>
<circle cx="620.67" cy="193.21" r="1.90" fill="#fff" stroke="#ff4040" stroke-width="0.75"/>
<circle cx="621.61" cy="191.92" r="1.90" fill="#fff" stroke="#ff4040" stroke-width="0.75"/>
<circle cx="622.55" cy="190.62" r="1.90" fill="#fff" stroke="#ff4040" stroke-width="0.75"/>
<circle cx="623.50" cy="189.25" r="1.90" fill="#fff" stroke="#ff4040" stroke-width="0.75"/>
<circle cx="624.43" cy="187.87" r="1.90" fill="#fff" stroke="#ff4040" stroke-width="0.75"/>
<circle cx="625.38" cy="186.42" r="1.90" fill="#fff" stroke="#ff4040" stroke-width="0.75"/>
<circle cx="626.31" cy="184.95" r="1.90" fill="#fff" stroke="#ff4040" stroke-width="0.75"/>
<circle cx="627.25" cy="183.42" r="1.90" fill="#fff" stroke="#ff4040" stroke-width="0.75"/>
<circle cx="628.20" cy="181.82" r="1.90" fill="#fff" stroke="#ff4040" stroke-width="0.75"/>
<circle cx="629.13" cy="180.21" r="1.90" fill="#fff" stroke="#ff4040" stroke-width="0.75"/>
<circle cx="630.09" cy="178.46" r="1.90" fill="#fff" stroke="#ff4040" stroke-width="0.75"/>
<circle cx="631.01" cy="176.71" r="1.90" fill="#fff" stroke="#ff4040" stroke-width="0.75"/>
<circle cx="631.96" cy="174.82" r="1.90" fill="#fff" stroke="#ff4040" stroke-width="0.75"/>
<circle cx="632.90" cy="172.86" r="1.90" fill="#fff" stroke="#ff4040" stroke-width="0.75"/>
<circle cx="633.82" cy="170.82" r="1.90" fill="#fff" stroke="#ff4040" stroke-width="0.75"/>
<circle cx="634.77" cy="168.59" r="1.90" fill="#fff" stroke="#ff4040" stroke-width="0.75"/>
<circle cx="635.70" cy="166.28" r="1.90" fill="#fff" stroke="#ff4040" stroke-width="0.75"/>
<circle cx="636.65" cy="163.77" r="1.90" fill="#fff" stroke="#ff4040" stroke-width="0.75"/>
<circle cx="637.58" cy="161.11" r="1.90" fill="#fff" stroke="#ff4040" stroke-width="0.75"/>
<circle cx="638.52" cy="158.26" r="1.90" fill="#fff" stroke="#ff4040" stroke-width="0.75"/>
<circle cx="639.46" cy="155.20" r="1.90" fill="#fff" stroke="#ff4040" stroke-width="0.75"/>
<circle cx="640.40" cy="151.93" r="1.90" fill="#fff" stroke="#ff4040" stroke-width="0.75"/>
<circle cx="641.34" cy="148.40" r="1.90" fill="#fff" stroke="#ff4040" stroke-width="0.75"/>
<circle cx="642.28" cy="144.65" r="1.90" fill="#fff" stroke="#ff4040" stroke-width="0.75"/>
<circle cx="643.22" cy="140.64" r="1.90" fill="#fff" stroke="#ff4040" stroke-width="0.75"/>
<circle cx="644.16" cy="136.43" r="1.90" fill="#fff" stroke="#ff4040" stroke-width="0.75"/>
<circle cx="645.10" cy="132.09" r="1.90" fill="#fff" stroke="#ff4040" stroke-width="0.75"/>
<circle cx="646.05" cy="127.61" r="1.90" fill="#fff" stroke="#ff4040" stroke-width="0.75"/>
<circle cx="646.98" cy="123.21" r="1.90" fill="#fff" stroke="#ff4040" stroke-width="0.75"/>
<circle cx="647.92" cy="118.89" r="1.90" fill="#fff" stroke="#ff4040" stroke-width="0.75"/>
<circle cx="648.86" cy="114.70" r="1.90" fill="#fff" stroke="#ff4040" stroke-width="0.75"/>
<circle cx="649.80" cy="110.72" r="1.90" fill="#fff" stroke="#ff4040" stroke-width="0.75"/>
<circle cx="650.74" cy="106.94" r="1.90" fill="#fff" stroke="#ff4040" stroke-width="0.75"/>
<circle cx="651.68" cy="103.43" r="1.90" fill="#fff" stroke="#ff4040" stroke-width="0.75"/>
<circle cx="652.62" cy="100.12" r="1.90" fill="#fff" stroke="#ff4040" stroke-width="0.75"/>
<circle cx="653.57" cy="97.02" r="1.90" fill="#fff" stroke="#ff4040" stroke-width="0.75"/>
<circle cx="654.51" cy="94.11" r="1.90" fill="#fff" stroke="#ff4040" stroke-width="0.75"/>
<circle cx="655.45" cy="91.40" r="1.90" fill="#fff" stroke="#ff4040" stroke-width="0.75"/>
<circle cx="656.40" cy="88.83" r="1.90" fill="#fff" stroke="#ff4040" stroke-width="0.75"/>
<circle cx="657.33" cy="86.45" r="1.90" fill="#fff" stroke="#ff4040" stroke-width="0.75"/>
<circle cx="658.28" cy="84.14" r="1.90" fill="#fff" stroke="#ff4040" stroke-width="0.75"/>
<circle cx="659.20" cy="82.03" r="1.90" fill="#fff" stroke="#ff4040" stroke-width="0.75"/>
<circle cx="660.15" cy="79.99" r="1.90" fill="#fff" stroke="#ff4040" stroke-width="0.75"/>
<circle cx="661.10" cy="78.01" r="1.90" fill="#fff" stroke="#ff4040" stroke-width="0.75"/>
<circle cx="662.04" cy="76.17" r="1.90" fill="#fff" stroke="#ff4040" stroke-width="0.75"/>
<circle cx="662.99" cy="74.39" r="1.90" fill="#fff" stroke="#ff4040" stroke-width="0.75"/>
<circle cx="663.90" cy="72.73" r="1.90" fill="#fff" stroke="#ff4040" stroke-width="0.75"/>
<circle cx="664.85" cy="71.09" r="1.90" fill="#fff" stroke="#ff4040" stroke-width="0.75"/>
<circle cx="665.79" cy="69.51" r="1.90" fill="#fff" stroke="#ff4040" stroke-width="0.75"/>
<circle cx="666.75" cy="67.94" r="1.90" fill="#fff" stroke="#ff4040" stroke-width="0.75"/>
<circle cx="667.69" cy="66.43" r="1.90" fill="#fff" stroke="#ff4040" stroke-width="0.75"/>
<circle cx="668.62" cy="64.99" r="1.90" fill="#fff" stroke="#ff4040" stroke-width="0.75"/>
<circle cx="669.56" cy="63.56" r="1.90" fill="#fff" stroke="#ff4040" stroke-width="0.75"/>
<circle cx="670.51" cy="62.13" r="1.90" fill="#fff" stroke="#ff4040" stroke-width="0.75"/>
<circle cx="671.44" cy="60.77" r="1.90" fill="#fff" stroke="#ff4040" stroke-width="0.75"/>
<circle cx="672.37" cy="59.41" r="1.90" fill="#fff" stroke="#ff4040" stroke-width="0.75"/>
<circle cx="673.31" cy="58.06" r="1.90" fill="#fff" stroke="#ff4040" stroke-width="0.75"/>
<circle cx="674.26" cy="56.72" r="1.90" fill="#fff" stroke="#ff4040" stroke-width="0.75"/>
<circle cx="675.21" cy="55.38" r="1.90" fill="#fff" stroke="#ff4040" stroke-width="0.75"/>
<circle cx="676.12" cy="54.11" r="1.90" fill="#fff" stroke="#ff4040" stroke-width="0.75"/>
<circle cx="677.08" cy="52.78" r="1.90" fill="#fff" stroke="#ff4040" stroke-width="0.75"/>
<circle cx="678.03" cy="51.47" r="1.90" fill="#fff" stroke="#ff4040" stroke-width="0.75"/>
<circle cx="678.94" cy="50.21" r="1.90" fill="#fff" stroke="#ff4040" stroke-width="0.75"/>
<circle cx="679.89" cy="48.91" r="1.90" fill="#fff" stroke="#ff4040" stroke-width="0.75"/>
<circle cx="680.83" cy="47.62" r="1.90" fill="#fff" stroke="#ff4040" stroke-width="0.75"/>
<circle cx="681.76" cy="46.34" r="1.90" fill="#fff" stroke="#ff4040" stroke-width="0.75"/>
<circle cx="682.73" cy="45.01" r="1.90" fill="#fff" stroke="#ff4040" stroke-width="0.75"/>
<circle cx="683.65" cy="43.74" r="1.90" fill="#fff" stroke="#ff4040" stroke-width="0.75"/>
<circle cx="684.59" cy="42.42" r="1.90" fill="#fff" stroke="#ff4040" stroke-width="0.75"/>
<circle cx="685.55" cy="41.07" r="1.90" fill="#fff" stroke="#ff4040" stroke-width="0.75"/>
<circle cx="686.46" cy="39.78" r="1.90" fill="#fff" stroke="#ff4040" stroke-width="0.75"/>
<circle cx="687.43" cy="38.39" r="1.90" fill="#fff" stroke="#ff4040" stroke-width="0.75"/>
<circle cx="688.37" cy="37.01" r="1.90" fill="#fff" stroke="#ff4040" stroke-width="0.75"/>
<circle cx="689.29" cy="35.65" r="1.90" fill="#fff" stroke="#ff4040" stroke-width="0.75"/>
<circle cx="690.24" cy="34.19" r="1.90" fill="#fff" stroke="#ff4040" stroke-width="0.75"/>
<circle cx="691.00" cy="33.00" r="1.90" fill="#fff" stroke="#ff4040" stroke-width="0.75"/>
<path d="M607.50 208.50 L608.30 207.19 L609.11 205.81 L609.86 204.49 L610.63 203.10 L611.34 201.77 L612.07 200.38 L612.78 198.98 L613.43 197.63 L614.10 196.22 L614.73 194.87 L615.36 193.45 L615.95 192.09 L616.54 190.66 L617.12 189.24 L617.66 187.86 L618.21 186.42 L618.72 185.04 L619.23 183.60 L619.74 182.15 L620.20 180.76 L620.68 179.30 L621.12 177.90 L621.56 176.44 L621.98 175.03 L622.40 173.57 L622.81 172.10 L623.20 170.68 L623.58 169.20 L623.94 167.78 L624.31 166.30 L624.67 164.82 L625.00 163.39 L625.34 161.90 L625.66 160.47 L625.98 158.98 L626.28 157.54 L626.59 156.04 L626.89 154.54 L627.17 153.10 L627.46 151.59 L627.73 150.15 L628.01 148.64 L628.28 147.13 L628.54 145.68 L628.81 144.17 L629.06 142.72 L629.32 141.21 L629.56 139.75 L629.82 138.24 L630.07 136.72 L630.31 135.26 L630.56 133.74 L630.80 132.28 L631.04 130.76 L631.29 129.24 L631.53 127.78 L631.78 126.26 L632.03 124.80 L632.28 123.28 L632.53 121.82 L632.79 120.30 L633.05 118.78 L633.31 117.32 L633.58 115.80 L633.84 114.34 L634.11 112.82 L634.38 111.36 L634.67 109.84 L634.96 108.32 L635.24 106.87 L635.54 105.35 L635.83 103.90 L636.14 102.38 L636.46 100.87 L636.77 99.42 L637.09 97.91 L637.41 96.46 L637.75 94.95 L638.08 93.51 L638.43 92.00 L638.79 90.50 L639.14 89.06 L639.52 87.56 L639.88 86.12 L640.27 84.63 L640.67 83.14 L641.05 81.71 L641.47 80.22 L641.87 78.79 L642.30 77.31 L642.72 75.89 L643.17 74.42 L643.62 72.94 L644.07 71.53 L644.55 70.06 L645.01 68.65 L645.51 67.19 L646.01 65.73 L646.51 64.34 L647.03 62.88 L647.55 61.49 L648.09 60.05 L648.63 58.67 L649.19 57.23 L649.77 55.80 L650.33 54.42 L650.93 53.00 L651.51 51.63 L652.12 50.22 L652.75 48.81 L653.36 47.45 L654.01 46.05 L654.64 44.71 L655.30 43.31 L655.95 41.98 L656.64 40.59 L657.33 39.21 L658.01 37.89 L658.72 36.52 L659.42 35.21 L660.16 33.85 L660.90 32.50" fill="none" stroke="#0000ff" stroke-width="1.2" stroke-linejoin="round" stroke-linecap="round" opacity="1.0"/>
<path d="M607.50 206.36L609.62 209.93L605.37 209.93Z" fill="#fff" stroke="#4848ff" stroke-width="0.7" stroke-linejoin="round"/>
<path d="M608.00 205.54L610.12 209.11L605.87 209.11Z" fill="#fff" stroke="#4848ff" stroke-width="0.7" stroke-linejoin="round"/>
<path d="M608.53 204.66L610.65 208.23L606.40 208.23Z" fill="#fff" stroke="#4848ff" stroke-width="0.7" stroke-linejoin="round"/>
<path d="M609.01 203.84L611.13 207.41L606.88 207.41Z" fill="#fff" stroke="#4848ff" stroke-width="0.7" stroke-linejoin="round"/>
<path d="M609.52 202.95L611.64 206.52L607.39 206.52Z" fill="#fff" stroke="#4848ff" stroke-width="0.7" stroke-linejoin="round"/>
<path d="M610.02 202.07L612.14 205.64L607.89 205.64Z" fill="#fff" stroke="#4848ff" stroke-width="0.7" stroke-linejoin="round"/>
<path d="M610.51 201.18L612.63 204.75L608.38 204.75Z" fill="#fff" stroke="#4848ff" stroke-width="0.7" stroke-linejoin="round"/>
<path d="M611.02 200.24L613.14 203.81L608.89 203.81Z" fill="#fff" stroke="#4848ff" stroke-width="0.7" stroke-linejoin="round"/>
<path d="M611.52 199.29L613.64 202.86L609.39 202.86Z" fill="#fff" stroke="#4848ff" stroke-width="0.7" stroke-linejoin="round"/>
<path d="M612.01 198.35L614.14 201.92L609.89 201.92Z" fill="#fff" stroke="#4848ff" stroke-width="0.7" stroke-linejoin="round"/>
<path d="M612.52 197.34L614.65 200.91L610.40 200.91Z" fill="#fff" stroke="#4848ff" stroke-width="0.7" stroke-linejoin="round"/>
<path d="M613.02 196.33L615.15 199.90L610.90 199.90Z" fill="#fff" stroke="#4848ff" stroke-width="0.7" stroke-linejoin="round"/>
<path d="M613.52 195.32L615.64 198.89L611.39 198.89Z" fill="#fff" stroke="#4848ff" stroke-width="0.7" stroke-linejoin="round"/>
<path d="M614.02 194.25L616.15 197.82L611.90 197.82Z" fill="#fff" stroke="#4848ff" stroke-width="0.7" stroke-linejoin="round"/>
<path d="M614.52 193.18L616.64 196.75L612.39 196.75Z" fill="#fff" stroke="#4848ff" stroke-width="0.7" stroke-linejoin="round"/>
<path d="M615.01 192.10L617.13 195.67L612.88 195.67Z" fill="#fff" stroke="#4848ff" stroke-width="0.7" stroke-linejoin="round"/>
<path d="M615.51 190.97L617.63 194.54L613.38 194.54Z" fill="#fff" stroke="#4848ff" stroke-width="0.7" stroke-linejoin="round"/>
<path d="M616.02 189.78L618.14 193.35L613.89 193.35Z" fill="#fff" stroke="#4848ff" stroke-width="0.7" stroke-linejoin="round"/>
<path d="M616.52 188.58L618.64 192.15L614.39 192.15Z" fill="#fff" stroke="#4848ff" stroke-width="0.7" stroke-linejoin="round"/>
<path d="M617.01 187.38L619.13 190.95L614.88 190.95Z" fill="#fff" stroke="#4848ff" stroke-width="0.7" stroke-linejoin="round"/>
<path d="M617.51 186.12L619.63 189.69L615.38 189.69Z" fill="#fff" stroke="#4848ff" stroke-width="0.7" stroke-linejoin="round"/>
<path d="M618.01 184.80L620.14 188.37L615.89 188.37Z" fill="#fff" stroke="#4848ff" stroke-width="0.7" stroke-linejoin="round"/>
<path d="M618.51 183.48L620.63 187.05L616.38 187.05Z" fill="#fff" stroke="#4848ff" stroke-width="0.7" stroke-linejoin="round"/>
<path d="M619.01 182.09L621.13 185.66L616.88 185.66Z" fill="#fff" stroke="#4848ff" stroke-width="0.7" stroke-linejoin="round"/>
<path d="M619.52 180.64L621.64 184.21L617.39 184.21Z" fill="#fff" stroke="#4848ff" stroke-width="0.7" stroke-linejoin="round"/>
<path d="M620.01 179.19L622.14 182.76L617.89 182.76Z" fill="#fff" stroke="#4848ff" stroke-width="0.7" stroke-linejoin="round"/>
<path d="M620.51 177.68L622.63 181.25L618.38 181.25Z" fill="#fff" stroke="#4848ff" stroke-width="0.7" stroke-linejoin="round"/>
<path d="M621.01 176.11L623.13 179.68L618.88 179.68Z" fill="#fff" stroke="#4848ff" stroke-width="0.7" stroke-linejoin="round"/>
<path d="M621.51 174.47L623.64 178.04L619.39 178.04Z" fill="#fff" stroke="#4848ff" stroke-width="0.7" stroke-linejoin="round"/>
<path d="M622.02 172.77L624.14 176.34L619.89 176.34Z" fill="#fff" stroke="#4848ff" stroke-width="0.7" stroke-linejoin="round"/>
<path d="M622.50 171.07L624.63 174.64L620.38 174.64Z" fill="#fff" stroke="#4848ff" stroke-width="0.7" stroke-linejoin="round"/>
<path d="M623.01 169.25L625.13 172.82L620.88 172.82Z" fill="#fff" stroke="#4848ff" stroke-width="0.7" stroke-linejoin="round"/>
<path d="M623.51 167.36L625.63 170.93L621.38 170.93Z" fill="#fff" stroke="#4848ff" stroke-width="0.7" stroke-linejoin="round"/>
<path d="M624.00 165.41L626.13 168.98L621.88 168.98Z" fill="#fff" stroke="#4848ff" stroke-width="0.7" stroke-linejoin="round"/>
<path d="M624.51 163.33L626.64 166.90L622.39 166.90Z" fill="#fff" stroke="#4848ff" stroke-width="0.7" stroke-linejoin="round"/>
<path d="M625.00 161.25L627.13 164.82L622.88 164.82Z" fill="#fff" stroke="#4848ff" stroke-width="0.7" stroke-linejoin="round"/>
<path d="M625.50 159.04L627.63 162.61L623.38 162.61Z" fill="#fff" stroke="#4848ff" stroke-width="0.7" stroke-linejoin="round"/>
<path d="M626.01 156.71L628.13 160.28L623.88 160.28Z" fill="#fff" stroke="#4848ff" stroke-width="0.7" stroke-linejoin="round"/>
<path d="M626.51 154.32L628.63 157.89L624.38 157.89Z" fill="#fff" stroke="#4848ff" stroke-width="0.7" stroke-linejoin="round"/>
<path d="M627.01 151.80L629.13 155.37L624.88 155.37Z" fill="#fff" stroke="#4848ff" stroke-width="0.7" stroke-linejoin="round"/>
<path d="M627.51 149.21L629.63 152.78L625.38 152.78Z" fill="#fff" stroke="#4848ff" stroke-width="0.7" stroke-linejoin="round"/>
<path d="M628.00 146.56L630.13 150.13L625.88 150.13Z" fill="#fff" stroke="#4848ff" stroke-width="0.7" stroke-linejoin="round"/>
<path d="M628.50 143.78L630.62 147.35L626.37 147.35Z" fill="#fff" stroke="#4848ff" stroke-width="0.7" stroke-linejoin="round"/>
<path d="M629.01 140.88L631.13 144.45L626.88 144.45Z" fill="#fff" stroke="#4848ff" stroke-width="0.7" stroke-linejoin="round"/>
<path d="M629.50 137.97L631.63 141.54L627.38 141.54Z" fill="#fff" stroke="#4848ff" stroke-width="0.7" stroke-linejoin="round"/>
<path d="M630.01 134.94L632.13 138.51L627.88 138.51Z" fill="#fff" stroke="#4848ff" stroke-width="0.7" stroke-linejoin="round"/>
<path d="M630.51 131.90L632.63 135.47L628.38 135.47Z" fill="#fff" stroke="#4848ff" stroke-width="0.7" stroke-linejoin="round"/>
<path d="M631.00 128.87L633.13 132.44L628.88 132.44Z" fill="#fff" stroke="#4848ff" stroke-width="0.7" stroke-linejoin="round"/>
<path d="M631.50 125.83L633.63 129.40L629.38 129.40Z" fill="#fff" stroke="#4848ff" stroke-width="0.7" stroke-linejoin="round"/>
<path d="M632.01 122.78L634.13 126.35L629.88 126.35Z" fill="#fff" stroke="#4848ff" stroke-width="0.7" stroke-linejoin="round"/>
<path d="M632.51 119.80L634.63 123.37L630.38 123.37Z" fill="#fff" stroke="#4848ff" stroke-width="0.7" stroke-linejoin="round"/>
<path d="M633.01 116.88L635.13 120.45L630.88 120.45Z" fill="#fff" stroke="#4848ff" stroke-width="0.7" stroke-linejoin="round"/>
<path d="M633.50 114.08L635.62 117.65L631.37 117.65Z" fill="#fff" stroke="#4848ff" stroke-width="0.7" stroke-linejoin="round"/>
<path d="M634.00 111.28L636.13 114.85L631.88 114.85Z" fill="#fff" stroke="#4848ff" stroke-width="0.7" stroke-linejoin="round"/>
<path d="M634.51 108.55L636.63 112.12L632.38 112.12Z" fill="#fff" stroke="#4848ff" stroke-width="0.7" stroke-linejoin="round"/>
<path d="M635.01 105.94L637.13 109.51L632.88 109.51Z" fill="#fff" stroke="#4848ff" stroke-width="0.7" stroke-linejoin="round"/>
<path d="M635.50 103.39L637.63 106.96L633.38 106.96Z" fill="#fff" stroke="#4848ff" stroke-width="0.7" stroke-linejoin="round"/>
<path d="M636.01 100.91L638.13 104.48L633.88 104.48Z" fill="#fff" stroke="#4848ff" stroke-width="0.7" stroke-linejoin="round"/>
<path d="M636.51 98.49L638.63 102.06L634.38 102.06Z" fill="#fff" stroke="#4848ff" stroke-width="0.7" stroke-linejoin="round"/>
<path d="M637.00 96.19L639.13 99.76L634.88 99.76Z" fill="#fff" stroke="#4848ff" stroke-width="0.7" stroke-linejoin="round"/>
<path d="M637.51 93.89L639.63 97.46L635.38 97.46Z" fill="#fff" stroke="#4848ff" stroke-width="0.7" stroke-linejoin="round"/>
<path d="M638.01 91.66L640.14 95.23L635.89 95.23Z" fill="#fff" stroke="#4848ff" stroke-width="0.7" stroke-linejoin="round"/>
<path d="M638.50 89.56L640.63 93.13L636.38 93.13Z" fill="#fff" stroke="#4848ff" stroke-width="0.7" stroke-linejoin="round"/>
<path d="M639.01 87.46L641.14 91.03L636.89 91.03Z" fill="#fff" stroke="#4848ff" stroke-width="0.7" stroke-linejoin="round"/>
<path d="M639.50 85.48L641.63 89.05L637.38 89.05Z" fill="#fff" stroke="#4848ff" stroke-width="0.7" stroke-linejoin="round"/>
<path d="M640.01 83.50L642.13 87.07L637.88 87.07Z" fill="#fff" stroke="#4848ff" stroke-width="0.7" stroke-linejoin="round"/>
<path d="M640.51 81.59L642.63 85.16L638.38 85.16Z" fill="#fff" stroke="#4848ff" stroke-width="0.7" stroke-linejoin="round"/>
<path d="M641.01 79.74L643.13 83.31L638.88 83.31Z" fill="#fff" stroke="#4848ff" stroke-width="0.7" stroke-linejoin="round"/>
<path d="M641.50 77.96L643.62 81.53L639.37 81.53Z" fill="#fff" stroke="#4848ff" stroke-width="0.7" stroke-linejoin="round"/>
<path d="M642.01 76.18L644.13 79.75L639.88 79.75Z" fill="#fff" stroke="#4848ff" stroke-width="0.7" stroke-linejoin="round"/>
<path d="M642.51 74.46L644.63 78.03L640.38 78.03Z" fill="#fff" stroke="#4848ff" stroke-width="0.7" stroke-linejoin="round"/>
<path d="M643.01 72.80L645.13 76.37L640.88 76.37Z" fill="#fff" stroke="#4848ff" stroke-width="0.7" stroke-linejoin="round"/>
<path d="M643.51 71.15L645.64 74.72L641.39 74.72Z" fill="#fff" stroke="#4848ff" stroke-width="0.7" stroke-linejoin="round"/>
<path d="M644.01 69.56L646.14 73.13L641.89 73.13Z" fill="#fff" stroke="#4848ff" stroke-width="0.7" stroke-linejoin="round"/>
<path d="M644.51 68.04L646.63 71.61L642.38 71.61Z" fill="#fff" stroke="#4848ff" stroke-width="0.7" stroke-linejoin="round"/>
<path d="M645.01 66.51L647.14 70.08L642.89 70.08Z" fill="#fff" stroke="#4848ff" stroke-width="0.7" stroke-linejoin="round"/>
<path d="M645.51 65.05L647.63 68.62L643.38 68.62Z" fill="#fff" stroke="#4848ff" stroke-width="0.7" stroke-linejoin="round"/>
<path d="M646.01 63.59L648.14 67.16L643.89 67.16Z" fill="#fff" stroke="#4848ff" stroke-width="0.7" stroke-linejoin="round"/>
<path d="M646.51 62.19L648.63 65.76L644.38 65.76Z" fill="#fff" stroke="#4848ff" stroke-width="0.7" stroke-linejoin="round"/>
<path d="M647.01 60.80L649.14 64.37L644.89 64.37Z" fill="#fff" stroke="#4848ff" stroke-width="0.7" stroke-linejoin="round"/>
<path d="M647.50 59.47L649.63 63.04L645.38 63.04Z" fill="#fff" stroke="#4848ff" stroke-width="0.7" stroke-linejoin="round"/>
<path d="M648.01 58.14L650.13 61.71L645.88 61.71Z" fill="#fff" stroke="#4848ff" stroke-width="0.7" stroke-linejoin="round"/>
<path d="M648.51 56.81L650.64 60.38L646.39 60.38Z" fill="#fff" stroke="#4848ff" stroke-width="0.7" stroke-linejoin="round"/>
<path d="M649.01 55.55L651.14 59.12L646.89 59.12Z" fill="#fff" stroke="#4848ff" stroke-width="0.7" stroke-linejoin="round"/>
<path d="M649.51 54.28L651.64 57.85L647.39 57.85Z" fill="#fff" stroke="#4848ff" stroke-width="0.7" stroke-linejoin="round"/>
<path d="M650.00 53.08L652.13 56.65L647.88 56.65Z" fill="#fff" stroke="#4848ff" stroke-width="0.7" stroke-linejoin="round"/>
<path d="M650.52 51.83L652.65 55.40L648.40 55.40Z" fill="#fff" stroke="#4848ff" stroke-width="0.7" stroke-linejoin="round"/>
<path d="M651.02 50.63L653.15 54.20L648.90 54.20Z" fill="#fff" stroke="#4848ff" stroke-width="0.7" stroke-linejoin="round"/>
<path d="M651.51 49.49L653.63 53.06L649.38 53.06Z" fill="#fff" stroke="#4848ff" stroke-width="0.7" stroke-linejoin="round"/>
<path d="M652.00 48.36L654.12 51.93L649.87 51.93Z" fill="#fff" stroke="#4848ff" stroke-width="0.7" stroke-linejoin="round"/>
<path d="M652.52 47.17L654.65 50.74L650.40 50.74Z" fill="#fff" stroke="#4848ff" stroke-width="0.7" stroke-linejoin="round"/>
<path d="M653.00 46.10L655.13 49.67L650.88 49.67Z" fill="#fff" stroke="#4848ff" stroke-width="0.7" stroke-linejoin="round"/>
<path d="M653.51 44.97L655.64 48.54L651.39 48.54Z" fill="#fff" stroke="#4848ff" stroke-width="0.7" stroke-linejoin="round"/>
<path d="M654.01 43.91L656.13 47.48L651.88 47.48Z" fill="#fff" stroke="#4848ff" stroke-width="0.7" stroke-linejoin="round"/>
<path d="M654.50 42.84L656.63 46.41L652.38 46.41Z" fill="#fff" stroke="#4848ff" stroke-width="0.7" stroke-linejoin="round"/>
<path d="M655.01 41.78L657.13 45.35L652.88 45.35Z" fill="#fff" stroke="#4848ff" stroke-width="0.7" stroke-linejoin="round"/>
<path d="M655.52 40.73L657.64 44.30L653.39 44.30Z" fill="#fff" stroke="#4848ff" stroke-width="0.7" stroke-linejoin="round"/>
<path d="M656.00 39.73L658.13 43.30L653.88 43.30Z" fill="#fff" stroke="#4848ff" stroke-width="0.7" stroke-linejoin="round"/>
<path d="M656.53 38.67L658.65 42.24L654.40 42.24Z" fill="#fff" stroke="#4848ff" stroke-width="0.7" stroke-linejoin="round"/>
<path d="M657.02 37.68L659.15 41.25L654.90 41.25Z" fill="#fff" stroke="#4848ff" stroke-width="0.7" stroke-linejoin="round"/>
<path d="M657.50 36.74L659.62 40.31L655.37 40.31Z" fill="#fff" stroke="#4848ff" stroke-width="0.7" stroke-linejoin="round"/>
<path d="M658.01 35.75L660.13 39.32L655.88 39.32Z" fill="#fff" stroke="#4848ff" stroke-width="0.7" stroke-linejoin="round"/>
<path d="M658.52 34.76L660.65 38.33L656.40 38.33Z" fill="#fff" stroke="#4848ff" stroke-width="0.7" stroke-linejoin="round"/>
<path d="M659.01 33.84L661.14 37.41L656.89 37.41Z" fill="#fff" stroke="#4848ff" stroke-width="0.7" stroke-linejoin="round"/>
<path d="M659.51 32.91L661.63 36.48L657.38 36.48Z" fill="#fff" stroke="#4848ff" stroke-width="0.7" stroke-linejoin="round"/>
<path d="M660.01 31.98L662.13 35.55L657.88 35.55Z" fill="#fff" stroke="#4848ff" stroke-width="0.7" stroke-linejoin="round"/>
<path d="M660.51 31.06L662.64 34.63L658.39 34.63Z" fill="#fff" stroke="#4848ff" stroke-width="0.7" stroke-linejoin="round"/>
<path d="M660.90 30.36L663.03 33.93L658.78 33.93Z" fill="#fff" stroke="#4848ff" stroke-width="0.7" stroke-linejoin="round"/>
<path d="M607.50 208.50 L608.00 207.20 L608.54 205.84 L609.07 204.53 L609.63 203.15 L610.19 201.83 L610.77 200.45 L611.37 199.06 L611.94 197.72 L612.55 196.33 L613.14 194.98 L613.76 193.57 L614.35 192.22 L614.97 190.80 L615.60 189.38 L616.19 188.01 L616.81 186.58 L617.41 185.20 L618.02 183.77 L618.63 182.32 L619.21 180.93 L619.80 179.48 L620.36 178.09 L620.94 176.63 L621.48 175.23 L622.04 173.76 L622.58 172.30 L623.08 170.88 L623.59 169.41 L624.06 167.99 L624.54 166.51 L625.00 165.03 L625.42 163.60 L625.84 162.11 L626.23 160.68 L626.62 159.18 L626.98 157.75 L627.34 156.25 L627.69 154.75 L628.01 153.30 L628.33 151.80 L628.62 150.35 L628.92 148.84 L629.20 147.33 L629.46 145.88 L629.73 144.36 L629.97 142.91 L630.21 141.39 L630.44 139.93 L630.66 138.41 L630.88 136.89 L631.09 135.43 L631.29 133.91 L631.49 132.45 L631.68 130.92 L631.87 129.40 L632.05 127.94 L632.23 126.41 L632.40 124.95 L632.58 123.42 L632.75 121.95 L632.92 120.43 L633.09 118.90 L633.26 117.44 L633.43 115.91 L633.60 114.45 L633.78 112.92 L633.95 111.46 L634.13 109.93 L634.32 108.41 L634.50 106.95 L634.70 105.43 L634.89 103.97 L635.10 102.45 L635.32 100.93 L635.53 99.47 L635.76 97.96 L635.99 96.51 L636.24 94.99 L636.49 93.54 L636.75 92.03 L637.03 90.53 L637.31 89.08 L637.62 87.58 L637.92 86.14 L638.25 84.64 L638.60 83.14 L638.94 81.71 L639.32 80.22 L639.69 78.79 L640.09 77.30 L640.50 75.88 L640.93 74.40 L641.38 72.92 L641.83 71.51 L642.30 70.03 L642.77 68.63 L643.28 67.16 L643.79 65.70 L644.30 64.30 L644.84 62.85 L645.37 61.46 L645.94 60.01 L646.49 58.63 L647.08 57.19 L647.68 55.75 L648.27 54.38 L648.89 52.96 L649.49 51.59 L650.13 50.18 L650.78 48.77 L651.42 47.41 L652.09 46.01 L652.74 44.67 L653.42 43.28 L654.09 41.95 L654.79 40.57 L655.50 39.19 L656.19 37.87 L656.91 36.51 L657.62 35.20 L658.36 33.85 L659.10 32.50" fill="none" stroke="#127f7c" stroke-width="1.2" stroke-linejoin="round" stroke-linecap="round" opacity="1.0"/>
<path d="M607.50 210.64L609.62 207.07L605.37 207.07Z" fill="#fff" stroke="#4c9e9b" stroke-width="0.55" stroke-linejoin="round"/>
<path d="M607.96 209.45L610.08 205.88L605.83 205.88Z" fill="#fff" stroke="#4c9e9b" stroke-width="0.55" stroke-linejoin="round"/>
<path d="M608.41 208.31L610.54 204.74L606.29 204.74Z" fill="#fff" stroke="#4c9e9b" stroke-width="0.55" stroke-linejoin="round"/>
<path d="M608.87 207.16L611.00 203.59L606.75 203.59Z" fill="#fff" stroke="#4c9e9b" stroke-width="0.55" stroke-linejoin="round"/>
<path d="M609.32 206.06L611.44 202.49L607.19 202.49Z" fill="#fff" stroke="#4c9e9b" stroke-width="0.55" stroke-linejoin="round"/>
<path d="M609.77 204.97L611.90 201.40L607.65 201.40Z" fill="#fff" stroke="#4c9e9b" stroke-width="0.55" stroke-linejoin="round"/>
<path d="M610.21 203.92L612.33 200.35L608.08 200.35Z" fill="#fff" stroke="#4c9e9b" stroke-width="0.55" stroke-linejoin="round"/>
<path d="M610.65 202.87L612.78 199.30L608.53 199.30Z" fill="#fff" stroke="#4c9e9b" stroke-width="0.55" stroke-linejoin="round"/>
<path d="M611.10 201.81L613.23 198.24L608.98 198.24Z" fill="#fff" stroke="#4c9e9b" stroke-width="0.55" stroke-linejoin="round"/>
<path d="M611.56 200.76L613.68 197.19L609.43 197.19Z" fill="#fff" stroke="#4c9e9b" stroke-width="0.55" stroke-linejoin="round"/>
<path d="M612.02 199.70L614.14 196.13L609.89 196.13Z" fill="#fff" stroke="#4c9e9b" stroke-width="0.55" stroke-linejoin="round"/>
<path d="M612.45 198.69L614.58 195.12L610.33 195.12Z" fill="#fff" stroke="#4c9e9b" stroke-width="0.55" stroke-linejoin="round"/>
<path d="M612.92 197.63L615.04 194.06L610.79 194.06Z" fill="#fff" stroke="#4c9e9b" stroke-width="0.55" stroke-linejoin="round"/>
<path d="M613.36 196.62L615.49 193.05L611.24 193.05Z" fill="#fff" stroke="#4c9e9b" stroke-width="0.55" stroke-linejoin="round"/>
<path d="M613.81 195.60L615.93 192.03L611.68 192.03Z" fill="#fff" stroke="#4c9e9b" stroke-width="0.55" stroke-linejoin="round"/>
<path d="M614.25 194.59L616.38 191.02L612.13 191.02Z" fill="#fff" stroke="#4c9e9b" stroke-width="0.55" stroke-linejoin="round"/>
<path d="M614.70 193.57L616.82 190.00L612.57 190.00Z" fill="#fff" stroke="#4c9e9b" stroke-width="0.55" stroke-linejoin="round"/>
<path d="M615.17 192.49L617.30 188.92L613.05 188.92Z" fill="#fff" stroke="#4c9e9b" stroke-width="0.55" stroke-linejoin="round"/>
<path d="M615.62 191.46L617.75 187.89L613.50 187.89Z" fill="#fff" stroke="#4c9e9b" stroke-width="0.55" stroke-linejoin="round"/>
<path d="M616.07 190.44L618.19 186.87L613.94 186.87Z" fill="#fff" stroke="#4c9e9b" stroke-width="0.55" stroke-linejoin="round"/>
<path d="M616.52 189.41L618.64 185.84L614.39 185.84Z" fill="#fff" stroke="#4c9e9b" stroke-width="0.55" stroke-linejoin="round"/>
<path d="M616.96 188.38L619.09 184.81L614.84 184.81Z" fill="#fff" stroke="#4c9e9b" stroke-width="0.55" stroke-linejoin="round"/>
<path d="M617.41 187.35L619.53 183.78L615.28 183.78Z" fill="#fff" stroke="#4c9e9b" stroke-width="0.55" stroke-linejoin="round"/>
<path d="M617.85 186.31L619.97 182.74L615.72 182.74Z" fill="#fff" stroke="#4c9e9b" stroke-width="0.55" stroke-linejoin="round"/>
<path d="M618.31 185.22L620.44 181.65L616.19 181.65Z" fill="#fff" stroke="#4c9e9b" stroke-width="0.55" stroke-linejoin="round"/>
<path d="M618.75 184.18L620.88 180.61L616.63 180.61Z" fill="#fff" stroke="#4c9e9b" stroke-width="0.55" stroke-linejoin="round"/>
<path d="M619.21 183.08L621.33 179.51L617.08 179.51Z" fill="#fff" stroke="#4c9e9b" stroke-width="0.55" stroke-linejoin="round"/>
<path d="M619.66 181.97L621.78 178.40L617.53 178.40Z" fill="#fff" stroke="#4c9e9b" stroke-width="0.55" stroke-linejoin="round"/>
<path d="M620.11 180.87L622.23 177.30L617.98 177.30Z" fill="#fff" stroke="#4c9e9b" stroke-width="0.55" stroke-linejoin="round"/>
<path d="M620.55 179.76L622.67 176.19L618.42 176.19Z" fill="#fff" stroke="#4c9e9b" stroke-width="0.55" stroke-linejoin="round"/>
<path d="M621.01 178.60L623.13 175.03L618.88 175.03Z" fill="#fff" stroke="#4c9e9b" stroke-width="0.55" stroke-linejoin="round"/>
<path d="M621.46 177.43L623.59 173.86L619.34 173.86Z" fill="#fff" stroke="#4c9e9b" stroke-width="0.55" stroke-linejoin="round"/>
<path d="M621.90 176.26L624.03 172.69L619.78 172.69Z" fill="#fff" stroke="#4c9e9b" stroke-width="0.55" stroke-linejoin="round"/>
<path d="M622.36 175.02L624.49 171.45L620.24 171.45Z" fill="#fff" stroke="#4c9e9b" stroke-width="0.55" stroke-linejoin="round"/>
<path d="M622.81 173.79L624.93 170.22L620.68 170.22Z" fill="#fff" stroke="#4c9e9b" stroke-width="0.55" stroke-linejoin="round"/>
<path d="M623.27 172.49L625.39 168.92L621.14 168.92Z" fill="#fff" stroke="#4c9e9b" stroke-width="0.55" stroke-linejoin="round"/>
<path d="M623.71 171.20L625.83 167.63L621.58 167.63Z" fill="#fff" stroke="#4c9e9b" stroke-width="0.55" stroke-linejoin="round"/>
<path d="M624.16 169.84L626.28 166.27L622.03 166.27Z" fill="#fff" stroke="#4c9e9b" stroke-width="0.55" stroke-linejoin="round"/>
<path d="M624.61 168.41L626.74 164.84L622.49 164.84Z" fill="#fff" stroke="#4c9e9b" stroke-width="0.55" stroke-linejoin="round"/>
<path d="M625.07 166.93L627.19 163.36L622.94 163.36Z" fill="#fff" stroke="#4c9e9b" stroke-width="0.55" stroke-linejoin="round"/>
<path d="M625.50 165.44L627.63 161.87L623.38 161.87Z" fill="#fff" stroke="#4c9e9b" stroke-width="0.55" stroke-linejoin="round"/>
<path d="M625.96 163.83L628.08 160.26L623.83 160.26Z" fill="#fff" stroke="#4c9e9b" stroke-width="0.55" stroke-linejoin="round"/>
<path d="M626.40 162.16L628.53 158.59L624.28 158.59Z" fill="#fff" stroke="#4c9e9b" stroke-width="0.55" stroke-linejoin="round"/>
<path d="M626.86 160.37L628.99 156.80L624.74 156.80Z" fill="#fff" stroke="#4c9e9b" stroke-width="0.55" stroke-linejoin="round"/>
<path d="M627.31 158.51L629.44 154.94L625.19 154.94Z" fill="#fff" stroke="#4c9e9b" stroke-width="0.55" stroke-linejoin="round"/>
<path d="M627.76 156.59L629.88 153.02L625.63 153.02Z" fill="#fff" stroke="#4c9e9b" stroke-width="0.55" stroke-linejoin="round"/>
<path d="M628.20 154.54L630.33 150.97L626.08 150.97Z" fill="#fff" stroke="#4c9e9b" stroke-width="0.55" stroke-linejoin="round"/>
<path d="M628.66 152.31L630.78 148.74L626.53 148.74Z" fill="#fff" stroke="#4c9e9b" stroke-width="0.55" stroke-linejoin="round"/>
<path d="M629.10 150.02L631.23 146.45L626.98 146.45Z" fill="#fff" stroke="#4c9e9b" stroke-width="0.55" stroke-linejoin="round"/>
<path d="M629.56 147.48L631.68 143.91L627.43 143.91Z" fill="#fff" stroke="#4c9e9b" stroke-width="0.55" stroke-linejoin="round"/>
<path d="M630.01 144.81L632.13 141.24L627.88 141.24Z" fill="#fff" stroke="#4c9e9b" stroke-width="0.55" stroke-linejoin="round"/>
<path d="M630.46 141.95L632.58 138.38L628.33 138.38Z" fill="#fff" stroke="#4c9e9b" stroke-width="0.55" stroke-linejoin="round"/>
<path d="M630.90 138.91L633.03 135.34L628.78 135.34Z" fill="#fff" stroke="#4c9e9b" stroke-width="0.55" stroke-linejoin="round"/>
<path d="M631.35 135.63L633.48 132.06L629.23 132.06Z" fill="#fff" stroke="#4c9e9b" stroke-width="0.55" stroke-linejoin="round"/>
<path d="M631.80 132.09L633.93 128.52L629.68 128.52Z" fill="#fff" stroke="#4c9e9b" stroke-width="0.55" stroke-linejoin="round"/>
<path d="M632.25 128.37L634.38 124.80L630.13 124.80Z" fill="#fff" stroke="#4c9e9b" stroke-width="0.55" stroke-linejoin="round"/>
<path d="M632.70 124.46L634.83 120.89L630.58 120.89Z" fill="#fff" stroke="#4c9e9b" stroke-width="0.55" stroke-linejoin="round"/>
<path d="M633.15 120.49L635.28 116.92L631.03 116.92Z" fill="#fff" stroke="#4c9e9b" stroke-width="0.55" stroke-linejoin="round"/>
<path d="M633.60 116.59L635.73 113.02L631.48 113.02Z" fill="#fff" stroke="#4c9e9b" stroke-width="0.55" stroke-linejoin="round"/>
<path d="M634.05 112.75L636.18 109.18L631.93 109.18Z" fill="#fff" stroke="#4c9e9b" stroke-width="0.55" stroke-linejoin="round"/>
<path d="M634.50 109.09L636.63 105.52L632.38 105.52Z" fill="#fff" stroke="#4c9e9b" stroke-width="0.55" stroke-linejoin="round"/>
<path d="M634.95 105.68L637.08 102.11L632.83 102.11Z" fill="#fff" stroke="#4c9e9b" stroke-width="0.55" stroke-linejoin="round"/>
<path d="M635.40 102.47L637.53 98.90L633.28 98.90Z" fill="#fff" stroke="#4c9e9b" stroke-width="0.55" stroke-linejoin="round"/>
<path d="M635.86 99.49L637.98 95.92L633.73 95.92Z" fill="#fff" stroke="#4c9e9b" stroke-width="0.55" stroke-linejoin="round"/>
<path d="M636.31 96.71L638.43 93.14L634.18 93.14Z" fill="#fff" stroke="#4c9e9b" stroke-width="0.55" stroke-linejoin="round"/>
<path d="M636.75 94.18L638.88 90.61L634.63 90.61Z" fill="#fff" stroke="#4c9e9b" stroke-width="0.55" stroke-linejoin="round"/>
<path d="M637.21 91.77L639.33 88.20L635.08 88.20Z" fill="#fff" stroke="#4c9e9b" stroke-width="0.55" stroke-linejoin="round"/>
<path d="M637.65 89.54L639.78 85.97L635.53 85.97Z" fill="#fff" stroke="#4c9e9b" stroke-width="0.55" stroke-linejoin="round"/>
<path d="M638.10 87.44L640.23 83.87L635.98 83.87Z" fill="#fff" stroke="#4c9e9b" stroke-width="0.55" stroke-linejoin="round"/>
<path d="M638.55 85.46L640.68 81.89L636.43 81.89Z" fill="#fff" stroke="#4c9e9b" stroke-width="0.55" stroke-linejoin="round"/>
<path d="M639.00 83.61L641.12 80.04L636.87 80.04Z" fill="#fff" stroke="#4c9e9b" stroke-width="0.55" stroke-linejoin="round"/>
<path d="M639.45 81.82L641.58 78.25L637.33 78.25Z" fill="#fff" stroke="#4c9e9b" stroke-width="0.55" stroke-linejoin="round"/>
<path d="M639.91 80.10L642.04 76.53L637.79 76.53Z" fill="#fff" stroke="#4c9e9b" stroke-width="0.55" stroke-linejoin="round"/>
<path d="M640.36 78.49L642.49 74.92L638.24 74.92Z" fill="#fff" stroke="#4c9e9b" stroke-width="0.55" stroke-linejoin="round"/>
<path d="M640.81 76.95L642.93 73.38L638.68 73.38Z" fill="#fff" stroke="#4c9e9b" stroke-width="0.55" stroke-linejoin="round"/>
<path d="M641.25 75.48L643.38 71.91L639.13 71.91Z" fill="#fff" stroke="#4c9e9b" stroke-width="0.55" stroke-linejoin="round"/>
<path d="M641.71 74.00L643.84 70.43L639.59 70.43Z" fill="#fff" stroke="#4c9e9b" stroke-width="0.55" stroke-linejoin="round"/>
<path d="M642.17 72.59L644.29 69.02L640.04 69.02Z" fill="#fff" stroke="#4c9e9b" stroke-width="0.55" stroke-linejoin="round"/>
<path d="M642.61 71.24L644.74 67.67L640.49 67.67Z" fill="#fff" stroke="#4c9e9b" stroke-width="0.55" stroke-linejoin="round"/>
<path d="M643.05 69.95L645.18 66.38L640.93 66.38Z" fill="#fff" stroke="#4c9e9b" stroke-width="0.55" stroke-linejoin="round"/>
<path d="M643.50 68.66L645.63 65.09L641.38 65.09Z" fill="#fff" stroke="#4c9e9b" stroke-width="0.55" stroke-linejoin="round"/>
<path d="M643.96 67.38L646.09 63.81L641.84 63.81Z" fill="#fff" stroke="#4c9e9b" stroke-width="0.55" stroke-linejoin="round"/>
<path d="M644.41 66.15L646.53 62.58L642.28 62.58Z" fill="#fff" stroke="#4c9e9b" stroke-width="0.55" stroke-linejoin="round"/>
<path d="M644.86 64.93L646.99 61.36L642.74 61.36Z" fill="#fff" stroke="#4c9e9b" stroke-width="0.55" stroke-linejoin="round"/>
<path d="M645.31 63.77L647.43 60.20L643.18 60.20Z" fill="#fff" stroke="#4c9e9b" stroke-width="0.55" stroke-linejoin="round"/>
<path d="M645.76 62.61L647.88 59.04L643.63 59.04Z" fill="#fff" stroke="#4c9e9b" stroke-width="0.55" stroke-linejoin="round"/>
<path d="M646.21 61.46L648.34 57.89L644.09 57.89Z" fill="#fff" stroke="#4c9e9b" stroke-width="0.55" stroke-linejoin="round"/>
<path d="M646.66 60.36L648.78 56.79L644.53 56.79Z" fill="#fff" stroke="#4c9e9b" stroke-width="0.55" stroke-linejoin="round"/>
<path d="M647.10 59.27L649.23 55.70L644.98 55.70Z" fill="#fff" stroke="#4c9e9b" stroke-width="0.55" stroke-linejoin="round"/>
<path d="M647.56 58.18L649.68 54.61L645.43 54.61Z" fill="#fff" stroke="#4c9e9b" stroke-width="0.55" stroke-linejoin="round"/>
<path d="M648.02 57.10L650.15 53.53L645.90 53.53Z" fill="#fff" stroke="#4c9e9b" stroke-width="0.55" stroke-linejoin="round"/>
<path d="M648.46 56.07L650.59 52.50L646.34 52.50Z" fill="#fff" stroke="#4c9e9b" stroke-width="0.55" stroke-linejoin="round"/>
<path d="M648.91 55.04L651.04 51.47L646.79 51.47Z" fill="#fff" stroke="#4c9e9b" stroke-width="0.55" stroke-linejoin="round"/>
<path d="M649.37 54.02L651.49 50.45L647.24 50.45Z" fill="#fff" stroke="#4c9e9b" stroke-width="0.55" stroke-linejoin="round"/>
<path d="M649.82 53.00L651.95 49.43L647.70 49.43Z" fill="#fff" stroke="#4c9e9b" stroke-width="0.55" stroke-linejoin="round"/>
<path d="M650.26 52.04L652.39 48.47L648.14 48.47Z" fill="#fff" stroke="#4c9e9b" stroke-width="0.55" stroke-linejoin="round"/>
<path d="M650.70 51.08L652.83 47.51L648.58 47.51Z" fill="#fff" stroke="#4c9e9b" stroke-width="0.55" stroke-linejoin="round"/>
<path d="M651.15 50.12L653.28 46.55L649.03 46.55Z" fill="#fff" stroke="#4c9e9b" stroke-width="0.55" stroke-linejoin="round"/>
<path d="M651.60 49.16L653.73 45.59L649.48 45.59Z" fill="#fff" stroke="#4c9e9b" stroke-width="0.55" stroke-linejoin="round"/>
<path d="M652.06 48.21L654.18 44.64L649.93 44.64Z" fill="#fff" stroke="#4c9e9b" stroke-width="0.55" stroke-linejoin="round"/>
<path d="M652.52 47.26L654.64 43.69L650.39 43.69Z" fill="#fff" stroke="#4c9e9b" stroke-width="0.55" stroke-linejoin="round"/>
<path d="M652.95 46.37L655.08 42.80L650.83 42.80Z" fill="#fff" stroke="#4c9e9b" stroke-width="0.55" stroke-linejoin="round"/>
<path d="M653.42 45.42L655.55 41.85L651.30 41.85Z" fill="#fff" stroke="#4c9e9b" stroke-width="0.55" stroke-linejoin="round"/>
<path d="M653.87 44.53L655.99 40.96L651.74 40.96Z" fill="#fff" stroke="#4c9e9b" stroke-width="0.55" stroke-linejoin="round"/>
<path d="M654.31 43.65L656.44 40.08L652.19 40.08Z" fill="#fff" stroke="#4c9e9b" stroke-width="0.55" stroke-linejoin="round"/>
<path d="M654.76 42.76L656.89 39.19L652.64 39.19Z" fill="#fff" stroke="#4c9e9b" stroke-width="0.55" stroke-linejoin="round"/>
<path d="M655.22 41.88L657.34 38.31L653.09 38.31Z" fill="#fff" stroke="#4c9e9b" stroke-width="0.55" stroke-linejoin="round"/>
<path d="M655.67 41.00L657.80 37.43L653.55 37.43Z" fill="#fff" stroke="#4c9e9b" stroke-width="0.55" stroke-linejoin="round"/>
<path d="M656.10 40.18L658.23 36.61L653.98 36.61Z" fill="#fff" stroke="#4c9e9b" stroke-width="0.55" stroke-linejoin="round"/>
<path d="M656.57 39.30L658.69 35.73L654.44 35.73Z" fill="#fff" stroke="#4c9e9b" stroke-width="0.55" stroke-linejoin="round"/>
<path d="M657.00 38.49L659.13 34.92L654.88 34.92Z" fill="#fff" stroke="#4c9e9b" stroke-width="0.55" stroke-linejoin="round"/>
<path d="M657.47 37.62L659.60 34.05L655.35 34.05Z" fill="#fff" stroke="#4c9e9b" stroke-width="0.55" stroke-linejoin="round"/>
<path d="M657.91 36.80L660.04 33.23L655.79 33.23Z" fill="#fff" stroke="#4c9e9b" stroke-width="0.55" stroke-linejoin="round"/>
<path d="M658.36 35.99L660.48 32.42L656.23 32.42Z" fill="#fff" stroke="#4c9e9b" stroke-width="0.55" stroke-linejoin="round"/>
<path d="M658.80 35.18L660.93 31.61L656.68 31.61Z" fill="#fff" stroke="#4c9e9b" stroke-width="0.55" stroke-linejoin="round"/>
<path d="M659.10 34.64L661.23 31.07L656.98 31.07Z" fill="#fff" stroke="#4c9e9b" stroke-width="0.55" stroke-linejoin="round"/>
<rect x="593.5" y="2.6" width="61.40" height="31.70" fill="#fff" stroke="#000" stroke-width="2.2"/>
<text x="600.6" y="24.8" font-family="Liberation Sans" font-size="16.6" font-weight="normal" text-anchor="start" textLength="46.0" lengthAdjust="spacingAndGlyphs" stroke="#000" stroke-width="0.35">PPS-10</text>
<rect x="714.4" y="102.4" width="57.20" height="53.20" fill="#fff" stroke="#c4c4c4" stroke-width="1"/>
<line x1="717.1" y1="110.4" x2="731.9" y2="110.4" stroke="#000000" stroke-width="4" stroke-linecap="round"/>
<circle cx="724.50" cy="110.40" r="2.30" fill="#fff" stroke="#606060" stroke-width="0.8"/>
<text x="735.7" y="114.1" font-family="Liberation Sans" font-size="10.4" font-weight="bold" text-anchor="start" textLength="35.2" lengthAdjust="spacingAndGlyphs" stroke="#000" stroke-width="0.25">5°C / min</text>
<line x1="717.1" y1="122.9" x2="731.9" y2="122.9" stroke="#ff0000" stroke-width="4" stroke-linecap="round"/>
<circle cx="724.50" cy="122.90" r="2.30" fill="#fff" stroke="#ff4040" stroke-width="0.8"/>
<text x="735.7" y="126.6" font-family="Liberation Sans" font-size="10.4" font-weight="bold" text-anchor="start" textLength="35.2" lengthAdjust="spacingAndGlyphs" stroke="#000" stroke-width="0.25">10°C/min</text>
<line x1="717.1" y1="136.4" x2="731.9" y2="136.4" stroke="#0000ff" stroke-width="4" stroke-linecap="round"/>
<path d="M724.50 133.50L727.38 138.33L721.62 138.33Z" fill="#fff" stroke="#4848ff" stroke-width="0.8" stroke-linejoin="round"/>
<text x="735.7" y="140.1" font-family="Liberation Sans" font-size="10.4" font-weight="bold" text-anchor="start" textLength="35.2" lengthAdjust="spacingAndGlyphs" stroke="#000" stroke-width="0.25">15°C/min</text>
<line x1="717.1" y1="149.2" x2="731.9" y2="149.2" stroke="#127f7c" stroke-width="4" stroke-linecap="round"/>
<path d="M724.50 152.10L727.38 147.27L721.62 147.27Z" fill="#fff" stroke="#4c9e9b" stroke-width="0.8" stroke-linejoin="round"/>
<text x="735.7" y="152.9" font-family="Liberation Sans" font-size="10.4" font-weight="bold" text-anchor="start" textLength="35.2" lengthAdjust="spacingAndGlyphs" stroke="#000" stroke-width="0.25">20°C/min</text>
<path d="M47.2 289.1 V513.3 H267.3" fill="none" stroke="#6a6a6a" stroke-width="1.3"/>
<line x1="43.400000000000006" y1="495.10" x2="47.2" y2="495.10" stroke="#6a6a6a" stroke-width="1.2"/>
<text x="41.6" y="498.7" font-family="Liberation Sans" font-size="10" font-weight="bold" text-anchor="end" textLength="13.3" lengthAdjust="spacingAndGlyphs" stroke="#000" stroke-width="0.25">0.0</text>
<line x1="43.400000000000006" y1="457.66" x2="47.2" y2="457.66" stroke="#6a6a6a" stroke-width="1.2"/>
<text x="41.6" y="461.26" font-family="Liberation Sans" font-size="10" font-weight="bold" text-anchor="end" textLength="13.3" lengthAdjust="spacingAndGlyphs" stroke="#000" stroke-width="0.25">0.2</text>
<line x1="43.400000000000006" y1="420.22" x2="47.2" y2="420.22" stroke="#6a6a6a" stroke-width="1.2"/>
<text x="41.6" y="423.82" font-family="Liberation Sans" font-size="10" font-weight="bold" text-anchor="end" textLength="13.3" lengthAdjust="spacingAndGlyphs" stroke="#000" stroke-width="0.25">0.4</text>
<line x1="43.400000000000006" y1="382.78" x2="47.2" y2="382.78" stroke="#6a6a6a" stroke-width="1.2"/>
<text x="41.6" y="386.38" font-family="Liberation Sans" font-size="10" font-weight="bold" text-anchor="end" textLength="13.3" lengthAdjust="spacingAndGlyphs" stroke="#000" stroke-width="0.25">0.6</text>
<line x1="43.400000000000006" y1="345.34" x2="47.2" y2="345.34" stroke="#6a6a6a" stroke-width="1.2"/>
<text x="41.6" y="348.94" font-family="Liberation Sans" font-size="10" font-weight="bold" text-anchor="end" textLength="13.3" lengthAdjust="spacingAndGlyphs" stroke="#000" stroke-width="0.25">0.8</text>
<line x1="43.400000000000006" y1="307.90" x2="47.2" y2="307.90" stroke="#6a6a6a" stroke-width="1.2"/>
<text x="41.6" y="311.5" font-family="Liberation Sans" font-size="10" font-weight="bold" text-anchor="end" textLength="13.3" lengthAdjust="spacingAndGlyphs" stroke="#000" stroke-width="0.25">1.0</text>
<line x1="70.10" y1="513.3" x2="70.10" y2="517.3" stroke="#6a6a6a" stroke-width="1.2"/>
<text x="70.1" y="530.5" font-family="Liberation Sans" font-size="10" font-weight="bold" text-anchor="middle" textLength="4.8" lengthAdjust="spacingAndGlyphs" stroke="#000" stroke-width="0.25">0</text>
<line x1="116.95" y1="513.3" x2="116.95" y2="517.3" stroke="#6a6a6a" stroke-width="1.2"/>
<text x="116.95" y="530.5" font-family="Liberation Sans" font-size="10" font-weight="bold" text-anchor="middle" textLength="4.8" lengthAdjust="spacingAndGlyphs" stroke="#000" stroke-width="0.25">1</text>
<line x1="163.80" y1="513.3" x2="163.80" y2="517.3" stroke="#6a6a6a" stroke-width="1.2"/>
<text x="163.8" y="530.5" font-family="Liberation Sans" font-size="10" font-weight="bold" text-anchor="middle" textLength="4.8" lengthAdjust="spacingAndGlyphs" stroke="#000" stroke-width="0.25">2</text>
<line x1="210.65" y1="513.3" x2="210.65" y2="517.3" stroke="#6a6a6a" stroke-width="1.2"/>
<text x="210.65" y="530.5" font-family="Liberation Sans" font-size="10" font-weight="bold" text-anchor="middle" textLength="4.8" lengthAdjust="spacingAndGlyphs" stroke="#000" stroke-width="0.25">3</text>
<line x1="257.50" y1="513.3" x2="257.50" y2="517.3" stroke="#6a6a6a" stroke-width="1.2"/>
<text x="257.5" y="530.5" font-family="Liberation Sans" font-size="10" font-weight="bold" text-anchor="middle" textLength="4.8" lengthAdjust="spacingAndGlyphs" stroke="#000" stroke-width="0.25">4</text>
<text x="132.4" y="548.1" font-family="Liberation Sans" font-size="12.5" font-weight="bold" text-anchor="start" textLength="62.1" lengthAdjust="spacingAndGlyphs" stroke="#000" stroke-width="0.25">time, t (min)</text>
<text transform="translate(17.0,479.2) rotate(-90)" font-family="Liberation Sans" font-size="13" font-weight="bold" stroke="#000" stroke-width="0.25"><tspan textLength="150.4" lengthAdjust="spacingAndGlyphs">Relative crystallinity,X</tspan><tspan font-size="13" dy="3.8">t</tspan></text>
<path d="M70.00 495.20 L71.19 494.17 L72.39 493.19 L73.60 492.24 L74.82 491.33 L76.12 490.40 L77.37 489.56 L78.61 488.75 L79.87 487.96 L81.21 487.15 L82.48 486.40 L83.75 485.68 L85.03 484.96 L86.39 484.22 L87.67 483.53 L88.96 482.84 L90.25 482.16 L91.61 481.44 L92.90 480.76 L94.19 480.07 L95.48 479.37 L96.76 478.66 L98.11 477.90 L99.39 477.16 L100.66 476.40 L101.93 475.63 L103.26 474.78 L104.51 473.97 L105.75 473.14 L106.99 472.29 L108.28 471.37 L109.50 470.48 L110.70 469.58 L111.89 468.66 L113.14 467.66 L114.31 466.71 L115.46 465.73 L116.60 464.75 L117.72 463.74 L118.89 462.66 L119.97 461.63 L121.04 460.58 L122.09 459.51 L123.18 458.37 L124.19 457.27 L125.18 456.16 L126.15 455.04 L127.16 453.84 L128.09 452.69 L129.01 451.52 L129.91 450.35 L130.84 449.09 L131.70 447.89 L132.55 446.68 L133.38 445.46 L134.20 444.22 L135.04 442.90 L135.83 441.65 L136.60 440.39 L137.36 439.11 L138.14 437.75 L138.87 436.46 L139.59 435.16 L140.29 433.85 L141.03 432.46 L141.71 431.13 L142.38 429.80 L143.04 428.46 L143.72 427.04 L144.36 425.69 L144.99 424.33 L145.61 422.96 L146.22 421.60 L146.86 420.14 L147.45 418.76 L148.04 417.38 L148.61 416.00 L149.22 414.52 L149.79 413.13 L150.35 411.73 L150.90 410.34 L151.48 408.85 L152.03 407.45 L152.56 406.05 L153.10 404.64 L153.66 403.15 L154.19 401.74 L154.72 400.34 L155.24 398.93 L155.76 397.52 L156.31 396.03 L156.83 394.63 L157.35 393.22 L157.87 391.82 L158.42 390.34 L158.93 388.94 L159.45 387.54 L159.97 386.15 L160.53 384.68 L161.05 383.30 L161.58 381.92 L162.10 380.54 L162.67 379.09 L163.20 377.72 L163.75 376.35 L164.29 374.99 L164.84 373.63 L165.43 372.19 L166.00 370.83 L166.57 369.48 L167.15 368.12 L167.78 366.68 L168.38 365.33 L168.98 363.97 L169.60 362.61 L170.27 361.17 L170.91 359.81 L171.57 358.44 L172.23 357.07 L172.96 355.62 L173.65 354.25 L174.36 352.89 L175.09 351.54 L175.83 350.20 L176.63 348.80 L177.40 347.50 L178.20 346.22 L179.01 344.97 L179.89 343.67 L180.74 342.47 L181.61 341.30 L182.51 340.16 L183.49 338.99 L184.44 337.91 L185.41 336.87 L186.42 335.85 L187.51 334.81 L188.58 333.86 L189.68 332.95 L190.81 332.07 L191.98 331.22 L193.25 330.36 L194.49 329.58 L195.75 328.83 L197.04 328.10 L198.42 327.35 L199.75 326.67 L201.10 326.00 L202.46 325.34 L203.92 324.66 L205.30 324.02 L206.68 323.39 L208.07 322.76 L209.54 322.09 L210.93 321.45 L212.31 320.81 L213.68 320.16 L215.04 319.49 L216.46 318.78 L217.79 318.08 L219.11 317.37 L220.41 316.65 L221.78 315.87 L223.06 315.14 L224.35 314.40 L225.63 313.67 L226.99 312.90 L228.27 312.18 L229.57 311.47 L230.87 310.78 L232.27 310.07 L233.60 309.42 L234.95 308.79 L236.32 308.20 L237.80 307.60" fill="none" stroke="#000000" stroke-width="2.8" stroke-linejoin="round" stroke-linecap="round" opacity="1.0"/>
<circle cx="70.00" cy="495.20" r="2.20" fill="#fff" stroke="#606060" stroke-width="0.65"/>
<circle cx="74.32" cy="491.70" r="2.20" fill="#fff" stroke="#606060" stroke-width="0.65"/>
<circle cx="78.54" cy="488.79" r="2.20" fill="#fff" stroke="#606060" stroke-width="0.65"/>
<circle cx="82.78" cy="486.23" r="2.20" fill="#fff" stroke="#606060" stroke-width="0.65"/>
<circle cx="87.07" cy="483.85" r="2.20" fill="#fff" stroke="#606060" stroke-width="0.65"/>
<circle cx="91.23" cy="481.64" r="2.20" fill="#fff" stroke="#606060" stroke-width="0.65"/>
<circle cx="95.48" cy="479.37" r="2.20" fill="#fff" stroke="#606060" stroke-width="0.65"/>
<circle cx="99.69" cy="476.98" r="2.20" fill="#fff" stroke="#606060" stroke-width="0.65"/>
<circle cx="103.85" cy="474.40" r="2.20" fill="#fff" stroke="#606060" stroke-width="0.65"/>
<circle cx="108.00" cy="471.57" r="2.20" fill="#fff" stroke="#606060" stroke-width="0.65"/>
<circle cx="112.10" cy="468.49" r="2.20" fill="#fff" stroke="#606060" stroke-width="0.65"/>
<circle cx="116.20" cy="465.10" r="2.20" fill="#fff" stroke="#606060" stroke-width="0.65"/>
<circle cx="120.29" cy="461.32" r="2.20" fill="#fff" stroke="#606060" stroke-width="0.65"/>
<circle cx="124.37" cy="457.08" r="2.20" fill="#fff" stroke="#606060" stroke-width="0.65"/>
<circle cx="128.37" cy="452.35" r="2.20" fill="#fff" stroke="#606060" stroke-width="0.65"/>
<circle cx="132.35" cy="446.96" r="2.20" fill="#fff" stroke="#606060" stroke-width="0.65"/>
<circle cx="136.28" cy="440.91" r="2.20" fill="#fff" stroke="#606060" stroke-width="0.65"/>
<circle cx="140.17" cy="434.08" r="2.20" fill="#fff" stroke="#606060" stroke-width="0.65"/>
<circle cx="144.02" cy="426.40" r="2.20" fill="#fff" stroke="#606060" stroke-width="0.65"/>
<circle cx="147.80" cy="417.95" r="2.20" fill="#fff" stroke="#606060" stroke-width="0.65"/>
<circle cx="151.51" cy="408.77" r="2.20" fill="#fff" stroke="#606060" stroke-width="0.65"/>
<circle cx="155.15" cy="399.18" r="2.20" fill="#fff" stroke="#606060" stroke-width="0.65"/>
<circle cx="158.78" cy="389.35" r="2.20" fill="#fff" stroke="#606060" stroke-width="0.65"/>
<circle cx="162.42" cy="379.73" r="2.20" fill="#fff" stroke="#606060" stroke-width="0.65"/>
<circle cx="166.07" cy="370.67" r="2.20" fill="#fff" stroke="#606060" stroke-width="0.65"/>
<circle cx="169.75" cy="362.29" r="2.20" fill="#fff" stroke="#606060" stroke-width="0.65"/>
<circle cx="173.49" cy="354.58" r="2.20" fill="#fff" stroke="#606060" stroke-width="0.65"/>
<circle cx="177.27" cy="347.73" r="2.20" fill="#fff" stroke="#606060" stroke-width="0.65"/>
<circle cx="181.04" cy="342.06" r="2.20" fill="#fff" stroke="#606060" stroke-width="0.65"/>
<circle cx="184.89" cy="337.42" r="2.20" fill="#fff" stroke="#606060" stroke-width="0.65"/>
<circle cx="188.71" cy="333.75" r="2.20" fill="#fff" stroke="#606060" stroke-width="0.65"/>
<circle cx="192.54" cy="330.84" r="2.20" fill="#fff" stroke="#606060" stroke-width="0.65"/>
<circle cx="196.43" cy="328.44" r="2.20" fill="#fff" stroke="#606060" stroke-width="0.65"/>
<circle cx="200.23" cy="326.43" r="2.20" fill="#fff" stroke="#606060" stroke-width="0.65"/>
<circle cx="204.08" cy="324.58" r="2.20" fill="#fff" stroke="#606060" stroke-width="0.65"/>
<circle cx="207.83" cy="322.87" r="2.20" fill="#fff" stroke="#606060" stroke-width="0.65"/>
<circle cx="211.66" cy="321.11" r="2.20" fill="#fff" stroke="#606060" stroke-width="0.65"/>
<circle cx="215.44" cy="319.30" r="2.20" fill="#fff" stroke="#606060" stroke-width="0.65"/>
<circle cx="219.18" cy="317.33" r="2.20" fill="#fff" stroke="#606060" stroke-width="0.65"/>
<circle cx="222.99" cy="315.18" r="2.20" fill="#fff" stroke="#606060" stroke-width="0.65"/>
<circle cx="226.68" cy="313.07" r="2.20" fill="#fff" stroke="#606060" stroke-width="0.65"/>
<circle cx="230.41" cy="311.02" r="2.20" fill="#fff" stroke="#606060" stroke-width="0.65"/>
<circle cx="234.15" cy="309.16" r="2.20" fill="#fff" stroke="#606060" stroke-width="0.65"/>
<circle cx="237.80" cy="307.60" r="2.20" fill="#fff" stroke="#606060" stroke-width="0.65"/>
<path d="M70.00 495.20 L71.34 494.54 L72.73 493.82 L74.10 493.08 L75.46 492.32 L76.80 491.53 L78.12 490.73 L79.43 489.90 L80.64 489.10 L81.91 488.23 L83.16 487.34 L84.40 486.43 L85.61 485.51 L86.81 484.56 L87.99 483.60 L89.09 482.67 L90.24 481.67 L91.37 480.65 L92.48 479.61 L93.57 478.56 L94.65 477.49 L95.70 476.41 L96.69 475.36 L97.71 474.25 L98.72 473.12 L99.71 471.97 L100.68 470.81 L101.63 469.64 L102.57 468.45 L103.44 467.31 L104.35 466.10 L105.23 464.87 L106.10 463.63 L106.96 462.38 L107.80 461.12 L108.62 459.85 L109.43 458.57 L110.18 457.35 L110.96 456.05 L111.73 454.74 L112.48 453.42 L113.22 452.09 L113.94 450.76 L114.65 449.42 L115.31 448.15 L115.99 446.79 L116.67 445.43 L117.33 444.07 L117.98 442.70 L118.61 441.33 L119.24 439.95 L119.82 438.64 L120.43 437.25 L121.02 435.85 L121.61 434.46 L122.19 433.05 L122.76 431.65 L123.32 430.24 L123.85 428.90 L124.40 427.48 L124.94 426.06 L125.48 424.64 L126.01 423.21 L126.54 421.78 L127.06 420.35 L127.57 418.92 L128.06 417.56 L128.57 416.12 L129.08 414.68 L129.58 413.24 L130.08 411.80 L130.58 410.36 L131.08 408.91 L131.55 407.54 L132.05 406.10 L132.55 404.65 L133.05 403.20 L133.55 401.76 L134.05 400.31 L134.55 398.86 L135.03 397.49 L135.54 396.05 L136.05 394.60 L136.57 393.16 L137.09 391.72 L137.61 390.27 L138.14 388.83 L138.64 387.47 L139.18 386.03 L139.73 384.60 L140.28 383.17 L140.84 381.74 L141.41 380.31 L141.98 378.89 L142.53 377.54 L143.12 376.12 L143.73 374.71 L144.34 373.29 L144.96 371.89 L145.59 370.48 L146.23 369.08 L146.88 367.69 L147.51 366.37 L148.19 364.99 L148.87 363.61 L149.57 362.23 L150.28 360.87 L151.00 359.51 L151.73 358.15 L152.44 356.88 L153.19 355.54 L153.96 354.21 L154.74 352.89 L155.53 351.58 L156.34 350.28 L157.15 348.99 L157.94 347.77 L158.78 346.50 L159.64 345.24 L160.51 343.99 L161.39 342.75 L162.29 341.53 L163.20 340.31 L164.07 339.18 L165.01 337.99 L165.96 336.81 L166.92 335.65 L167.90 334.50 L168.90 333.37 L169.91 332.25 L170.93 331.15 L171.91 330.12 L172.96 329.05 L174.03 327.99 L175.11 326.96 L176.21 325.93 L177.33 324.93 L178.46 323.94 L179.54 323.03 L180.70 322.08 L181.88 321.15 L183.07 320.23 L184.28 319.34 L185.50 318.47 L186.74 317.62 L187.94 316.83 L189.21 316.02 L190.50 315.23 L191.81 314.46 L193.14 313.72 L194.48 313.00 L195.84 312.30 L197.15 311.66 L198.54 311.00 L199.96 310.37 L201.39 309.77 L202.84 309.19 L204.31 308.63 L205.80 308.10 L207.30 307.60" fill="none" stroke="#ff0000" stroke-width="2.8" stroke-linejoin="round" stroke-linecap="round" opacity="1.0"/>
<circle cx="70.00" cy="495.20" r="2.30" fill="#fff" stroke="#ff4040" stroke-width="0.65"/>
<circle cx="73.60" cy="493.36" r="2.30" fill="#fff" stroke="#ff4040" stroke-width="0.65"/>
<circle cx="77.15" cy="491.32" r="2.30" fill="#fff" stroke="#ff4040" stroke-width="0.65"/>
<circle cx="80.71" cy="489.05" r="2.30" fill="#fff" stroke="#ff4040" stroke-width="0.65"/>
<circle cx="84.20" cy="486.58" r="2.30" fill="#fff" stroke="#ff4040" stroke-width="0.65"/>
<circle cx="87.75" cy="483.80" r="2.30" fill="#fff" stroke="#ff4040" stroke-width="0.65"/>
<circle cx="91.25" cy="480.76" r="2.30" fill="#fff" stroke="#ff4040" stroke-width="0.65"/>
<circle cx="94.70" cy="477.43" r="2.30" fill="#fff" stroke="#ff4040" stroke-width="0.65"/>
<circle cx="98.14" cy="473.77" r="2.30" fill="#fff" stroke="#ff4040" stroke-width="0.65"/>
<circle cx="101.58" cy="469.70" r="2.30" fill="#fff" stroke="#ff4040" stroke-width="0.65"/>
<circle cx="104.95" cy="465.26" r="2.30" fill="#fff" stroke="#ff4040" stroke-width="0.65"/>
<circle cx="108.28" cy="460.39" r="2.30" fill="#fff" stroke="#ff4040" stroke-width="0.65"/>
<circle cx="111.53" cy="455.08" r="2.30" fill="#fff" stroke="#ff4040" stroke-width="0.65"/>
<circle cx="114.76" cy="449.21" r="2.30" fill="#fff" stroke="#ff4040" stroke-width="0.65"/>
<circle cx="117.91" cy="442.85" r="2.30" fill="#fff" stroke="#ff4040" stroke-width="0.65"/>
<circle cx="120.99" cy="435.93" r="2.30" fill="#fff" stroke="#ff4040" stroke-width="0.65"/>
<circle cx="124.00" cy="428.53" r="2.30" fill="#fff" stroke="#ff4040" stroke-width="0.65"/>
<circle cx="126.92" cy="420.73" r="2.30" fill="#fff" stroke="#ff4040" stroke-width="0.65"/>
<circle cx="129.79" cy="412.64" r="2.30" fill="#fff" stroke="#ff4040" stroke-width="0.65"/>
<circle cx="132.66" cy="404.35" r="2.30" fill="#fff" stroke="#ff4040" stroke-width="0.65"/>
<circle cx="135.49" cy="396.20" r="2.30" fill="#fff" stroke="#ff4040" stroke-width="0.65"/>
<circle cx="138.39" cy="388.15" r="2.30" fill="#fff" stroke="#ff4040" stroke-width="0.65"/>
<circle cx="141.32" cy="380.54" r="2.30" fill="#fff" stroke="#ff4040" stroke-width="0.65"/>
<circle cx="144.30" cy="373.37" r="2.30" fill="#fff" stroke="#ff4040" stroke-width="0.65"/>
<circle cx="147.37" cy="366.66" r="2.30" fill="#fff" stroke="#ff4040" stroke-width="0.65"/>
<circle cx="150.50" cy="360.44" r="2.30" fill="#fff" stroke="#ff4040" stroke-width="0.65"/>
<circle cx="153.67" cy="354.70" r="2.30" fill="#fff" stroke="#ff4040" stroke-width="0.65"/>
<circle cx="156.89" cy="349.40" r="2.30" fill="#fff" stroke="#ff4040" stroke-width="0.65"/>
<circle cx="160.14" cy="344.52" r="2.30" fill="#fff" stroke="#ff4040" stroke-width="0.65"/>
<circle cx="163.44" cy="340.00" r="2.30" fill="#fff" stroke="#ff4040" stroke-width="0.65"/>
<circle cx="166.72" cy="335.89" r="2.30" fill="#fff" stroke="#ff4040" stroke-width="0.65"/>
<circle cx="170.07" cy="332.08" r="2.30" fill="#fff" stroke="#ff4040" stroke-width="0.65"/>
<circle cx="173.41" cy="328.60" r="2.30" fill="#fff" stroke="#ff4040" stroke-width="0.65"/>
<circle cx="176.74" cy="325.46" r="2.30" fill="#fff" stroke="#ff4040" stroke-width="0.65"/>
<circle cx="180.15" cy="322.53" r="2.30" fill="#fff" stroke="#ff4040" stroke-width="0.65"/>
<circle cx="183.51" cy="319.90" r="2.30" fill="#fff" stroke="#ff4040" stroke-width="0.65"/>
<circle cx="186.88" cy="317.53" r="2.30" fill="#fff" stroke="#ff4040" stroke-width="0.65"/>
<circle cx="190.30" cy="315.35" r="2.30" fill="#fff" stroke="#ff4040" stroke-width="0.65"/>
<circle cx="193.70" cy="313.41" r="2.30" fill="#fff" stroke="#ff4040" stroke-width="0.65"/>
<circle cx="197.08" cy="311.69" r="2.30" fill="#fff" stroke="#ff4040" stroke-width="0.65"/>
<circle cx="200.48" cy="310.15" r="2.30" fill="#fff" stroke="#ff4040" stroke-width="0.65"/>
<circle cx="203.84" cy="308.80" r="2.30" fill="#fff" stroke="#ff4040" stroke-width="0.65"/>
<circle cx="207.22" cy="307.62" r="2.30" fill="#fff" stroke="#ff4040" stroke-width="0.65"/>
<path d="M70.00 495.20 L71.35 494.45 L72.67 493.66 L73.97 492.85 L75.29 491.96 L76.53 491.09 L77.73 490.19 L78.91 489.27 L80.13 488.27 L81.25 487.30 L82.35 486.30 L83.42 485.28 L84.53 484.18 L85.55 483.11 L86.55 482.02 L87.52 480.92 L88.52 479.73 L89.45 478.58 L90.36 477.42 L91.28 476.18 L92.15 474.98 L92.99 473.76 L93.80 472.53 L94.64 471.22 L95.42 469.96 L96.18 468.69 L96.92 467.40 L97.67 466.04 L98.38 464.74 L99.06 463.42 L99.73 462.09 L100.41 460.69 L101.04 459.35 L101.66 458.00 L102.26 456.64 L102.87 455.21 L103.44 453.84 L104.00 452.46 L104.57 451.01 L105.09 449.62 L105.61 448.23 L106.11 446.83 L106.63 445.36 L107.10 443.95 L107.57 442.53 L108.02 441.11 L108.49 439.62 L108.93 438.19 L109.35 436.76 L109.77 435.32 L110.19 433.81 L110.59 432.37 L110.98 430.93 L111.37 429.48 L111.76 427.95 L112.13 426.50 L112.49 425.04 L112.87 423.51 L113.22 422.05 L113.57 420.58 L113.91 419.12 L114.27 417.58 L114.60 416.11 L114.93 414.64 L115.26 413.17 L115.60 411.62 L115.93 410.15 L116.25 408.68 L116.57 407.21 L116.91 405.66 L117.23 404.19 L117.56 402.72 L117.88 401.24 L118.22 399.70 L118.54 398.23 L118.87 396.76 L119.22 395.22 L119.55 393.76 L119.89 392.29 L120.23 390.83 L120.59 389.30 L120.94 387.84 L121.29 386.38 L121.65 384.93 L122.04 383.41 L122.42 381.97 L122.80 380.53 L123.19 379.09 L123.62 377.59 L124.03 376.17 L124.45 374.75 L124.89 373.33 L125.36 371.85 L125.82 370.45 L126.29 369.06 L126.80 367.60 L127.30 366.22 L127.82 364.85 L128.35 363.48 L128.92 362.06 L129.49 360.71 L130.07 359.37 L130.67 358.04 L131.32 356.66 L131.96 355.35 L132.62 354.05 L133.30 352.76 L134.04 351.41 L134.76 350.15 L135.50 348.89 L136.27 347.65 L137.10 346.35 L137.92 345.13 L138.76 343.93 L139.67 342.67 L140.57 341.49 L141.49 340.33 L142.44 339.17 L143.46 337.98 L144.47 336.86 L145.50 335.75 L146.56 334.65 L147.70 333.52 L148.81 332.45 L149.93 331.39 L151.07 330.35 L152.27 329.26 L153.42 328.24 L154.58 327.22 L155.74 326.21 L156.95 325.15 L158.10 324.15 L159.24 323.16 L160.43 322.12 L161.55 321.14 L162.66 320.15 L163.77 319.17 L164.92 318.14 L166.01 317.16 L167.09 316.18 L168.17 315.19 L169.30 314.16 L170.38 313.17 L171.45 312.17 L172.52 311.17 L173.64 310.12 L174.71 309.10 L175.77 308.08 L176.90 307.00" fill="none" stroke="#0000ff" stroke-width="2.8" stroke-linejoin="round" stroke-linecap="round" opacity="1.0"/>
<path d="M70.00 492.55L72.62 496.96L67.37 496.96Z" fill="#fff" stroke="#4848ff" stroke-width="0.65" stroke-linejoin="round"/>
<path d="M73.39 490.57L76.01 494.98L70.76 494.98Z" fill="#fff" stroke="#4848ff" stroke-width="0.65" stroke-linejoin="round"/>
<path d="M76.77 488.27L79.40 492.68L74.15 492.68Z" fill="#fff" stroke="#4848ff" stroke-width="0.65" stroke-linejoin="round"/>
<path d="M80.18 485.58L82.81 489.99L77.56 489.99Z" fill="#fff" stroke="#4848ff" stroke-width="0.65" stroke-linejoin="round"/>
<path d="M83.53 482.53L86.16 486.94L80.91 486.94Z" fill="#fff" stroke="#4848ff" stroke-width="0.65" stroke-linejoin="round"/>
<path d="M86.89 478.99L89.52 483.40L84.27 483.40Z" fill="#fff" stroke="#4848ff" stroke-width="0.65" stroke-linejoin="round"/>
<path d="M90.27 474.89L92.89 479.30L87.64 479.30Z" fill="#fff" stroke="#4848ff" stroke-width="0.65" stroke-linejoin="round"/>
<path d="M93.60 470.19L96.23 474.60L90.98 474.60Z" fill="#fff" stroke="#4848ff" stroke-width="0.65" stroke-linejoin="round"/>
<path d="M96.88 464.82L99.51 469.23L94.26 469.23Z" fill="#fff" stroke="#4848ff" stroke-width="0.65" stroke-linejoin="round"/>
<path d="M100.15 458.58L102.78 462.99L97.53 462.99Z" fill="#fff" stroke="#4848ff" stroke-width="0.65" stroke-linejoin="round"/>
<path d="M103.36 451.40L105.98 455.81L100.73 455.81Z" fill="#fff" stroke="#4848ff" stroke-width="0.65" stroke-linejoin="round"/>
<path d="M106.48 443.13L109.10 447.54L103.85 447.54Z" fill="#fff" stroke="#4848ff" stroke-width="0.65" stroke-linejoin="round"/>
<path d="M109.50 433.61L112.12 438.02L106.87 438.02Z" fill="#fff" stroke="#4848ff" stroke-width="0.65" stroke-linejoin="round"/>
<path d="M112.37 422.90L114.99 427.31L109.74 427.31Z" fill="#fff" stroke="#4848ff" stroke-width="0.65" stroke-linejoin="round"/>
<path d="M115.13 411.11L117.75 415.52L112.50 415.52Z" fill="#fff" stroke="#4848ff" stroke-width="0.65" stroke-linejoin="round"/>
<path d="M117.83 398.82L120.45 403.23L115.20 403.23Z" fill="#fff" stroke="#4848ff" stroke-width="0.65" stroke-linejoin="round"/>
<path d="M120.55 386.80L123.18 391.21L117.93 391.21Z" fill="#fff" stroke="#4848ff" stroke-width="0.65" stroke-linejoin="round"/>
<path d="M123.42 375.66L126.04 380.07L120.79 380.07Z" fill="#fff" stroke="#4848ff" stroke-width="0.65" stroke-linejoin="round"/>
<path d="M126.46 365.92L129.08 370.33L123.83 370.33Z" fill="#fff" stroke="#4848ff" stroke-width="0.65" stroke-linejoin="round"/>
<path d="M129.63 357.73L132.26 362.14L127.01 362.14Z" fill="#fff" stroke="#4848ff" stroke-width="0.65" stroke-linejoin="round"/>
<path d="M132.92 350.82L135.55 355.23L130.30 355.23Z" fill="#fff" stroke="#4848ff" stroke-width="0.65" stroke-linejoin="round"/>
<path d="M136.27 345.00L138.90 349.41L133.65 349.41Z" fill="#fff" stroke="#4848ff" stroke-width="0.65" stroke-linejoin="round"/>
<path d="M139.67 340.03L142.30 344.44L137.05 344.44Z" fill="#fff" stroke="#4848ff" stroke-width="0.65" stroke-linejoin="round"/>
<path d="M143.12 335.73L145.74 340.14L140.49 340.14Z" fill="#fff" stroke="#4848ff" stroke-width="0.65" stroke-linejoin="round"/>
<path d="M146.62 331.95L149.24 336.36L143.99 336.36Z" fill="#fff" stroke="#4848ff" stroke-width="0.65" stroke-linejoin="round"/>
<path d="M150.10 328.59L152.72 333.00L147.47 333.00Z" fill="#fff" stroke="#4848ff" stroke-width="0.65" stroke-linejoin="round"/>
<path d="M153.60 325.44L156.22 329.85L150.97 329.85Z" fill="#fff" stroke="#4848ff" stroke-width="0.65" stroke-linejoin="round"/>
<path d="M157.12 322.36L159.75 326.77L154.50 326.77Z" fill="#fff" stroke="#4848ff" stroke-width="0.65" stroke-linejoin="round"/>
<path d="M160.66 319.28L163.28 323.69L158.03 323.69Z" fill="#fff" stroke="#4848ff" stroke-width="0.65" stroke-linejoin="round"/>
<path d="M164.15 316.18L166.78 320.59L161.53 320.59Z" fill="#fff" stroke="#4848ff" stroke-width="0.65" stroke-linejoin="round"/>
<path d="M167.69 312.99L170.31 317.40L165.06 317.40Z" fill="#fff" stroke="#4848ff" stroke-width="0.65" stroke-linejoin="round"/>
<path d="M171.23 309.73L173.86 314.14L168.61 314.14Z" fill="#fff" stroke="#4848ff" stroke-width="0.65" stroke-linejoin="round"/>
<path d="M174.76 306.41L177.38 310.82L172.13 310.82Z" fill="#fff" stroke="#4848ff" stroke-width="0.65" stroke-linejoin="round"/>
<path d="M176.90 304.35L179.52 308.76L174.27 308.76Z" fill="#fff" stroke="#4848ff" stroke-width="0.65" stroke-linejoin="round"/>
<path d="M70.00 495.20 L71.17 494.18 L72.36 493.10 L73.50 491.99 L74.55 490.91 L75.61 489.76 L76.63 488.59 L77.61 487.40 L78.51 486.25 L79.41 485.03 L80.29 483.79 L81.13 482.53 L81.90 481.32 L82.68 480.03 L83.43 478.73 L84.12 477.48 L84.82 476.15 L85.49 474.81 L86.14 473.46 L86.74 472.16 L87.35 470.78 L87.94 469.40 L88.51 468.01 L89.04 466.67 L89.58 465.26 L90.10 463.84 L90.61 462.42 L91.09 461.06 L91.58 459.62 L92.06 458.18 L92.51 456.80 L92.97 455.35 L93.42 453.89 L93.86 452.43 L94.28 451.03 L94.70 449.56 L95.12 448.09 L95.53 446.61 L95.91 445.19 L96.30 443.70 L96.68 442.21 L97.06 440.72 L97.41 439.29 L97.78 437.79 L98.14 436.29 L98.47 434.85 L98.82 433.34 L99.16 431.83 L99.49 430.31 L99.81 428.87 L100.14 427.35 L100.46 425.83 L100.77 424.31 L101.07 422.86 L101.38 421.34 L101.69 419.81 L101.98 418.36 L102.28 416.83 L102.58 415.31 L102.87 413.78 L103.15 412.32 L103.45 410.80 L103.74 409.27 L104.03 407.75 L104.30 406.29 L104.59 404.77 L104.88 403.25 L105.17 401.73 L105.44 400.27 L105.73 398.76 L106.02 397.24 L106.30 395.79 L106.60 394.28 L106.90 392.77 L107.20 391.26 L107.49 389.82 L107.80 388.31 L108.12 386.81 L108.44 385.31 L108.75 383.88 L109.08 382.39 L109.42 380.90 L109.76 379.41 L110.10 378.00 L110.46 376.52 L110.82 375.04 L111.18 373.64 L111.57 372.17 L111.96 370.71 L112.37 369.25 L112.77 367.86 L113.19 366.41 L113.63 364.96 L114.09 363.52 L114.54 362.16 L115.02 360.73 L115.52 359.30 L116.01 357.95 L116.54 356.54 L117.08 355.14 L117.65 353.74 L118.21 352.42 L118.81 351.03 L119.44 349.66 L120.08 348.29 L120.72 346.99 L121.41 345.64 L122.12 344.30 L122.85 342.96 L123.58 341.70 L124.36 340.38 L125.17 339.07 L125.97 337.83 L126.83 336.54 L127.70 335.25 L128.60 333.98 L129.47 332.77 L130.41 331.52 L131.35 330.27 L132.32 329.03 L133.25 327.85 L134.23 326.63 L135.23 325.41 L136.24 324.20 L137.20 323.06 L138.22 321.87 L139.24 320.68 L140.22 319.56 L141.25 318.39 L142.27 317.23 L143.30 316.07 L144.28 314.98 L145.29 313.84 L146.31 312.71 L147.31 311.58 L148.27 310.51 L149.26 309.40 L150.23 308.30 L151.20 307.20" fill="none" stroke="#127f7c" stroke-width="2.8" stroke-linejoin="round" stroke-linecap="round" opacity="1.0"/>
<path d="M70.00 497.85L72.63 493.44L67.38 493.44Z" fill="#fff" stroke="#4c9e9b" stroke-width="0.65" stroke-linejoin="round"/>
<path d="M74.00 494.12L76.63 489.71L71.38 489.71Z" fill="#fff" stroke="#4c9e9b" stroke-width="0.65" stroke-linejoin="round"/>
<path d="M77.95 489.61L80.58 485.20L75.33 485.20Z" fill="#fff" stroke="#4c9e9b" stroke-width="0.65" stroke-linejoin="round"/>
<path d="M81.83 484.08L84.45 479.67L79.20 479.67Z" fill="#fff" stroke="#4c9e9b" stroke-width="0.65" stroke-linejoin="round"/>
<path d="M85.64 477.15L88.27 472.74L83.02 472.74Z" fill="#fff" stroke="#4c9e9b" stroke-width="0.65" stroke-linejoin="round"/>
<path d="M89.38 468.42L92.01 464.01L86.76 464.01Z" fill="#fff" stroke="#4c9e9b" stroke-width="0.65" stroke-linejoin="round"/>
<path d="M93.08 457.66L95.70 453.25L90.45 453.25Z" fill="#fff" stroke="#4c9e9b" stroke-width="0.65" stroke-linejoin="round"/>
<path d="M96.70 444.79L99.33 440.38L94.08 440.38Z" fill="#fff" stroke="#4c9e9b" stroke-width="0.65" stroke-linejoin="round"/>
<path d="M100.27 429.38L102.89 424.97L97.64 424.97Z" fill="#fff" stroke="#4c9e9b" stroke-width="0.65" stroke-linejoin="round"/>
<path d="M103.79 411.64L106.41 407.23L101.16 407.23Z" fill="#fff" stroke="#4c9e9b" stroke-width="0.65" stroke-linejoin="round"/>
<path d="M107.24 393.70L109.87 389.29L104.62 389.29Z" fill="#fff" stroke="#4c9e9b" stroke-width="0.65" stroke-linejoin="round"/>
<path d="M110.65 378.36L113.28 373.95L108.03 373.95Z" fill="#fff" stroke="#4c9e9b" stroke-width="0.65" stroke-linejoin="round"/>
<path d="M114.01 366.43L116.63 362.02L111.38 362.02Z" fill="#fff" stroke="#4c9e9b" stroke-width="0.65" stroke-linejoin="round"/>
<path d="M117.29 357.28L119.91 352.87L114.66 352.87Z" fill="#fff" stroke="#4c9e9b" stroke-width="0.65" stroke-linejoin="round"/>
<path d="M120.53 350.01L123.16 345.60L117.91 345.60Z" fill="#fff" stroke="#4c9e9b" stroke-width="0.65" stroke-linejoin="round"/>
<path d="M123.72 344.10L126.35 339.69L121.10 339.69Z" fill="#fff" stroke="#4c9e9b" stroke-width="0.65" stroke-linejoin="round"/>
<path d="M126.87 339.12L129.49 334.71L124.24 334.71Z" fill="#fff" stroke="#4c9e9b" stroke-width="0.65" stroke-linejoin="round"/>
<path d="M129.98 334.73L132.61 330.32L127.36 330.32Z" fill="#fff" stroke="#4c9e9b" stroke-width="0.65" stroke-linejoin="round"/>
<path d="M133.03 330.78L135.65 326.37L130.40 326.37Z" fill="#fff" stroke="#4c9e9b" stroke-width="0.65" stroke-linejoin="round"/>
<path d="M136.01 327.12L138.63 322.71L133.38 322.71Z" fill="#fff" stroke="#4c9e9b" stroke-width="0.65" stroke-linejoin="round"/>
<path d="M138.96 323.65L141.59 319.24L136.34 319.24Z" fill="#fff" stroke="#4c9e9b" stroke-width="0.65" stroke-linejoin="round"/>
<path d="M141.85 320.35L144.48 315.94L139.23 315.94Z" fill="#fff" stroke="#4c9e9b" stroke-width="0.65" stroke-linejoin="round"/>
<path d="M144.69 317.16L147.32 312.75L142.07 312.75Z" fill="#fff" stroke="#4c9e9b" stroke-width="0.65" stroke-linejoin="round"/>
<path d="M147.50 314.02L150.12 309.61L144.87 309.61Z" fill="#fff" stroke="#4c9e9b" stroke-width="0.65" stroke-linejoin="round"/>
<path d="M150.23 310.94L152.86 306.53L147.61 306.53Z" fill="#fff" stroke="#4c9e9b" stroke-width="0.65" stroke-linejoin="round"/>
<path d="M151.20 309.85L153.83 305.44L148.58 305.44Z" fill="#fff" stroke="#4c9e9b" stroke-width="0.65" stroke-linejoin="round"/>
<rect x="49.1" y="285.20000000000005" width="73.40" height="31.00" fill="#fff" stroke="#000" stroke-width="2.2"/>
<text x="55.7" y="307.7" font-family="Liberation Sans" font-size="16.6" font-weight="normal" text-anchor="start" textLength="57.6" lengthAdjust="spacingAndGlyphs" stroke="#000" stroke-width="0.35">PPCS-1:1</text>
<rect x="185.3" y="354.4" width="66.20" height="58.30" fill="#fff" stroke="#c4c4c4" stroke-width="1"/>
<line x1="188" y1="362.9" x2="205" y2="362.9" stroke="#000000" stroke-width="4" stroke-linecap="round"/>
<circle cx="196.50" cy="362.90" r="2.30" fill="#fff" stroke="#606060" stroke-width="0.8"/>
<text x="208.6" y="366.6" font-family="Liberation Sans" font-size="10.4" font-weight="bold" text-anchor="start" textLength="42.3" lengthAdjust="spacingAndGlyphs" stroke="#000" stroke-width="0.25">5°C / min.</text>
<line x1="188" y1="377.6" x2="205" y2="377.6" stroke="#ff0000" stroke-width="4" stroke-linecap="round"/>
<circle cx="196.50" cy="377.60" r="2.30" fill="#fff" stroke="#ff4040" stroke-width="0.8"/>
<text x="208.6" y="381.3" font-family="Liberation Sans" font-size="10.4" font-weight="bold" text-anchor="start" textLength="39.4" lengthAdjust="spacingAndGlyphs" stroke="#000" stroke-width="0.25">10°C/min</text>
<line x1="188" y1="392" x2="205" y2="392" stroke="#0000ff" stroke-width="4" stroke-linecap="round"/>
<path d="M196.50 389.10L199.38 393.93L193.62 393.93Z" fill="#fff" stroke="#4848ff" stroke-width="0.8" stroke-linejoin="round"/>
<text x="208.6" y="395.7" font-family="Liberation Sans" font-size="10.4" font-weight="bold" text-anchor="start" textLength="39.4" lengthAdjust="spacingAndGlyphs" stroke="#000" stroke-width="0.25">15°C/min</text>
<line x1="188" y1="406.4" x2="205" y2="406.4" stroke="#127f7c" stroke-width="4" stroke-linecap="round"/>
<path d="M196.50 409.30L199.38 404.47L193.62 404.47Z" fill="#fff" stroke="#4c9e9b" stroke-width="0.8" stroke-linejoin="round"/>
<text x="208.6" y="410.1" font-family="Liberation Sans" font-size="10.4" font-weight="bold" text-anchor="start" textLength="39.4" lengthAdjust="spacingAndGlyphs" stroke="#000" stroke-width="0.25">20°C/min</text>
<path d="M321.6 289.6 V520.5 H539" fill="none" stroke="#6a6a6a" stroke-width="1.3"/>
<line x1="317.8" y1="501.30" x2="321.6" y2="501.30" stroke="#6a6a6a" stroke-width="1.2"/>
<text x="315.7" y="504.9" font-family="Liberation Sans" font-size="10" font-weight="bold" text-anchor="end" textLength="13.0" lengthAdjust="spacingAndGlyphs" stroke="#000" stroke-width="0.25">0.0</text>
<line x1="317.8" y1="462.84" x2="321.6" y2="462.84" stroke="#6a6a6a" stroke-width="1.2"/>
<text x="315.7" y="466.44" font-family="Liberation Sans" font-size="10" font-weight="bold" text-anchor="end" textLength="13.0" lengthAdjust="spacingAndGlyphs" stroke="#000" stroke-width="0.25">0.2</text>
<line x1="317.8" y1="424.38" x2="321.6" y2="424.38" stroke="#6a6a6a" stroke-width="1.2"/>
<text x="315.7" y="427.98" font-family="Liberation Sans" font-size="10" font-weight="bold" text-anchor="end" textLength="13.0" lengthAdjust="spacingAndGlyphs" stroke="#000" stroke-width="0.25">0.4</text>
<line x1="317.8" y1="385.92" x2="321.6" y2="385.92" stroke="#6a6a6a" stroke-width="1.2"/>
<text x="315.7" y="389.52" font-family="Liberation Sans" font-size="10" font-weight="bold" text-anchor="end" textLength="13.0" lengthAdjust="spacingAndGlyphs" stroke="#000" stroke-width="0.25">0.6</text>
<line x1="317.8" y1="347.46" x2="321.6" y2="347.46" stroke="#6a6a6a" stroke-width="1.2"/>
<text x="315.7" y="351.06" font-family="Liberation Sans" font-size="10" font-weight="bold" text-anchor="end" textLength="13.0" lengthAdjust="spacingAndGlyphs" stroke="#000" stroke-width="0.25">0.8</text>
<line x1="317.8" y1="309.00" x2="321.6" y2="309.00" stroke="#6a6a6a" stroke-width="1.2"/>
<text x="315.7" y="312.6" font-family="Liberation Sans" font-size="10" font-weight="bold" text-anchor="end" textLength="13.0" lengthAdjust="spacingAndGlyphs" stroke="#000" stroke-width="0.25">1.0</text>
<line x1="340.40" y1="520.5" x2="340.40" y2="524.5" stroke="#6a6a6a" stroke-width="1.2"/>
<text x="340.4" y="537.4" font-family="Liberation Sans" font-size="10" font-weight="bold" text-anchor="middle" textLength="4.8" lengthAdjust="spacingAndGlyphs" stroke="#000" stroke-width="0.25">0</text>
<line x1="378.75" y1="520.5" x2="378.75" y2="524.5" stroke="#6a6a6a" stroke-width="1.2"/>
<text x="378.75" y="537.4" font-family="Liberation Sans" font-size="10" font-weight="bold" text-anchor="middle" textLength="4.8" lengthAdjust="spacingAndGlyphs" stroke="#000" stroke-width="0.25">1</text>
<line x1="417.10" y1="520.5" x2="417.10" y2="524.5" stroke="#6a6a6a" stroke-width="1.2"/>
<text x="417.1" y="537.4" font-family="Liberation Sans" font-size="10" font-weight="bold" text-anchor="middle" textLength="4.8" lengthAdjust="spacingAndGlyphs" stroke="#000" stroke-width="0.25">2</text>
<line x1="455.45" y1="520.5" x2="455.45" y2="524.5" stroke="#6a6a6a" stroke-width="1.2"/>
<text x="455.45" y="537.4" font-family="Liberation Sans" font-size="10" font-weight="bold" text-anchor="middle" textLength="4.8" lengthAdjust="spacingAndGlyphs" stroke="#000" stroke-width="0.25">3</text>
<line x1="493.80" y1="520.5" x2="493.80" y2="524.5" stroke="#6a6a6a" stroke-width="1.2"/>
<text x="493.8" y="537.4" font-family="Liberation Sans" font-size="10" font-weight="bold" text-anchor="middle" textLength="4.8" lengthAdjust="spacingAndGlyphs" stroke="#000" stroke-width="0.25">4</text>
<line x1="532.15" y1="520.5" x2="532.15" y2="524.5" stroke="#6a6a6a" stroke-width="1.2"/>
<text x="532.15" y="537.4" font-family="Liberation Sans" font-size="10" font-weight="bold" text-anchor="middle" textLength="4.8" lengthAdjust="spacingAndGlyphs" stroke="#000" stroke-width="0.25">5</text>
<text x="404.9" y="553.8" font-family="Liberation Sans" font-size="12.5" font-weight="bold" text-anchor="start" textLength="62.4" lengthAdjust="spacingAndGlyphs" stroke="#000" stroke-width="0.25">time, t (min)</text>
<text transform="translate(288.6,485.4) rotate(-90)" font-family="Liberation Sans" font-size="13" font-weight="bold" stroke="#000" stroke-width="0.25"><tspan textLength="151.2" lengthAdjust="spacingAndGlyphs">Relative crystallinity,X</tspan><tspan font-size="13" dy="3.8">t</tspan></text>
<path d="M340.40 501.50 L341.59 500.59 L342.79 499.73 L344.02 498.89 L345.35 498.04 L346.61 497.27 L347.89 496.53 L349.26 495.76 L350.57 495.06 L351.88 494.38 L353.20 493.71 L354.62 493.01 L355.95 492.36 L357.29 491.71 L358.71 491.03 L360.05 490.38 L361.39 489.73 L362.81 489.03 L364.13 488.36 L365.45 487.68 L366.77 486.99 L368.15 486.24 L369.44 485.51 L370.72 484.76 L372.06 483.94 L373.30 483.15 L374.52 482.33 L375.80 481.43 L376.98 480.55 L378.15 479.65 L379.28 478.71 L380.47 477.69 L381.57 476.71 L382.64 475.70 L383.77 474.60 L384.80 473.54 L385.81 472.46 L386.87 471.30 L387.84 470.18 L388.80 469.04 L389.74 467.89 L390.71 466.64 L391.61 465.46 L392.49 464.26 L393.40 462.97 L394.24 461.74 L395.07 460.50 L395.92 459.18 L396.71 457.92 L397.48 456.65 L398.23 455.38 L399.02 454.02 L399.74 452.73 L400.44 451.43 L401.17 450.05 L401.85 448.74 L402.51 447.42 L403.20 446.02 L403.83 444.69 L404.45 443.36 L405.06 442.02 L405.69 440.59 L406.28 439.24 L406.85 437.89 L407.45 436.44 L408.01 435.08 L408.55 433.71 L409.12 432.25 L409.65 430.87 L410.17 429.49 L410.69 428.11 L411.23 426.63 L411.73 425.24 L412.22 423.84 L412.74 422.36 L413.23 420.96 L413.71 419.56 L414.22 418.06 L414.69 416.66 L415.16 415.25 L415.63 413.84 L416.12 412.34 L416.59 410.92 L417.05 409.51 L417.55 408.00 L418.01 406.59 L418.48 405.17 L418.97 403.67 L419.44 402.25 L419.91 400.83 L420.39 399.41 L420.89 397.91 L421.37 396.49 L421.86 395.08 L422.38 393.58 L422.87 392.16 L423.37 390.75 L423.88 389.34 L424.42 387.85 L424.94 386.44 L425.47 385.04 L426.04 383.56 L426.59 382.16 L427.14 380.77 L427.74 379.30 L428.31 377.92 L428.89 376.55 L429.49 375.18 L430.13 373.74 L430.75 372.39 L431.38 371.05 L432.06 369.63 L432.72 368.30 L433.39 366.99 L434.12 365.60 L434.82 364.31 L435.53 363.03 L436.26 361.76 L437.06 360.43 L437.82 359.18 L438.60 357.95 L439.45 356.66 L440.26 355.46 L441.10 354.28 L442.00 353.04 L442.88 351.88 L443.77 350.75 L444.68 349.63 L445.68 348.46 L446.63 347.38 L447.61 346.32 L448.67 345.21 L449.70 344.19 L450.74 343.18 L451.88 342.14 L452.97 341.18 L454.09 340.25 L455.23 339.33 L456.48 338.39 L457.67 337.52 L458.89 336.67 L460.20 335.80 L461.46 334.99 L462.74 334.21 L464.11 333.39 L465.42 332.64 L466.74 331.91 L468.08 331.20 L469.51 330.45 L470.87 329.77 L472.23 329.10 L473.69 328.40 L475.07 327.76 L476.46 327.12 L477.93 326.46 L479.32 325.85 L480.71 325.25 L482.10 324.65 L483.57 324.03 L484.95 323.45 L486.33 322.88 L487.79 322.27 L489.15 321.71 L490.51 321.15 L491.96 320.56 L493.31 320.01 L494.66 319.46 L496.01 318.91 L497.45 318.32 L498.79 317.77 L500.14 317.22 L501.56 316.63 L502.91 316.07 L504.25 315.51 L505.68 314.91 L507.02 314.33 L508.37 313.76 L509.72 313.17 L511.15 312.54 L512.51 311.94 L513.86 311.33 L515.31 310.67 L516.67 310.04 L518.04 309.40 L519.50 308.70" fill="none" stroke="#000000" stroke-width="2.8" stroke-linejoin="round" stroke-linecap="round" opacity="1.0"/>
<circle cx="340.40" cy="501.50" r="2.20" fill="#fff" stroke="#606060" stroke-width="0.65"/>
<circle cx="344.64" cy="498.49" r="2.20" fill="#fff" stroke="#606060" stroke-width="0.65"/>
<circle cx="348.78" cy="496.03" r="2.20" fill="#fff" stroke="#606060" stroke-width="0.65"/>
<circle cx="352.87" cy="493.88" r="2.20" fill="#fff" stroke="#606060" stroke-width="0.65"/>
<circle cx="356.95" cy="491.87" r="2.20" fill="#fff" stroke="#606060" stroke-width="0.65"/>
<circle cx="360.97" cy="489.93" r="2.20" fill="#fff" stroke="#606060" stroke-width="0.65"/>
<circle cx="364.96" cy="487.94" r="2.20" fill="#fff" stroke="#606060" stroke-width="0.65"/>
<circle cx="368.96" cy="485.78" r="2.20" fill="#fff" stroke="#606060" stroke-width="0.65"/>
<circle cx="372.84" cy="483.45" r="2.20" fill="#fff" stroke="#606060" stroke-width="0.65"/>
<circle cx="376.77" cy="480.72" r="2.20" fill="#fff" stroke="#606060" stroke-width="0.65"/>
<circle cx="380.61" cy="477.57" r="2.20" fill="#fff" stroke="#606060" stroke-width="0.65"/>
<circle cx="384.35" cy="474.01" r="2.20" fill="#fff" stroke="#606060" stroke-width="0.65"/>
<circle cx="388.09" cy="469.90" r="2.20" fill="#fff" stroke="#606060" stroke-width="0.65"/>
<circle cx="391.77" cy="465.23" r="2.20" fill="#fff" stroke="#606060" stroke-width="0.65"/>
<circle cx="395.42" cy="459.96" r="2.20" fill="#fff" stroke="#606060" stroke-width="0.65"/>
<circle cx="398.97" cy="454.10" r="2.20" fill="#fff" stroke="#606060" stroke-width="0.65"/>
<circle cx="402.51" cy="447.42" r="2.20" fill="#fff" stroke="#606060" stroke-width="0.65"/>
<circle cx="405.91" cy="440.08" r="2.20" fill="#fff" stroke="#606060" stroke-width="0.65"/>
<circle cx="409.26" cy="431.90" r="2.20" fill="#fff" stroke="#606060" stroke-width="0.65"/>
<circle cx="412.50" cy="423.06" r="2.20" fill="#fff" stroke="#606060" stroke-width="0.65"/>
<circle cx="415.69" cy="413.66" r="2.20" fill="#fff" stroke="#606060" stroke-width="0.65"/>
<circle cx="418.80" cy="404.20" r="2.20" fill="#fff" stroke="#606060" stroke-width="0.65"/>
<circle cx="421.92" cy="394.90" r="2.20" fill="#fff" stroke="#606060" stroke-width="0.65"/>
<circle cx="425.08" cy="386.09" r="2.20" fill="#fff" stroke="#606060" stroke-width="0.65"/>
<circle cx="428.24" cy="378.09" r="2.20" fill="#fff" stroke="#606060" stroke-width="0.65"/>
<circle cx="431.42" cy="370.96" r="2.20" fill="#fff" stroke="#606060" stroke-width="0.65"/>
<circle cx="434.64" cy="364.63" r="2.20" fill="#fff" stroke="#606060" stroke-width="0.65"/>
<circle cx="437.87" cy="359.11" r="2.20" fill="#fff" stroke="#606060" stroke-width="0.65"/>
<circle cx="441.10" cy="354.28" r="2.20" fill="#fff" stroke="#606060" stroke-width="0.65"/>
<circle cx="444.34" cy="350.05" r="2.20" fill="#fff" stroke="#606060" stroke-width="0.65"/>
<circle cx="447.55" cy="346.38" r="2.20" fill="#fff" stroke="#606060" stroke-width="0.65"/>
<circle cx="450.74" cy="343.18" r="2.20" fill="#fff" stroke="#606060" stroke-width="0.65"/>
<circle cx="453.88" cy="340.42" r="2.20" fill="#fff" stroke="#606060" stroke-width="0.65"/>
<circle cx="457.07" cy="337.95" r="2.20" fill="#fff" stroke="#606060" stroke-width="0.65"/>
<circle cx="460.20" cy="335.80" r="2.20" fill="#fff" stroke="#606060" stroke-width="0.65"/>
<circle cx="463.30" cy="333.87" r="2.20" fill="#fff" stroke="#606060" stroke-width="0.65"/>
<circle cx="466.41" cy="332.09" r="2.20" fill="#fff" stroke="#606060" stroke-width="0.65"/>
<circle cx="469.51" cy="330.45" r="2.20" fill="#fff" stroke="#606060" stroke-width="0.65"/>
<circle cx="472.49" cy="328.97" r="2.20" fill="#fff" stroke="#606060" stroke-width="0.65"/>
<circle cx="475.51" cy="327.56" r="2.20" fill="#fff" stroke="#606060" stroke-width="0.65"/>
<circle cx="478.54" cy="326.19" r="2.20" fill="#fff" stroke="#606060" stroke-width="0.65"/>
<circle cx="481.49" cy="324.91" r="2.20" fill="#fff" stroke="#606060" stroke-width="0.65"/>
<circle cx="484.43" cy="323.67" r="2.20" fill="#fff" stroke="#606060" stroke-width="0.65"/>
<circle cx="487.27" cy="322.49" r="2.20" fill="#fff" stroke="#606060" stroke-width="0.65"/>
<circle cx="490.17" cy="321.29" r="2.20" fill="#fff" stroke="#606060" stroke-width="0.65"/>
<circle cx="493.06" cy="320.11" r="2.20" fill="#fff" stroke="#606060" stroke-width="0.65"/>
<circle cx="495.85" cy="318.98" r="2.20" fill="#fff" stroke="#606060" stroke-width="0.65"/>
<circle cx="498.71" cy="317.80" r="2.20" fill="#fff" stroke="#606060" stroke-width="0.65"/>
<circle cx="501.48" cy="316.66" r="2.20" fill="#fff" stroke="#606060" stroke-width="0.65"/>
<circle cx="504.17" cy="315.54" r="2.20" fill="#fff" stroke="#606060" stroke-width="0.65"/>
<circle cx="506.94" cy="314.37" r="2.20" fill="#fff" stroke="#606060" stroke-width="0.65"/>
<circle cx="509.63" cy="313.21" r="2.20" fill="#fff" stroke="#606060" stroke-width="0.65"/>
<circle cx="512.34" cy="312.02" r="2.20" fill="#fff" stroke="#606060" stroke-width="0.65"/>
<circle cx="514.97" cy="310.83" r="2.20" fill="#fff" stroke="#606060" stroke-width="0.65"/>
<circle cx="517.61" cy="309.60" r="2.20" fill="#fff" stroke="#606060" stroke-width="0.65"/>
<circle cx="519.50" cy="308.70" r="2.20" fill="#fff" stroke="#606060" stroke-width="0.65"/>
<path d="M340.40 501.50 L341.35 500.53 L342.38 499.52 L343.39 498.55 L344.48 497.53 L345.59 496.50 L346.67 495.52 L347.82 494.49 L348.92 493.50 L350.10 492.46 L351.28 491.41 L352.40 490.40 L353.59 489.33 L354.71 488.31 L355.89 487.22 L357.06 486.13 L358.16 485.07 L359.30 483.95 L360.37 482.87 L361.47 481.73 L362.54 480.57 L363.54 479.45 L364.56 478.25 L365.49 477.11 L366.45 475.88 L367.38 474.65 L368.24 473.46 L369.11 472.19 L369.91 470.98 L370.74 469.69 L371.53 468.39 L372.27 467.14 L373.01 465.82 L373.70 464.55 L374.41 463.20 L375.09 461.84 L375.72 460.55 L376.36 459.17 L376.95 457.86 L377.56 456.47 L378.15 455.07 L378.69 453.73 L379.24 452.31 L379.75 450.96 L380.27 449.54 L380.78 448.10 L381.25 446.73 L381.73 445.28 L382.17 443.90 L382.63 442.44 L383.07 440.98 L383.48 439.58 L383.89 438.10 L384.28 436.70 L384.68 435.21 L385.07 433.72 L385.43 432.30 L385.80 430.80 L386.14 429.38 L386.50 427.87 L386.85 426.36 L387.17 424.92 L387.51 423.41 L387.83 421.96 L388.16 420.44 L388.48 418.92 L388.78 417.47 L389.10 415.94 L389.40 414.49 L389.71 412.96 L390.02 411.42 L390.32 409.97 L390.63 408.43 L390.92 406.98 L391.23 405.44 L391.55 403.91 L391.85 402.45 L392.16 400.91 L392.47 399.45 L392.79 397.92 L393.12 396.39 L393.44 394.93 L393.77 393.40 L394.10 391.95 L394.45 390.42 L394.80 388.89 L395.15 387.45 L395.52 385.93 L395.87 384.49 L396.26 382.98 L396.65 381.47 L397.03 380.04 L397.44 378.55 L397.84 377.13 L398.27 375.64 L398.71 374.16 L399.13 372.76 L399.59 371.30 L400.04 369.91 L400.52 368.46 L401.01 367.01 L401.50 365.65 L402.01 364.22 L402.52 362.87 L403.06 361.46 L403.62 360.07 L404.17 358.75 L404.77 357.37 L405.36 356.08 L406.00 354.72 L406.68 353.39 L407.35 352.13 L408.09 350.82 L408.83 349.60 L409.65 348.32 L410.51 347.07 L411.37 345.89 L412.30 344.67 L413.22 343.53 L414.22 342.34 L415.25 341.17 L416.25 340.07 L417.32 338.93 L418.37 337.86 L419.48 336.76 L420.61 335.67 L421.69 334.64 L422.84 333.58 L423.95 332.59 L425.12 331.55 L426.30 330.53 L427.43 329.56 L428.63 328.56 L429.78 327.62 L430.99 326.63 L432.20 325.65 L433.36 324.73 L434.58 323.77 L435.74 322.85 L436.97 321.90 L438.20 320.94 L439.36 320.04 L440.59 319.09 L441.75 318.19 L442.97 317.24 L444.18 316.29 L445.33 315.39 L446.54 314.44 L447.68 313.53 L448.87 312.56 L450.06 311.60 L451.18 310.67 L452.34 309.69 L453.50 308.70" fill="none" stroke="#ff0000" stroke-width="2.8" stroke-linejoin="round" stroke-linecap="round" opacity="1.0"/>
<circle cx="340.40" cy="501.50" r="2.30" fill="#fff" stroke="#ff4040" stroke-width="0.65"/>
<circle cx="343.72" cy="498.24" r="2.30" fill="#fff" stroke="#ff4040" stroke-width="0.65"/>
<circle cx="347.01" cy="495.22" r="2.30" fill="#fff" stroke="#ff4040" stroke-width="0.65"/>
<circle cx="350.27" cy="492.30" r="2.30" fill="#fff" stroke="#ff4040" stroke-width="0.65"/>
<circle cx="353.47" cy="489.44" r="2.30" fill="#fff" stroke="#ff4040" stroke-width="0.65"/>
<circle cx="356.65" cy="486.51" r="2.30" fill="#fff" stroke="#ff4040" stroke-width="0.65"/>
<circle cx="359.81" cy="483.44" r="2.30" fill="#fff" stroke="#ff4040" stroke-width="0.65"/>
<circle cx="362.91" cy="480.15" r="2.30" fill="#fff" stroke="#ff4040" stroke-width="0.65"/>
<circle cx="365.98" cy="476.50" r="2.30" fill="#fff" stroke="#ff4040" stroke-width="0.65"/>
<circle cx="368.98" cy="472.38" r="2.30" fill="#fff" stroke="#ff4040" stroke-width="0.65"/>
<circle cx="371.84" cy="467.86" r="2.30" fill="#fff" stroke="#ff4040" stroke-width="0.65"/>
<circle cx="374.68" cy="462.66" r="2.30" fill="#fff" stroke="#ff4040" stroke-width="0.65"/>
<circle cx="377.38" cy="456.88" r="2.30" fill="#fff" stroke="#ff4040" stroke-width="0.65"/>
<circle cx="379.94" cy="450.47" r="2.30" fill="#fff" stroke="#ff4040" stroke-width="0.65"/>
<circle cx="382.38" cy="443.25" r="2.30" fill="#fff" stroke="#ff4040" stroke-width="0.65"/>
<circle cx="384.62" cy="435.43" r="2.30" fill="#fff" stroke="#ff4040" stroke-width="0.65"/>
<circle cx="386.71" cy="426.96" r="2.30" fill="#fff" stroke="#ff4040" stroke-width="0.65"/>
<circle cx="388.66" cy="418.08" r="2.30" fill="#fff" stroke="#ff4040" stroke-width="0.65"/>
<circle cx="390.50" cy="409.05" r="2.30" fill="#fff" stroke="#ff4040" stroke-width="0.65"/>
<circle cx="392.36" cy="399.99" r="2.30" fill="#fff" stroke="#ff4040" stroke-width="0.65"/>
<circle cx="394.26" cy="391.26" r="2.30" fill="#fff" stroke="#ff4040" stroke-width="0.65"/>
<circle cx="396.26" cy="382.98" r="2.30" fill="#fff" stroke="#ff4040" stroke-width="0.65"/>
<circle cx="398.38" cy="375.27" r="2.30" fill="#fff" stroke="#ff4040" stroke-width="0.65"/>
<circle cx="400.59" cy="368.24" r="2.30" fill="#fff" stroke="#ff4040" stroke-width="0.65"/>
<circle cx="402.90" cy="361.89" r="2.30" fill="#fff" stroke="#ff4040" stroke-width="0.65"/>
<circle cx="405.33" cy="356.14" r="2.30" fill="#fff" stroke="#ff4040" stroke-width="0.65"/>
<circle cx="407.79" cy="351.35" r="2.30" fill="#fff" stroke="#ff4040" stroke-width="0.65"/>
<circle cx="410.34" cy="347.32" r="2.30" fill="#fff" stroke="#ff4040" stroke-width="0.65"/>
<circle cx="412.93" cy="343.89" r="2.30" fill="#fff" stroke="#ff4040" stroke-width="0.65"/>
<circle cx="415.51" cy="340.88" r="2.30" fill="#fff" stroke="#ff4040" stroke-width="0.65"/>
<circle cx="418.09" cy="338.14" r="2.30" fill="#fff" stroke="#ff4040" stroke-width="0.65"/>
<circle cx="420.66" cy="335.61" r="2.30" fill="#fff" stroke="#ff4040" stroke-width="0.65"/>
<circle cx="423.25" cy="333.21" r="2.30" fill="#fff" stroke="#ff4040" stroke-width="0.65"/>
<circle cx="425.77" cy="330.98" r="2.30" fill="#fff" stroke="#ff4040" stroke-width="0.65"/>
<circle cx="428.27" cy="328.86" r="2.30" fill="#fff" stroke="#ff4040" stroke-width="0.65"/>
<circle cx="430.74" cy="326.83" r="2.30" fill="#fff" stroke="#ff4040" stroke-width="0.65"/>
<circle cx="433.24" cy="324.83" r="2.30" fill="#fff" stroke="#ff4040" stroke-width="0.65"/>
<circle cx="435.68" cy="322.90" r="2.30" fill="#fff" stroke="#ff4040" stroke-width="0.65"/>
<circle cx="438.13" cy="320.99" r="2.30" fill="#fff" stroke="#ff4040" stroke-width="0.65"/>
<circle cx="440.52" cy="319.14" r="2.30" fill="#fff" stroke="#ff4040" stroke-width="0.65"/>
<circle cx="442.91" cy="317.29" r="2.30" fill="#fff" stroke="#ff4040" stroke-width="0.65"/>
<circle cx="445.27" cy="315.44" r="2.30" fill="#fff" stroke="#ff4040" stroke-width="0.65"/>
<circle cx="447.62" cy="313.57" r="2.30" fill="#fff" stroke="#ff4040" stroke-width="0.65"/>
<circle cx="449.88" cy="311.74" r="2.30" fill="#fff" stroke="#ff4040" stroke-width="0.65"/>
<circle cx="452.17" cy="309.84" r="2.30" fill="#fff" stroke="#ff4040" stroke-width="0.65"/>
<circle cx="453.50" cy="308.70" r="2.30" fill="#fff" stroke="#ff4040" stroke-width="0.65"/>
<path d="M340.40 501.50 L341.26 500.44 L342.19 499.32 L343.12 498.19 L344.06 497.05 L345.01 495.89 L345.97 494.73 L346.93 493.55 L347.89 492.37 L348.86 491.17 L349.82 489.96 L350.77 488.75 L351.72 487.52 L352.66 486.29 L353.58 485.04 L354.50 483.79 L355.40 482.52 L356.28 481.25 L357.14 479.97 L357.99 478.68 L358.80 477.38 L359.59 476.08 L360.36 474.76 L361.10 473.44 L361.82 472.11 L362.52 470.77 L363.19 469.43 L363.84 468.07 L364.47 466.72 L365.08 465.35 L365.67 463.98 L366.24 462.60 L366.79 461.21 L367.32 459.82 L367.83 458.42 L368.33 457.02 L368.79 455.68 L369.26 454.26 L369.71 452.84 L370.15 451.42 L370.58 449.99 L370.99 448.55 L371.39 447.11 L371.78 445.67 L372.16 444.22 L372.53 442.77 L372.88 441.31 L373.23 439.85 L373.57 438.39 L373.89 436.92 L374.21 435.45 L374.52 433.97 L374.83 432.50 L375.13 431.02 L375.42 429.54 L375.70 428.05 L375.98 426.56 L376.25 425.07 L376.52 423.58 L376.78 422.09 L377.04 420.60 L377.30 419.10 L377.55 417.60 L377.81 416.10 L378.06 414.61 L378.30 413.10 L378.55 411.60 L378.80 410.10 L379.05 408.60 L379.29 407.10 L379.54 405.60 L379.79 404.10 L380.03 402.67 L380.29 401.17 L380.55 399.67 L380.81 398.17 L381.07 396.67 L381.34 395.18 L381.61 393.68 L381.89 392.19 L382.18 390.70 L382.47 389.21 L382.76 387.72 L383.07 386.24 L383.38 384.75 L383.70 383.28 L384.03 381.80 L384.37 380.32 L384.71 378.85 L385.07 377.39 L385.44 375.92 L385.82 374.46 L386.21 373.00 L386.61 371.55 L387.02 370.10 L387.45 368.66 L387.89 367.22 L388.35 365.78 L388.82 364.35 L389.30 362.93 L389.80 361.51 L390.31 360.09 L390.84 358.68 L391.39 357.28 L391.96 355.88 L392.54 354.49 L393.14 353.11 L393.76 351.73 L394.37 350.42 L395.03 349.05 L395.70 347.70 L396.40 346.34 L397.12 345.00 L397.85 343.66 L398.61 342.33 L399.38 341.01 L400.17 339.69 L400.97 338.39 L401.79 337.09 L402.62 335.80 L403.47 334.52 L404.34 333.24 L405.21 331.98 L406.10 330.73 L407.00 329.48 L407.92 328.24 L408.84 327.02 L409.77 325.80 L410.72 324.60 L411.67 323.40 L412.63 322.21 L413.60 321.04 L414.57 319.87 L415.55 318.72 L416.54 317.57 L417.54 316.44 L418.53 315.32 L419.54 314.21 L420.54 313.11 L421.55 312.03 L422.56 310.95 L423.57 309.89 L424.59 308.84 L425.60 307.80" fill="none" stroke="#0000ff" stroke-width="2.8" stroke-linejoin="round" stroke-linecap="round" opacity="1.0"/>
<path d="M340.40 498.85L343.02 503.26L337.77 503.26Z" fill="#fff" stroke="#4848ff" stroke-width="0.65" stroke-linejoin="round"/>
<path d="M343.34 495.27L345.97 499.68L340.72 499.68Z" fill="#fff" stroke="#4848ff" stroke-width="0.65" stroke-linejoin="round"/>
<path d="M346.24 491.75L348.87 496.16L343.62 496.16Z" fill="#fff" stroke="#4848ff" stroke-width="0.65" stroke-linejoin="round"/>
<path d="M349.18 488.12L351.80 492.53L346.55 492.53Z" fill="#fff" stroke="#4848ff" stroke-width="0.65" stroke-linejoin="round"/>
<path d="M352.03 484.46L354.66 488.87L349.41 488.87Z" fill="#fff" stroke="#4848ff" stroke-width="0.65" stroke-linejoin="round"/>
<path d="M354.89 480.60L357.51 485.01L352.26 485.01Z" fill="#fff" stroke="#4848ff" stroke-width="0.65" stroke-linejoin="round"/>
<path d="M357.71 476.46L360.33 480.87L355.08 480.87Z" fill="#fff" stroke="#4848ff" stroke-width="0.65" stroke-linejoin="round"/>
<path d="M360.47 471.93L363.09 476.34L357.84 476.34Z" fill="#fff" stroke="#4848ff" stroke-width="0.65" stroke-linejoin="round"/>
<path d="M363.19 466.78L365.81 471.19L360.56 471.19Z" fill="#fff" stroke="#4848ff" stroke-width="0.65" stroke-linejoin="round"/>
<path d="M365.86 460.87L368.48 465.28L363.23 465.28Z" fill="#fff" stroke="#4848ff" stroke-width="0.65" stroke-linejoin="round"/>
<path d="M368.43 454.10L371.05 458.51L365.80 458.51Z" fill="#fff" stroke="#4848ff" stroke-width="0.65" stroke-linejoin="round"/>
<path d="M370.89 446.25L373.52 450.66L368.27 450.66Z" fill="#fff" stroke="#4848ff" stroke-width="0.65" stroke-linejoin="round"/>
<path d="M373.21 437.27L375.84 441.68L370.59 441.68Z" fill="#fff" stroke="#4848ff" stroke-width="0.65" stroke-linejoin="round"/>
<path d="M375.35 427.24L377.97 431.65L372.72 431.65Z" fill="#fff" stroke="#4848ff" stroke-width="0.65" stroke-linejoin="round"/>
<path d="M377.32 416.31L379.95 420.72L374.70 420.72Z" fill="#fff" stroke="#4848ff" stroke-width="0.65" stroke-linejoin="round"/>
<path d="M379.21 404.95L381.84 409.36L376.59 409.36Z" fill="#fff" stroke="#4848ff" stroke-width="0.65" stroke-linejoin="round"/>
<path d="M381.12 393.74L383.75 398.15L378.50 398.15Z" fill="#fff" stroke="#4848ff" stroke-width="0.65" stroke-linejoin="round"/>
<path d="M383.14 383.24L385.77 387.65L380.52 387.65Z" fill="#fff" stroke="#4848ff" stroke-width="0.65" stroke-linejoin="round"/>
<path d="M385.30 373.83L387.92 378.24L382.67 378.24Z" fill="#fff" stroke="#4848ff" stroke-width="0.65" stroke-linejoin="round"/>
<path d="M387.60 365.53L390.22 369.94L384.97 369.94Z" fill="#fff" stroke="#4848ff" stroke-width="0.65" stroke-linejoin="round"/>
<path d="M389.99 358.32L392.62 362.73L387.37 362.73Z" fill="#fff" stroke="#4848ff" stroke-width="0.65" stroke-linejoin="round"/>
<path d="M392.46 352.04L395.08 356.45L389.83 356.45Z" fill="#fff" stroke="#4848ff" stroke-width="0.65" stroke-linejoin="round"/>
<path d="M394.96 346.54L397.59 350.95L392.34 350.95Z" fill="#fff" stroke="#4848ff" stroke-width="0.65" stroke-linejoin="round"/>
<path d="M397.50 341.65L400.13 346.06L394.88 346.06Z" fill="#fff" stroke="#4848ff" stroke-width="0.65" stroke-linejoin="round"/>
<path d="M400.05 337.23L402.68 341.64L397.43 341.64Z" fill="#fff" stroke="#4848ff" stroke-width="0.65" stroke-linejoin="round"/>
<path d="M402.58 333.21L405.21 337.62L399.96 337.62Z" fill="#fff" stroke="#4848ff" stroke-width="0.65" stroke-linejoin="round"/>
<path d="M405.13 329.45L407.75 333.86L402.50 333.86Z" fill="#fff" stroke="#4848ff" stroke-width="0.65" stroke-linejoin="round"/>
<path d="M407.70 325.89L410.32 330.30L405.07 330.30Z" fill="#fff" stroke="#4848ff" stroke-width="0.65" stroke-linejoin="round"/>
<path d="M410.22 322.58L412.85 326.99L407.60 326.99Z" fill="#fff" stroke="#4848ff" stroke-width="0.65" stroke-linejoin="round"/>
<path d="M412.72 319.45L415.35 323.86L410.10 323.86Z" fill="#fff" stroke="#4848ff" stroke-width="0.65" stroke-linejoin="round"/>
<path d="M415.27 316.40L417.90 320.81L412.65 320.81Z" fill="#fff" stroke="#4848ff" stroke-width="0.65" stroke-linejoin="round"/>
<path d="M417.77 313.53L420.40 317.94L415.15 317.94Z" fill="#fff" stroke="#4848ff" stroke-width="0.65" stroke-linejoin="round"/>
<path d="M420.25 310.78L422.88 315.19L417.63 315.19Z" fill="#fff" stroke="#4848ff" stroke-width="0.65" stroke-linejoin="round"/>
<path d="M422.75 308.10L425.38 312.51L420.13 312.51Z" fill="#fff" stroke="#4848ff" stroke-width="0.65" stroke-linejoin="round"/>
<path d="M425.21 305.55L427.84 309.96L422.59 309.96Z" fill="#fff" stroke="#4848ff" stroke-width="0.65" stroke-linejoin="round"/>
<path d="M340.40 501.50 L341.24 500.32 L342.11 499.13 L343.03 497.87 L343.92 496.67 L344.85 495.39 L345.75 494.16 L346.64 492.93 L347.57 491.62 L348.45 490.37 L349.35 489.05 L350.19 487.78 L351.05 486.44 L351.83 485.15 L352.59 483.85 L353.35 482.49 L354.03 481.18 L354.71 479.80 L355.32 478.48 L355.93 477.08 L356.48 475.74 L357.01 474.40 L357.53 472.98 L358.00 471.62 L358.47 470.19 L358.90 468.82 L359.31 467.44 L359.73 465.99 L360.10 464.61 L360.49 463.15 L360.84 461.75 L361.19 460.27 L361.53 458.87 L361.85 457.45 L362.19 455.96 L362.51 454.54 L362.84 453.04 L363.14 451.61 L363.46 450.11 L363.76 448.67 L364.06 447.22 L364.37 445.70 L364.66 444.25 L364.96 442.73 L365.24 441.27 L365.52 439.81 L365.81 438.28 L366.09 436.81 L366.37 435.27 L366.64 433.80 L366.92 432.25 L367.19 430.78 L367.45 429.30 L367.73 427.75 L367.99 426.27 L368.26 424.72 L368.52 423.23 L368.79 421.68 L369.04 420.19 L369.30 418.71 L369.56 417.15 L369.81 415.66 L370.08 414.10 L370.33 412.61 L370.58 411.12 L370.85 409.56 L371.10 408.08 L371.36 406.52 L371.61 405.03 L371.88 403.47 L372.14 401.99 L372.39 400.50 L372.67 398.95 L372.93 397.47 L373.20 395.92 L373.47 394.44 L373.76 392.89 L374.03 391.42 L374.31 389.95 L374.61 388.41 L374.90 386.94 L375.20 385.41 L375.50 383.94 L375.81 382.49 L376.13 380.96 L376.45 379.51 L376.79 377.99 L377.12 376.54 L377.48 375.03 L377.82 373.60 L378.18 372.16 L378.56 370.66 L378.93 369.24 L379.33 367.75 L379.73 366.33 L380.15 364.86 L380.56 363.45 L380.98 362.05 L381.43 360.59 L381.88 359.20 L382.36 357.75 L382.83 356.37 L383.31 354.99 L383.82 353.56 L384.33 352.20 L384.87 350.78 L385.41 349.44 L385.98 348.03 L386.54 346.70 L387.12 345.37 L387.74 343.99 L388.34 342.67 L388.99 341.31 L389.63 340.01 L390.32 338.66 L390.99 337.38 L391.68 336.11 L392.42 334.78 L393.14 333.52 L393.92 332.22 L394.68 330.98 L395.46 329.75 L396.29 328.47 L397.11 327.26 L397.99 326.00 L398.85 324.80 L399.77 323.57 L400.66 322.39 L401.58 321.23 L402.57 320.02 L403.53 318.88 L404.56 317.69 L405.57 316.57 L406.65 315.41 L407.71 314.31 L408.78 313.22 L409.94 312.09 L411.06 311.03 L412.27 309.92 L413.44 308.88 L414.70 307.80" fill="none" stroke="#127f7c" stroke-width="2.8" stroke-linejoin="round" stroke-linecap="round" opacity="1.0"/>
<path d="M340.40 504.15L343.02 499.74L337.77 499.74Z" fill="#fff" stroke="#4c9e9b" stroke-width="0.65" stroke-linejoin="round"/>
<path d="M343.62 499.72L346.24 495.31L340.99 495.31Z" fill="#fff" stroke="#4c9e9b" stroke-width="0.65" stroke-linejoin="round"/>
<path d="M346.77 495.39L349.39 490.98L344.14 490.98Z" fill="#fff" stroke="#4c9e9b" stroke-width="0.65" stroke-linejoin="round"/>
<path d="M349.91 490.85L352.54 486.44L347.29 486.44Z" fill="#fff" stroke="#4c9e9b" stroke-width="0.65" stroke-linejoin="round"/>
<path d="M353.01 485.76L355.63 481.35L350.38 481.35Z" fill="#fff" stroke="#4c9e9b" stroke-width="0.65" stroke-linejoin="round"/>
<path d="M356.06 479.41L358.69 475.00L353.44 475.00Z" fill="#fff" stroke="#4c9e9b" stroke-width="0.65" stroke-linejoin="round"/>
<path d="M359.10 470.81L361.73 466.40L356.48 466.40Z" fill="#fff" stroke="#4c9e9b" stroke-width="0.65" stroke-linejoin="round"/>
<path d="M362.10 459.02L364.72 454.61L359.47 454.61Z" fill="#fff" stroke="#4c9e9b" stroke-width="0.65" stroke-linejoin="round"/>
<path d="M365.07 444.82L367.69 440.41L362.44 440.41Z" fill="#fff" stroke="#4c9e9b" stroke-width="0.65" stroke-linejoin="round"/>
<path d="M368.00 428.85L370.63 424.44L365.38 424.44Z" fill="#fff" stroke="#4c9e9b" stroke-width="0.65" stroke-linejoin="round"/>
<path d="M370.89 411.93L373.52 407.52L368.27 407.52Z" fill="#fff" stroke="#4c9e9b" stroke-width="0.65" stroke-linejoin="round"/>
<path d="M373.77 395.47L376.39 391.06L371.14 391.06Z" fill="#fff" stroke="#4c9e9b" stroke-width="0.65" stroke-linejoin="round"/>
<path d="M376.62 381.39L379.24 376.98L373.99 376.98Z" fill="#fff" stroke="#4c9e9b" stroke-width="0.65" stroke-linejoin="round"/>
<path d="M379.43 370.06L382.05 365.65L376.80 365.65Z" fill="#fff" stroke="#4c9e9b" stroke-width="0.65" stroke-linejoin="round"/>
<path d="M382.20 360.85L384.83 356.44L379.58 356.44Z" fill="#fff" stroke="#4c9e9b" stroke-width="0.65" stroke-linejoin="round"/>
<path d="M384.95 353.24L387.57 348.83L382.32 348.83Z" fill="#fff" stroke="#4c9e9b" stroke-width="0.65" stroke-linejoin="round"/>
<path d="M387.68 346.76L390.30 342.35L385.05 342.35Z" fill="#fff" stroke="#4c9e9b" stroke-width="0.65" stroke-linejoin="round"/>
<path d="M390.38 341.18L393.01 336.77L387.76 336.77Z" fill="#fff" stroke="#4c9e9b" stroke-width="0.65" stroke-linejoin="round"/>
<path d="M393.04 336.35L395.66 331.94L390.41 331.94Z" fill="#fff" stroke="#4c9e9b" stroke-width="0.65" stroke-linejoin="round"/>
<path d="M395.68 332.04L398.31 327.63L393.06 327.63Z" fill="#fff" stroke="#4c9e9b" stroke-width="0.65" stroke-linejoin="round"/>
<path d="M398.27 328.24L400.90 323.83L395.65 323.83Z" fill="#fff" stroke="#4c9e9b" stroke-width="0.65" stroke-linejoin="round"/>
<path d="M400.84 324.82L403.46 320.41L398.21 320.41Z" fill="#fff" stroke="#4c9e9b" stroke-width="0.65" stroke-linejoin="round"/>
<path d="M403.39 321.69L406.02 317.28L400.77 317.28Z" fill="#fff" stroke="#4c9e9b" stroke-width="0.65" stroke-linejoin="round"/>
<path d="M405.91 318.85L408.54 314.44L403.29 314.44Z" fill="#fff" stroke="#4c9e9b" stroke-width="0.65" stroke-linejoin="round"/>
<path d="M408.42 316.23L411.05 311.82L405.80 311.82Z" fill="#fff" stroke="#4c9e9b" stroke-width="0.65" stroke-linejoin="round"/>
<path d="M410.90 313.82L413.53 309.41L408.28 309.41Z" fill="#fff" stroke="#4c9e9b" stroke-width="0.65" stroke-linejoin="round"/>
<path d="M413.33 311.62L415.96 307.21L410.71 307.21Z" fill="#fff" stroke="#4c9e9b" stroke-width="0.65" stroke-linejoin="round"/>
<path d="M414.70 310.45L417.33 306.04L412.08 306.04Z" fill="#fff" stroke="#4c9e9b" stroke-width="0.65" stroke-linejoin="round"/>
<rect x="324.40000000000003" y="285.20000000000005" width="73.90" height="31.00" fill="#fff" stroke="#000" stroke-width="2.2"/>
<text x="331.6" y="307.7" font-family="Liberation Sans" font-size="16.6" font-weight="normal" text-anchor="start" textLength="57.6" lengthAdjust="spacingAndGlyphs" stroke="#000" stroke-width="0.35">PPCS-2:1</text>
<rect x="461.1" y="350.1" width="70.10" height="59.50" fill="#fff" stroke="#c4c4c4" stroke-width="1"/>
<line x1="463.5" y1="358.1" x2="481" y2="358.1" stroke="#000000" stroke-width="4" stroke-linecap="round"/>
<circle cx="472.25" cy="358.10" r="2.30" fill="#fff" stroke="#606060" stroke-width="0.8"/>
<text x="484.2" y="361.8" font-family="Liberation Sans" font-size="10.4" font-weight="bold" text-anchor="start" textLength="43.4" lengthAdjust="spacingAndGlyphs" stroke="#000" stroke-width="0.25">5°C / min.</text>
<line x1="463.5" y1="372.9" x2="481" y2="372.9" stroke="#ff0000" stroke-width="4" stroke-linecap="round"/>
<circle cx="472.25" cy="372.90" r="2.30" fill="#fff" stroke="#ff4040" stroke-width="0.8"/>
<text x="484.2" y="376.6" font-family="Liberation Sans" font-size="10.4" font-weight="bold" text-anchor="start" textLength="43.4" lengthAdjust="spacingAndGlyphs" stroke="#000" stroke-width="0.25">10°C/min.</text>
<line x1="463.5" y1="387.7" x2="481" y2="387.7" stroke="#0000ff" stroke-width="4" stroke-linecap="round"/>
<path d="M472.25 384.80L475.12 389.63L469.38 389.63Z" fill="#fff" stroke="#4848ff" stroke-width="0.8" stroke-linejoin="round"/>
<text x="484.2" y="391.4" font-family="Liberation Sans" font-size="10.4" font-weight="bold" text-anchor="start" textLength="43.4" lengthAdjust="spacingAndGlyphs" stroke="#000" stroke-width="0.25">15°C/min.</text>
<line x1="463.5" y1="402.5" x2="481" y2="402.5" stroke="#127f7c" stroke-width="4" stroke-linecap="round"/>
<path d="M472.25 405.40L475.12 400.57L469.38 400.57Z" fill="#fff" stroke="#4c9e9b" stroke-width="0.8" stroke-linejoin="round"/>
<text x="484.2" y="406.2" font-family="Liberation Sans" font-size="10.4" font-weight="bold" text-anchor="start" textLength="43.4" lengthAdjust="spacingAndGlyphs" stroke="#000" stroke-width="0.25">20°C/min.</text>
<path d="M592.8 300 V512 H813" fill="none" stroke="#6a6a6a" stroke-width="1.3"/>
<line x1="589.0" y1="492.50" x2="592.8" y2="492.50" stroke="#6a6a6a" stroke-width="1.2"/>
<text x="587" y="496.1" font-family="Liberation Sans" font-size="10" font-weight="bold" text-anchor="end" textLength="13.0" lengthAdjust="spacingAndGlyphs" stroke="#000" stroke-width="0.25">0.0</text>
<line x1="589.0" y1="453.88" x2="592.8" y2="453.88" stroke="#6a6a6a" stroke-width="1.2"/>
<text x="587" y="457.48" font-family="Liberation Sans" font-size="10" font-weight="bold" text-anchor="end" textLength="13.0" lengthAdjust="spacingAndGlyphs" stroke="#000" stroke-width="0.25">0.2</text>
<line x1="589.0" y1="415.26" x2="592.8" y2="415.26" stroke="#6a6a6a" stroke-width="1.2"/>
<text x="587" y="418.86" font-family="Liberation Sans" font-size="10" font-weight="bold" text-anchor="end" textLength="13.0" lengthAdjust="spacingAndGlyphs" stroke="#000" stroke-width="0.25">0.4</text>
<line x1="589.0" y1="376.64" x2="592.8" y2="376.64" stroke="#6a6a6a" stroke-width="1.2"/>
<text x="587" y="380.24" font-family="Liberation Sans" font-size="10" font-weight="bold" text-anchor="end" textLength="13.0" lengthAdjust="spacingAndGlyphs" stroke="#000" stroke-width="0.25">0.6</text>
<line x1="589.0" y1="338.02" x2="592.8" y2="338.02" stroke="#6a6a6a" stroke-width="1.2"/>
<text x="587" y="341.62" font-family="Liberation Sans" font-size="10" font-weight="bold" text-anchor="end" textLength="13.0" lengthAdjust="spacingAndGlyphs" stroke="#000" stroke-width="0.25">0.8</text>
<line x1="589.0" y1="299.40" x2="592.8" y2="299.40" stroke="#6a6a6a" stroke-width="1.2"/>
<line x1="611.50" y1="512" x2="611.50" y2="516" stroke="#6a6a6a" stroke-width="1.2"/>
<text x="611.5" y="529.3" font-family="Liberation Sans" font-size="10" font-weight="bold" text-anchor="middle" textLength="4.8" lengthAdjust="spacingAndGlyphs" stroke="#000" stroke-width="0.25">0</text>
<line x1="649.35" y1="512" x2="649.35" y2="516" stroke="#6a6a6a" stroke-width="1.2"/>
<text x="649.35" y="529.3" font-family="Liberation Sans" font-size="10" font-weight="bold" text-anchor="middle" textLength="4.8" lengthAdjust="spacingAndGlyphs" stroke="#000" stroke-width="0.25">1</text>
<line x1="687.20" y1="512" x2="687.20" y2="516" stroke="#6a6a6a" stroke-width="1.2"/>
<text x="687.2" y="529.3" font-family="Liberation Sans" font-size="10" font-weight="bold" text-anchor="middle" textLength="4.8" lengthAdjust="spacingAndGlyphs" stroke="#000" stroke-width="0.25">2</text>
<line x1="725.05" y1="512" x2="725.05" y2="516" stroke="#6a6a6a" stroke-width="1.2"/>
<text x="725.05" y="529.3" font-family="Liberation Sans" font-size="10" font-weight="bold" text-anchor="middle" textLength="4.8" lengthAdjust="spacingAndGlyphs" stroke="#000" stroke-width="0.25">3</text>
<line x1="762.90" y1="512" x2="762.90" y2="516" stroke="#6a6a6a" stroke-width="1.2"/>
<text x="762.9" y="529.3" font-family="Liberation Sans" font-size="10" font-weight="bold" text-anchor="middle" textLength="4.8" lengthAdjust="spacingAndGlyphs" stroke="#000" stroke-width="0.25">4</text>
<line x1="800.75" y1="512" x2="800.75" y2="516" stroke="#6a6a6a" stroke-width="1.2"/>
<text x="800.75" y="529.3" font-family="Liberation Sans" font-size="10" font-weight="bold" text-anchor="middle" textLength="4.8" lengthAdjust="spacingAndGlyphs" stroke="#000" stroke-width="0.25">5</text>
<text x="672.6" y="547.5" font-family="Liberation Sans" font-size="12.5" font-weight="bold" text-anchor="start" textLength="62.1" lengthAdjust="spacingAndGlyphs" stroke="#000" stroke-width="0.25">time, t (min)</text>
<text transform="translate(559.6,481.4) rotate(-90)" font-family="Liberation Sans" font-size="13" font-weight="bold" stroke="#000" stroke-width="0.25"><tspan textLength="149.9" lengthAdjust="spacingAndGlyphs">Relative crystallinity,X</tspan><tspan font-size="13" dy="3.8">t</tspan></text>
<path d="M610.50 493.00 L611.85 492.45 L613.21 491.89 L614.56 491.31 L615.91 490.72 L617.35 490.08 L618.71 489.47 L620.06 488.85 L621.41 488.21 L622.75 487.56 L624.18 486.85 L625.52 486.18 L626.86 485.49 L628.19 484.79 L629.52 484.07 L630.93 483.30 L632.25 482.56 L633.56 481.81 L634.86 481.04 L636.24 480.21 L637.52 479.42 L638.80 478.61 L640.08 477.80 L641.34 476.96 L642.67 476.07 L643.91 475.21 L645.14 474.34 L646.36 473.45 L647.57 472.56 L648.84 471.59 L650.02 470.67 L651.19 469.73 L652.34 468.78 L653.48 467.81 L654.68 466.78 L655.79 465.79 L656.88 464.78 L657.96 463.76 L659.09 462.67 L660.13 461.62 L661.16 460.56 L662.17 459.49 L663.16 458.40 L664.19 457.24 L665.13 456.12 L666.06 454.99 L666.97 453.85 L667.86 452.70 L668.78 451.46 L669.62 450.27 L670.44 449.08 L671.24 447.87 L672.01 446.64 L672.81 445.33 L673.54 444.08 L674.25 442.81 L674.93 441.54 L675.64 440.17 L676.29 438.87 L676.93 437.56 L677.54 436.24 L678.14 434.90 L678.76 433.48 L679.33 432.13 L679.89 430.76 L680.43 429.39 L680.96 428.02 L681.51 426.54 L682.02 425.15 L682.52 423.74 L683.00 422.33 L683.48 420.92 L683.99 419.40 L684.45 417.98 L684.91 416.54 L685.36 415.10 L685.84 413.56 L686.28 412.11 L686.72 410.66 L687.16 409.20 L687.60 407.74 L688.06 406.18 L688.49 404.72 L688.92 403.25 L689.35 401.77 L689.78 400.30 L690.23 398.73 L690.66 397.26 L691.08 395.78 L691.50 394.30 L691.93 392.83 L692.37 391.26 L692.79 389.78 L693.21 388.31 L693.63 386.83 L694.08 385.27 L694.50 383.81 L694.93 382.34 L695.36 380.88 L695.79 379.43 L696.26 377.89 L696.70 376.44 L697.15 375.00 L697.61 373.57 L698.08 372.14 L698.58 370.64 L699.07 369.23 L699.57 367.83 L700.07 366.44 L700.59 365.06 L701.16 363.60 L701.71 362.24 L702.27 360.89 L702.85 359.55 L703.48 358.14 L704.09 356.83 L704.71 355.53 L705.36 354.25 L706.03 352.98 L706.75 351.65 L707.46 350.41 L708.19 349.19 L708.94 347.98 L709.71 346.79 L710.56 345.55 L711.38 344.39 L712.23 343.26 L713.11 342.15 L714.01 341.05 L715.00 339.91 L715.95 338.86 L716.94 337.82 L717.96 336.81 L719.08 335.76 L720.16 334.80 L721.27 333.86 L722.41 332.94 L723.58 332.04 L724.85 331.10 L726.07 330.24 L727.31 329.40 L728.57 328.58 L729.86 327.77 L731.24 326.93 L732.56 326.16 L733.89 325.40 L735.24 324.65 L736.60 323.92 L738.06 323.16 L739.44 322.45 L740.83 321.76 L742.22 321.07 L743.71 320.35 L745.11 319.69 L746.52 319.03 L747.92 318.38 L749.32 317.74 L750.81 317.06 L752.21 316.43 L753.61 315.80 L755.00 315.18 L756.39 314.56 L757.86 313.90 L759.24 313.28 L760.62 312.67 L761.99 312.05 L763.36 311.44 L764.81 310.78 L766.17 310.16 L767.52 309.54 L768.87 308.91 L770.30 308.24 L771.64 307.60 L772.97 306.96 L774.29 306.31 L775.61 305.66 L777.00 304.95 L778.30 304.28 L779.60 303.60 L780.89 302.91 L782.17 302.20 L783.52 301.44 L784.78 300.71 L786.04 299.97 L787.28 299.22 L788.60 298.40" fill="none" stroke="#000000" stroke-width="2.8" stroke-linejoin="round" stroke-linecap="round" opacity="1.0"/>
<rect x="608.30" y="490.80" width="4.40" height="4.40" fill="#fff" stroke="#606060" stroke-width="0.65"/>
<rect x="612.53" y="489.04" width="4.40" height="4.40" fill="#fff" stroke="#606060" stroke-width="0.65"/>
<rect x="616.67" y="487.19" width="4.40" height="4.40" fill="#fff" stroke="#606060" stroke-width="0.65"/>
<rect x="620.81" y="485.23" width="4.40" height="4.40" fill="#fff" stroke="#606060" stroke-width="0.65"/>
<rect x="624.83" y="483.20" width="4.40" height="4.40" fill="#fff" stroke="#606060" stroke-width="0.65"/>
<rect x="628.89" y="481.01" width="4.40" height="4.40" fill="#fff" stroke="#606060" stroke-width="0.65"/>
<rect x="632.90" y="478.69" width="4.40" height="4.40" fill="#fff" stroke="#606060" stroke-width="0.65"/>
<rect x="636.84" y="476.26" width="4.40" height="4.40" fill="#fff" stroke="#606060" stroke-width="0.65"/>
<rect x="640.78" y="473.65" width="4.40" height="4.40" fill="#fff" stroke="#606060" stroke-width="0.65"/>
<rect x="644.61" y="470.92" width="4.40" height="4.40" fill="#fff" stroke="#606060" stroke-width="0.65"/>
<rect x="648.48" y="467.94" width="4.40" height="4.40" fill="#fff" stroke="#606060" stroke-width="0.65"/>
<rect x="652.27" y="464.76" width="4.40" height="4.40" fill="#fff" stroke="#606060" stroke-width="0.65"/>
<rect x="656.03" y="461.31" width="4.40" height="4.40" fill="#fff" stroke="#606060" stroke-width="0.65"/>
<rect x="659.78" y="457.49" width="4.40" height="4.40" fill="#fff" stroke="#606060" stroke-width="0.65"/>
<rect x="663.40" y="453.36" width="4.40" height="4.40" fill="#fff" stroke="#606060" stroke-width="0.65"/>
<rect x="667.05" y="448.59" width="4.40" height="4.40" fill="#fff" stroke="#606060" stroke-width="0.65"/>
<rect x="670.61" y="443.13" width="4.40" height="4.40" fill="#fff" stroke="#606060" stroke-width="0.65"/>
<rect x="674.05" y="436.75" width="4.40" height="4.40" fill="#fff" stroke="#606060" stroke-width="0.65"/>
<rect x="677.41" y="429.25" width="4.40" height="4.40" fill="#fff" stroke="#606060" stroke-width="0.65"/>
<rect x="680.68" y="420.49" width="4.40" height="4.40" fill="#fff" stroke="#606060" stroke-width="0.65"/>
<rect x="683.83" y="410.73" width="4.40" height="4.40" fill="#fff" stroke="#606060" stroke-width="0.65"/>
<rect x="686.89" y="400.49" width="4.40" height="4.40" fill="#fff" stroke="#606060" stroke-width="0.65"/>
<rect x="689.88" y="390.07" width="4.40" height="4.40" fill="#fff" stroke="#606060" stroke-width="0.65"/>
<rect x="692.86" y="379.68" width="4.40" height="4.40" fill="#fff" stroke="#606060" stroke-width="0.65"/>
<rect x="695.88" y="369.94" width="4.40" height="4.40" fill="#fff" stroke="#606060" stroke-width="0.65"/>
<rect x="698.99" y="361.31" width="4.40" height="4.40" fill="#fff" stroke="#606060" stroke-width="0.65"/>
<rect x="702.12" y="354.14" width="4.40" height="4.40" fill="#fff" stroke="#606060" stroke-width="0.65"/>
<rect x="705.35" y="348.06" width="4.40" height="4.40" fill="#fff" stroke="#606060" stroke-width="0.65"/>
<rect x="708.56" y="343.06" width="4.40" height="4.40" fill="#fff" stroke="#606060" stroke-width="0.65"/>
<rect x="711.75" y="338.92" width="4.40" height="4.40" fill="#fff" stroke="#606060" stroke-width="0.65"/>
<rect x="714.99" y="335.37" width="4.40" height="4.40" fill="#fff" stroke="#606060" stroke-width="0.65"/>
<rect x="718.23" y="332.36" width="4.40" height="4.40" fill="#fff" stroke="#606060" stroke-width="0.65"/>
<rect x="721.38" y="329.84" width="4.40" height="4.40" fill="#fff" stroke="#606060" stroke-width="0.65"/>
<rect x="724.56" y="327.57" width="4.40" height="4.40" fill="#fff" stroke="#606060" stroke-width="0.65"/>
<rect x="727.66" y="325.57" width="4.40" height="4.40" fill="#fff" stroke="#606060" stroke-width="0.65"/>
<rect x="730.77" y="323.72" width="4.40" height="4.40" fill="#fff" stroke="#606060" stroke-width="0.65"/>
<rect x="733.89" y="322.00" width="4.40" height="4.40" fill="#fff" stroke="#606060" stroke-width="0.65"/>
<rect x="736.98" y="320.38" width="4.40" height="4.40" fill="#fff" stroke="#606060" stroke-width="0.65"/>
<rect x="740.02" y="318.87" width="4.40" height="4.40" fill="#fff" stroke="#606060" stroke-width="0.65"/>
<rect x="743.00" y="317.45" width="4.40" height="4.40" fill="#fff" stroke="#606060" stroke-width="0.65"/>
<rect x="745.98" y="316.06" width="4.40" height="4.40" fill="#fff" stroke="#606060" stroke-width="0.65"/>
<rect x="748.96" y="314.70" width="4.40" height="4.40" fill="#fff" stroke="#606060" stroke-width="0.65"/>
<rect x="751.84" y="313.41" width="4.40" height="4.40" fill="#fff" stroke="#606060" stroke-width="0.65"/>
<rect x="754.80" y="312.09" width="4.40" height="4.40" fill="#fff" stroke="#606060" stroke-width="0.65"/>
<rect x="757.65" y="310.81" width="4.40" height="4.40" fill="#fff" stroke="#606060" stroke-width="0.65"/>
<rect x="760.48" y="309.54" width="4.40" height="4.40" fill="#fff" stroke="#606060" stroke-width="0.65"/>
<rect x="763.29" y="308.27" width="4.40" height="4.40" fill="#fff" stroke="#606060" stroke-width="0.65"/>
<rect x="766.08" y="306.98" width="4.40" height="4.40" fill="#fff" stroke="#606060" stroke-width="0.65"/>
<rect x="768.85" y="305.68" width="4.40" height="4.40" fill="#fff" stroke="#606060" stroke-width="0.65"/>
<rect x="771.59" y="304.36" width="4.40" height="4.40" fill="#fff" stroke="#606060" stroke-width="0.65"/>
<rect x="774.31" y="303.00" width="4.40" height="4.40" fill="#fff" stroke="#606060" stroke-width="0.65"/>
<rect x="777.08" y="301.57" width="4.40" height="4.40" fill="#fff" stroke="#606060" stroke-width="0.65"/>
<rect x="779.73" y="300.14" width="4.40" height="4.40" fill="#fff" stroke="#606060" stroke-width="0.65"/>
<rect x="782.35" y="298.65" width="4.40" height="4.40" fill="#fff" stroke="#606060" stroke-width="0.65"/>
<rect x="785.01" y="297.07" width="4.40" height="4.40" fill="#fff" stroke="#606060" stroke-width="0.65"/>
<rect x="786.40" y="296.20" width="4.40" height="4.40" fill="#fff" stroke="#606060" stroke-width="0.65"/>
<path d="M610.50 493.00 L611.66 492.17 L612.83 491.33 L614.00 490.47 L615.17 489.59 L616.35 488.69 L617.52 487.77 L618.69 486.84 L619.86 485.89 L621.02 484.92 L622.24 483.88 L623.39 482.88 L624.53 481.86 L625.67 480.83 L626.78 479.78 L627.89 478.72 L628.98 477.64 L630.06 476.54 L631.11 475.43 L632.15 474.31 L633.22 473.11 L634.22 471.96 L635.19 470.79 L636.14 469.61 L637.06 468.42 L637.96 467.22 L638.84 466.00 L639.69 464.77 L640.52 463.53 L641.32 462.28 L642.14 460.95 L642.90 459.67 L643.63 458.38 L644.33 457.08 L645.01 455.78 L645.67 454.46 L646.31 453.13 L646.91 451.79 L647.50 450.44 L648.06 449.09 L648.63 447.65 L649.14 446.28 L649.64 444.89 L650.11 443.50 L650.56 442.10 L651.00 440.70 L651.41 439.28 L651.81 437.86 L652.19 436.44 L652.55 435.00 L652.92 433.49 L653.25 432.04 L653.57 430.59 L653.87 429.13 L654.16 427.67 L654.44 426.20 L654.71 424.73 L654.97 423.25 L655.22 421.77 L655.48 420.21 L655.71 418.72 L655.93 417.23 L656.15 415.74 L656.37 414.24 L656.57 412.74 L656.78 411.24 L656.98 409.73 L657.17 408.23 L657.37 406.72 L657.57 405.13 L657.77 403.62 L657.96 402.11 L658.16 400.60 L658.35 399.08 L658.55 397.57 L658.75 396.06 L658.96 394.55 L659.17 393.04 L659.39 391.53 L659.62 389.94 L659.85 388.44 L660.09 386.93 L660.34 385.43 L660.59 383.93 L660.86 382.44 L661.14 380.94 L661.43 379.45 L661.73 377.96 L662.04 376.48 L662.38 374.92 L662.73 373.45 L663.08 371.98 L663.45 370.52 L663.83 369.06 L664.23 367.61 L664.65 366.16 L665.08 364.72 L665.53 363.29 L665.99 361.87 L666.50 360.39 L667.00 358.98 L667.52 357.59 L668.05 356.20 L668.61 354.83 L669.19 353.47 L669.78 352.11 L670.39 350.77 L671.03 349.44 L671.72 348.06 L672.40 346.75 L673.10 345.46 L673.82 344.19 L674.57 342.92 L675.34 341.67 L676.13 340.44 L676.95 339.22 L677.79 338.02 L678.65 336.83 L679.59 335.60 L680.50 334.45 L681.45 333.32 L682.42 332.20 L683.41 331.10 L684.43 330.02 L685.48 328.96 L686.54 327.91 L687.63 326.88 L688.74 325.86 L689.93 324.80 L691.07 323.81 L692.23 322.83 L693.41 321.86 L694.60 320.91 L695.80 319.96 L697.01 319.02 L698.23 318.09 L699.46 317.17 L700.70 316.25 L702.01 315.30 L703.25 314.39 L704.50 313.50 L705.75 312.60 L707.00 311.71 L708.25 310.82 L709.50 309.93 L710.74 309.05 L711.98 308.16 L713.21 307.27 L714.50 306.34 L715.72 305.45 L716.92 304.55 L718.11 303.65 L719.29 302.75 L720.46 301.85 L721.60 300.93 L722.74 300.01 L723.85 299.09 L725.00 298.10" fill="none" stroke="#ff0000" stroke-width="2.8" stroke-linejoin="round" stroke-linecap="round" opacity="1.0"/>
<circle cx="610.50" cy="493.00" r="2.30" fill="#fff" stroke="#ff4040" stroke-width="0.65"/>
<circle cx="613.87" cy="490.56" r="2.30" fill="#fff" stroke="#ff4040" stroke-width="0.65"/>
<circle cx="617.21" cy="488.01" r="2.30" fill="#fff" stroke="#ff4040" stroke-width="0.65"/>
<circle cx="620.47" cy="485.38" r="2.30" fill="#fff" stroke="#ff4040" stroke-width="0.65"/>
<circle cx="623.69" cy="482.62" r="2.30" fill="#fff" stroke="#ff4040" stroke-width="0.65"/>
<circle cx="626.90" cy="479.67" r="2.30" fill="#fff" stroke="#ff4040" stroke-width="0.65"/>
<circle cx="630.06" cy="476.54" r="2.30" fill="#fff" stroke="#ff4040" stroke-width="0.65"/>
<circle cx="633.17" cy="473.17" r="2.30" fill="#fff" stroke="#ff4040" stroke-width="0.65"/>
<circle cx="636.24" cy="469.49" r="2.30" fill="#fff" stroke="#ff4040" stroke-width="0.65"/>
<circle cx="639.25" cy="465.42" r="2.30" fill="#fff" stroke="#ff4040" stroke-width="0.65"/>
<circle cx="642.18" cy="460.88" r="2.30" fill="#fff" stroke="#ff4040" stroke-width="0.65"/>
<circle cx="645.01" cy="455.78" r="2.30" fill="#fff" stroke="#ff4040" stroke-width="0.65"/>
<circle cx="647.74" cy="449.87" r="2.30" fill="#fff" stroke="#ff4040" stroke-width="0.65"/>
<circle cx="650.28" cy="442.99" r="2.30" fill="#fff" stroke="#ff4040" stroke-width="0.65"/>
<circle cx="652.57" cy="434.93" r="2.30" fill="#fff" stroke="#ff4040" stroke-width="0.65"/>
<circle cx="654.55" cy="425.66" r="2.30" fill="#fff" stroke="#ff4040" stroke-width="0.65"/>
<circle cx="656.18" cy="415.58" r="2.30" fill="#fff" stroke="#ff4040" stroke-width="0.65"/>
<circle cx="657.59" cy="404.97" r="2.30" fill="#fff" stroke="#ff4040" stroke-width="0.65"/>
<circle cx="658.98" cy="394.39" r="2.30" fill="#fff" stroke="#ff4040" stroke-width="0.65"/>
<circle cx="660.54" cy="384.25" r="2.30" fill="#fff" stroke="#ff4040" stroke-width="0.65"/>
<circle cx="662.38" cy="374.92" r="2.30" fill="#fff" stroke="#ff4040" stroke-width="0.65"/>
<circle cx="664.49" cy="366.69" r="2.30" fill="#fff" stroke="#ff4040" stroke-width="0.65"/>
<circle cx="666.79" cy="359.57" r="2.30" fill="#fff" stroke="#ff4040" stroke-width="0.65"/>
<circle cx="669.25" cy="353.32" r="2.30" fill="#fff" stroke="#ff4040" stroke-width="0.65"/>
<circle cx="671.79" cy="347.92" r="2.30" fill="#fff" stroke="#ff4040" stroke-width="0.65"/>
<circle cx="674.41" cy="343.19" r="2.30" fill="#fff" stroke="#ff4040" stroke-width="0.65"/>
<circle cx="677.08" cy="339.03" r="2.30" fill="#fff" stroke="#ff4040" stroke-width="0.65"/>
<circle cx="679.73" cy="335.42" r="2.30" fill="#fff" stroke="#ff4040" stroke-width="0.65"/>
<circle cx="682.42" cy="332.20" r="2.30" fill="#fff" stroke="#ff4040" stroke-width="0.65"/>
<circle cx="685.09" cy="329.35" r="2.30" fill="#fff" stroke="#ff4040" stroke-width="0.65"/>
<circle cx="687.75" cy="326.77" r="2.30" fill="#fff" stroke="#ff4040" stroke-width="0.65"/>
<circle cx="690.41" cy="324.38" r="2.30" fill="#fff" stroke="#ff4040" stroke-width="0.65"/>
<circle cx="693.10" cy="322.12" r="2.30" fill="#fff" stroke="#ff4040" stroke-width="0.65"/>
<circle cx="695.67" cy="320.06" r="2.30" fill="#fff" stroke="#ff4040" stroke-width="0.65"/>
<circle cx="698.30" cy="318.04" r="2.30" fill="#fff" stroke="#ff4040" stroke-width="0.65"/>
<circle cx="700.90" cy="316.11" r="2.30" fill="#fff" stroke="#ff4040" stroke-width="0.65"/>
<circle cx="703.45" cy="314.25" r="2.30" fill="#fff" stroke="#ff4040" stroke-width="0.65"/>
<circle cx="706.02" cy="312.41" r="2.30" fill="#fff" stroke="#ff4040" stroke-width="0.65"/>
<circle cx="708.52" cy="310.63" r="2.30" fill="#fff" stroke="#ff4040" stroke-width="0.65"/>
<circle cx="711.07" cy="308.81" r="2.30" fill="#fff" stroke="#ff4040" stroke-width="0.65"/>
<circle cx="713.54" cy="307.04" r="2.30" fill="#fff" stroke="#ff4040" stroke-width="0.65"/>
<circle cx="715.97" cy="305.26" r="2.30" fill="#fff" stroke="#ff4040" stroke-width="0.65"/>
<circle cx="718.42" cy="303.42" r="2.30" fill="#fff" stroke="#ff4040" stroke-width="0.65"/>
<circle cx="720.82" cy="301.56" r="2.30" fill="#fff" stroke="#ff4040" stroke-width="0.65"/>
<circle cx="723.21" cy="299.62" r="2.30" fill="#fff" stroke="#ff4040" stroke-width="0.65"/>
<circle cx="725.00" cy="298.10" r="2.30" fill="#fff" stroke="#ff4040" stroke-width="0.65"/>
<path d="M610.50 493.00 L611.60 491.88 L612.67 490.74 L613.71 489.60 L614.74 488.44 L615.74 487.28 L616.71 486.10 L617.67 484.91 L618.60 483.71 L619.55 482.45 L620.44 481.23 L621.31 480.01 L622.16 478.77 L622.98 477.53 L623.79 476.27 L624.58 475.01 L625.35 473.74 L626.13 472.40 L626.86 471.11 L627.57 469.81 L628.26 468.51 L628.94 467.19 L629.60 465.87 L630.24 464.55 L630.87 463.21 L631.48 461.87 L632.10 460.45 L632.68 459.09 L633.24 457.73 L633.79 456.36 L634.33 454.98 L634.85 453.60 L635.36 452.21 L635.85 450.81 L636.36 449.35 L636.83 447.94 L637.28 446.53 L637.73 445.11 L638.16 443.68 L638.59 442.26 L639.00 440.82 L639.40 439.38 L639.82 437.87 L640.20 436.43 L640.57 434.98 L640.94 433.52 L641.30 432.06 L641.65 430.60 L641.99 429.13 L642.32 427.66 L642.65 426.19 L642.99 424.64 L643.30 423.16 L643.61 421.68 L643.91 420.19 L644.21 418.71 L644.51 417.22 L644.79 415.72 L645.08 414.23 L645.37 412.66 L645.65 411.17 L645.93 409.67 L646.20 408.17 L646.47 406.67 L646.74 405.16 L647.01 403.66 L647.27 402.16 L647.55 400.58 L647.82 399.07 L648.08 397.57 L648.35 396.06 L648.61 394.56 L648.88 393.05 L649.15 391.55 L649.42 390.04 L649.69 388.54 L649.98 386.97 L650.26 385.46 L650.54 383.96 L650.83 382.47 L651.11 380.97 L651.41 379.47 L651.70 377.98 L652.00 376.49 L652.32 374.93 L652.64 373.44 L652.95 371.95 L653.28 370.47 L653.61 368.99 L653.94 367.52 L654.29 366.04 L654.64 364.57 L655.02 363.04 L655.38 361.57 L655.76 360.11 L656.14 358.66 L656.54 357.21 L656.94 355.76 L657.35 354.32 L657.77 352.88 L658.20 351.45 L658.67 349.95 L659.12 348.53 L659.59 347.11 L660.07 345.70 L660.56 344.29 L661.06 342.89 L661.57 341.49 L662.10 340.11 L662.66 338.66 L663.22 337.28 L663.79 335.91 L664.37 334.55 L664.97 333.19 L665.58 331.84 L666.21 330.50 L666.85 329.16 L667.54 327.77 L668.21 326.45 L668.91 325.14 L669.62 323.83 L670.34 322.54 L671.08 321.25 L671.85 319.97 L672.63 318.70 L673.42 317.43 L674.28 316.12 L675.12 314.88 L675.97 313.64 L676.85 312.42 L677.75 311.20 L678.66 309.99 L679.60 308.80 L680.56 307.61 L681.59 306.38 L682.59 305.21 L683.61 304.06 L684.66 302.91 L685.73 301.78 L686.83 300.65 L687.94 299.54 L689.08 298.44 L690.30 297.30" fill="none" stroke="#0000ff" stroke-width="2.8" stroke-linejoin="round" stroke-linecap="round" opacity="1.0"/>
<path d="M610.50 490.36L613.13 494.77L607.88 494.77Z" fill="#fff" stroke="#4848ff" stroke-width="0.65" stroke-linejoin="round"/>
<path d="M613.47 487.23L616.09 491.64L610.84 491.64Z" fill="#fff" stroke="#4848ff" stroke-width="0.65" stroke-linejoin="round"/>
<path d="M616.39 483.85L619.02 488.26L613.77 488.26Z" fill="#fff" stroke="#4848ff" stroke-width="0.65" stroke-linejoin="round"/>
<path d="M619.30 480.15L621.92 484.56L616.67 484.56Z" fill="#fff" stroke="#4848ff" stroke-width="0.65" stroke-linejoin="round"/>
<path d="M622.12 476.18L624.74 480.59L619.49 480.59Z" fill="#fff" stroke="#4848ff" stroke-width="0.65" stroke-linejoin="round"/>
<path d="M624.95 471.76L627.57 476.17L622.32 476.17Z" fill="#fff" stroke="#4848ff" stroke-width="0.65" stroke-linejoin="round"/>
<path d="M627.70 466.92L630.33 471.33L625.08 471.33Z" fill="#fff" stroke="#4848ff" stroke-width="0.65" stroke-linejoin="round"/>
<path d="M630.45 461.45L633.08 465.86L627.83 465.86Z" fill="#fff" stroke="#4848ff" stroke-width="0.65" stroke-linejoin="round"/>
<path d="M633.11 455.41L635.74 459.82L630.49 459.82Z" fill="#fff" stroke="#4848ff" stroke-width="0.65" stroke-linejoin="round"/>
<path d="M635.69 448.63L638.31 453.04L633.06 453.04Z" fill="#fff" stroke="#4848ff" stroke-width="0.65" stroke-linejoin="round"/>
<path d="M638.16 441.04L640.79 445.45L635.54 445.45Z" fill="#fff" stroke="#4848ff" stroke-width="0.65" stroke-linejoin="round"/>
<path d="M640.54 432.47L643.16 436.88L637.91 436.88Z" fill="#fff" stroke="#4848ff" stroke-width="0.65" stroke-linejoin="round"/>
<path d="M642.77 422.98L645.40 427.39L640.15 427.39Z" fill="#fff" stroke="#4848ff" stroke-width="0.65" stroke-linejoin="round"/>
<path d="M644.86 412.72L647.49 417.13L642.24 417.13Z" fill="#fff" stroke="#4848ff" stroke-width="0.65" stroke-linejoin="round"/>
<path d="M646.86 401.87L649.48 406.28L644.23 406.28Z" fill="#fff" stroke="#4848ff" stroke-width="0.65" stroke-linejoin="round"/>
<path d="M648.79 390.91L651.42 395.32L646.17 395.32Z" fill="#fff" stroke="#4848ff" stroke-width="0.65" stroke-linejoin="round"/>
<path d="M650.77 380.10L653.40 384.51L648.15 384.51Z" fill="#fff" stroke="#4848ff" stroke-width="0.65" stroke-linejoin="round"/>
<path d="M652.82 369.94L655.44 374.35L650.19 374.35Z" fill="#fff" stroke="#4848ff" stroke-width="0.65" stroke-linejoin="round"/>
<path d="M654.96 360.60L657.59 365.01L652.34 365.01Z" fill="#fff" stroke="#4848ff" stroke-width="0.65" stroke-linejoin="round"/>
<path d="M657.21 352.15L659.84 356.56L654.59 356.56Z" fill="#fff" stroke="#4848ff" stroke-width="0.65" stroke-linejoin="round"/>
<path d="M659.57 344.53L662.19 348.94L656.94 348.94Z" fill="#fff" stroke="#4848ff" stroke-width="0.65" stroke-linejoin="round"/>
<path d="M661.97 337.79L664.60 342.20L659.35 342.20Z" fill="#fff" stroke="#4848ff" stroke-width="0.65" stroke-linejoin="round"/>
<path d="M664.43 331.77L667.05 336.18L661.80 336.18Z" fill="#fff" stroke="#4848ff" stroke-width="0.65" stroke-linejoin="round"/>
<path d="M666.91 326.39L669.54 330.80L664.29 330.80Z" fill="#fff" stroke="#4848ff" stroke-width="0.65" stroke-linejoin="round"/>
<path d="M669.41 321.56L672.04 325.97L666.79 325.97Z" fill="#fff" stroke="#4848ff" stroke-width="0.65" stroke-linejoin="round"/>
<path d="M671.92 317.20L674.54 321.61L669.29 321.61Z" fill="#fff" stroke="#4848ff" stroke-width="0.65" stroke-linejoin="round"/>
<path d="M674.44 313.24L677.06 317.65L671.81 317.65Z" fill="#fff" stroke="#4848ff" stroke-width="0.65" stroke-linejoin="round"/>
<path d="M676.93 309.65L679.56 314.06L674.31 314.06Z" fill="#fff" stroke="#4848ff" stroke-width="0.65" stroke-linejoin="round"/>
<path d="M679.47 306.32L682.09 310.73L676.84 310.73Z" fill="#fff" stroke="#4848ff" stroke-width="0.65" stroke-linejoin="round"/>
<path d="M681.97 303.29L684.59 307.70L679.34 307.70Z" fill="#fff" stroke="#4848ff" stroke-width="0.65" stroke-linejoin="round"/>
<path d="M684.46 300.48L687.09 304.89L681.84 304.89Z" fill="#fff" stroke="#4848ff" stroke-width="0.65" stroke-linejoin="round"/>
<path d="M686.98 297.85L689.61 302.26L684.36 302.26Z" fill="#fff" stroke="#4848ff" stroke-width="0.65" stroke-linejoin="round"/>
<path d="M689.47 295.43L692.09 299.84L686.84 299.84Z" fill="#fff" stroke="#4848ff" stroke-width="0.65" stroke-linejoin="round"/>
<path d="M690.30 294.66L692.93 299.07L687.68 299.07Z" fill="#fff" stroke="#4848ff" stroke-width="0.65" stroke-linejoin="round"/>
<path d="M610.50 493.00 L611.30 491.78 L612.12 490.49 L612.92 489.19 L613.70 487.88 L614.45 486.57 L615.18 485.24 L615.90 483.91 L616.59 482.58 L617.26 481.23 L617.88 479.94 L618.52 478.58 L619.13 477.22 L619.73 475.84 L620.31 474.46 L620.87 473.08 L621.41 471.69 L621.94 470.29 L622.45 468.88 L622.92 467.54 L623.40 466.12 L623.86 464.70 L624.31 463.27 L624.74 461.84 L625.16 460.40 L625.56 458.96 L625.95 457.51 L626.33 456.06 L626.67 454.66 L627.02 453.20 L627.36 451.74 L627.69 450.26 L628.00 448.79 L628.31 447.31 L628.60 445.83 L628.88 444.34 L629.15 442.85 L629.40 441.42 L629.65 439.92 L629.90 438.42 L630.13 436.92 L630.36 435.41 L630.58 433.90 L630.79 432.39 L630.99 430.87 L631.18 429.35 L631.36 427.90 L631.55 426.38 L631.72 424.85 L631.90 423.33 L632.06 421.80 L632.22 420.27 L632.38 418.74 L632.53 417.21 L632.68 415.67 L632.82 414.21 L632.96 412.67 L633.10 411.13 L633.24 409.59 L633.38 408.06 L633.51 406.52 L633.64 404.98 L633.77 403.44 L633.90 401.90 L634.03 400.43 L634.16 398.89 L634.29 397.35 L634.42 395.81 L634.56 394.28 L634.69 392.74 L634.83 391.20 L634.97 389.67 L635.11 388.13 L635.26 386.60 L635.40 385.14 L635.55 383.61 L635.71 382.08 L635.87 380.56 L636.03 379.03 L636.20 377.51 L636.38 375.99 L636.56 374.47 L636.75 372.96 L636.93 371.52 L637.14 370.01 L637.35 368.50 L637.56 367.00 L637.79 365.50 L638.02 364.00 L638.26 362.50 L638.51 361.01 L638.77 359.53 L639.03 358.11 L639.31 356.63 L639.60 355.16 L639.90 353.69 L640.21 352.22 L640.54 350.76 L640.88 349.31 L641.22 347.85 L641.59 346.41 L641.94 345.03 L642.33 343.59 L642.73 342.16 L643.15 340.74 L643.58 339.32 L644.02 337.90 L644.48 336.49 L644.96 335.09 L645.45 333.69 L645.93 332.37 L646.46 330.98 L647.00 329.60 L647.55 328.23 L648.13 326.87 L648.72 325.51 L649.34 324.16 L649.97 322.82 L650.62 321.48 L651.26 320.22 L651.95 318.90 L652.65 317.58 L653.38 316.28 L654.14 314.98 L654.91 313.69 L655.70 312.41 L656.52 311.14 L657.35 309.88 L658.18 308.68 L659.06 307.43 L659.97 306.20 L660.90 304.97 L661.85 303.75 L662.83 302.54 L663.83 301.34 L664.86 300.15 L665.92 298.97 L667.00 297.80" fill="none" stroke="#127f7c" stroke-width="2.8" stroke-linejoin="round" stroke-linecap="round" opacity="1.0"/>
<path d="M610.50 495.65L613.13 491.24L607.88 491.24Z" fill="#fff" stroke="#4c9e9b" stroke-width="0.65" stroke-linejoin="round"/>
<path d="M613.73 490.47L616.36 486.06L611.11 486.06Z" fill="#fff" stroke="#4c9e9b" stroke-width="0.65" stroke-linejoin="round"/>
<path d="M616.87 484.67L619.49 480.26L614.24 480.26Z" fill="#fff" stroke="#4c9e9b" stroke-width="0.65" stroke-linejoin="round"/>
<path d="M619.97 477.93L622.59 473.52L617.34 473.52Z" fill="#fff" stroke="#4c9e9b" stroke-width="0.65" stroke-linejoin="round"/>
<path d="M623.05 469.80L625.68 465.39L620.43 465.39Z" fill="#fff" stroke="#4c9e9b" stroke-width="0.65" stroke-linejoin="round"/>
<path d="M626.05 459.76L628.68 455.35L623.43 455.35Z" fill="#fff" stroke="#4c9e9b" stroke-width="0.65" stroke-linejoin="round"/>
<path d="M629.04 446.10L631.67 441.69L626.42 441.69Z" fill="#fff" stroke="#4c9e9b" stroke-width="0.65" stroke-linejoin="round"/>
<path d="M631.97 425.28L634.60 420.87L629.35 420.87Z" fill="#fff" stroke="#4c9e9b" stroke-width="0.65" stroke-linejoin="round"/>
<path d="M634.87 393.43L637.49 389.02L632.24 389.02Z" fill="#fff" stroke="#4c9e9b" stroke-width="0.65" stroke-linejoin="round"/>
<path d="M637.72 368.55L640.35 364.14L635.10 364.14Z" fill="#fff" stroke="#4c9e9b" stroke-width="0.65" stroke-linejoin="round"/>
<path d="M640.54 353.41L643.16 349.00L637.91 349.00Z" fill="#fff" stroke="#4c9e9b" stroke-width="0.65" stroke-linejoin="round"/>
<path d="M643.32 342.80L645.95 338.39L640.70 338.39Z" fill="#fff" stroke="#4c9e9b" stroke-width="0.65" stroke-linejoin="round"/>
<path d="M646.05 334.70L648.67 330.29L643.42 330.29Z" fill="#fff" stroke="#4c9e9b" stroke-width="0.65" stroke-linejoin="round"/>
<path d="M648.75 328.10L651.38 323.69L646.13 323.69Z" fill="#fff" stroke="#4c9e9b" stroke-width="0.65" stroke-linejoin="round"/>
<path d="M651.41 322.56L654.04 318.15L648.79 318.15Z" fill="#fff" stroke="#4c9e9b" stroke-width="0.65" stroke-linejoin="round"/>
<path d="M654.03 317.80L656.66 313.39L651.41 313.39Z" fill="#fff" stroke="#4c9e9b" stroke-width="0.65" stroke-linejoin="round"/>
<path d="M656.63 313.61L659.25 309.20L654.00 309.20Z" fill="#fff" stroke="#4c9e9b" stroke-width="0.65" stroke-linejoin="round"/>
<path d="M659.18 309.91L661.81 305.50L656.56 305.50Z" fill="#fff" stroke="#4c9e9b" stroke-width="0.65" stroke-linejoin="round"/>
<path d="M661.67 306.62L664.30 302.21L659.05 302.21Z" fill="#fff" stroke="#4c9e9b" stroke-width="0.65" stroke-linejoin="round"/>
<path d="M664.16 303.61L666.78 299.20L661.53 299.20Z" fill="#fff" stroke="#4c9e9b" stroke-width="0.65" stroke-linejoin="round"/>
<path d="M666.60 300.87L669.23 296.46L663.98 296.46Z" fill="#fff" stroke="#4c9e9b" stroke-width="0.65" stroke-linejoin="round"/>
<rect x="573.6" y="284.6" width="73.60" height="31.90" fill="#fff" stroke="#000" stroke-width="2.2"/>
<text x="580.7" y="307.7" font-family="Liberation Sans" font-size="16.6" font-weight="normal" text-anchor="start" textLength="57.4" lengthAdjust="spacingAndGlyphs" stroke="#000" stroke-width="0.35">PPCS-3:1</text>
<rect x="718.4" y="386" width="65.70" height="61.00" fill="#fff" stroke="#c4c4c4" stroke-width="1"/>
<line x1="721.5" y1="395.4" x2="739.3" y2="395.4" stroke="#000000" stroke-width="4" stroke-linecap="round"/>
<circle cx="730.40" cy="395.40" r="2.30" fill="#fff" stroke="#606060" stroke-width="0.8"/>
<text x="742.7" y="399.1" font-family="Liberation Sans" font-size="10.4" font-weight="bold" text-anchor="start" textLength="40" lengthAdjust="spacingAndGlyphs" stroke="#000" stroke-width="0.25">5°C / min</text>
<line x1="721.5" y1="410.2" x2="739.3" y2="410.2" stroke="#ff0000" stroke-width="4" stroke-linecap="round"/>
<circle cx="730.40" cy="410.20" r="2.30" fill="#fff" stroke="#ff4040" stroke-width="0.8"/>
<text x="742.7" y="413.9" font-family="Liberation Sans" font-size="10.4" font-weight="bold" text-anchor="start" textLength="40" lengthAdjust="spacingAndGlyphs" stroke="#000" stroke-width="0.25">10°C/min</text>
<line x1="721.5" y1="425.4" x2="739.3" y2="425.4" stroke="#0000ff" stroke-width="4" stroke-linecap="round"/>
<path d="M730.40 422.50L733.27 427.33L727.52 427.33Z" fill="#fff" stroke="#4848ff" stroke-width="0.8" stroke-linejoin="round"/>
<text x="742.7" y="429.1" font-family="Liberation Sans" font-size="10.4" font-weight="bold" text-anchor="start" textLength="40" lengthAdjust="spacingAndGlyphs" stroke="#000" stroke-width="0.25">15°C/min</text>
<line x1="721.5" y1="440.6" x2="739.3" y2="440.6" stroke="#127f7c" stroke-width="4" stroke-linecap="round"/>
<path d="M730.40 443.50L733.27 438.67L727.52 438.67Z" fill="#fff" stroke="#4c9e9b" stroke-width="0.8" stroke-linejoin="round"/>
<text x="742.7" y="444.3" font-family="Liberation Sans" font-size="10.4" font-weight="bold" text-anchor="start" textLength="40" lengthAdjust="spacingAndGlyphs" stroke="#000" stroke-width="0.25">20°C/min</text>
</svg></body></html>
